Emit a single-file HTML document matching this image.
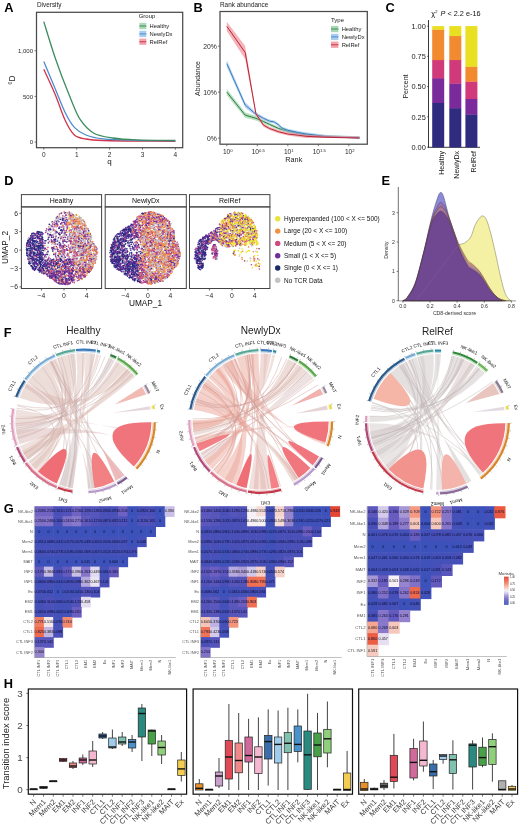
<!DOCTYPE html>
<html><head><meta charset="utf-8"><style>
html,body{margin:0;padding:0;background:#fff;}
svg{display:block;font-family:"Liberation Sans", sans-serif;filter:blur(0.35px);}
</style></head><body>
<svg width="520" height="832" viewBox="0 0 520 832">
<rect width="520" height="832" fill="#fff"/>
<text x="4.3" y="12.3" font-size="12.8" text-anchor="start" fill="#000" font-weight="bold">A</text>
<text x="37" y="6.8" font-size="6.4" text-anchor="start" fill="#222">Diversity</text>
<rect x="36.5" y="12.3" width="146.2" height="135.4" fill="none" stroke="#4a4a4a" stroke-width="1.25"/>
<line x1="34.5" y1="142.1" x2="36.5" y2="142.1" stroke="#555" stroke-width="0.8"/>
<text x="33" y="144.2" font-size="6" text-anchor="end" fill="#2a2a2a">0</text>
<line x1="34.5" y1="96.4" x2="36.5" y2="96.4" stroke="#555" stroke-width="0.8"/>
<text x="33" y="98.5" font-size="6" text-anchor="end" fill="#2a2a2a">500</text>
<line x1="34.5" y1="50.7" x2="36.5" y2="50.7" stroke="#555" stroke-width="0.8"/>
<text x="33" y="52.8" font-size="6" text-anchor="end" fill="#2a2a2a">1,000</text>
<line x1="43.8" y1="147.7" x2="43.8" y2="149.7" stroke="#555" stroke-width="0.8"/>
<text x="43.8" y="156.8" font-size="6.5" text-anchor="middle" fill="#2a2a2a">0</text>
<line x1="76.7" y1="147.7" x2="76.7" y2="149.7" stroke="#555" stroke-width="0.8"/>
<text x="76.7" y="156.8" font-size="6.5" text-anchor="middle" fill="#2a2a2a">1</text>
<line x1="109.6" y1="147.7" x2="109.6" y2="149.7" stroke="#555" stroke-width="0.8"/>
<text x="109.6" y="156.8" font-size="6.5" text-anchor="middle" fill="#2a2a2a">2</text>
<line x1="142.5" y1="147.7" x2="142.5" y2="149.7" stroke="#555" stroke-width="0.8"/>
<text x="142.5" y="156.8" font-size="6.5" text-anchor="middle" fill="#2a2a2a">3</text>
<line x1="175.4" y1="147.7" x2="175.4" y2="149.7" stroke="#555" stroke-width="0.8"/>
<text x="175.4" y="156.8" font-size="6.5" text-anchor="middle" fill="#2a2a2a">4</text>
<text x="109.6" y="164.3" font-size="8" text-anchor="middle" fill="#111">q</text>
<text x="14.6" y="80" font-size="8.3" text-anchor="middle" fill="#222" transform="rotate(-90 14.6 80)"><tspan font-size="5" dy="-2.8">0</tspan><tspan dy="2.8">D</tspan></text>
<path d="M43.8 69.3C45.7 73.5 51.8 86.3 55.3 94.7C58.8 103.1 61.7 113 64.9 119.7C68 126.4 70.9 131.8 74.4 135C77.9 138.2 81.1 138.1 85.9 139C90.7 139.9 95 140.2 103.3 140.5C111.7 140.8 123.9 141 135.9 141.1C147.9 141.2 168.8 141.3 175.4 141.3" fill="none" stroke="#d13349" stroke-width="1.3"/>
<path d="M43.8 61.6C45.7 66.2 51.8 80.5 55.3 88.9C58.8 97.3 61.7 105.6 64.9 112C68 118.4 70.9 123.6 74.4 127.4C77.9 131.2 81.1 133.1 85.9 135C90.7 136.9 95 138 103.3 138.9C111.7 139.8 123.9 140 135.9 140.3C147.9 140.6 168.8 140.7 175.4 140.8" fill="none" stroke="#4d8bd1" stroke-width="1.3"/>
<path d="M43.8 21.6C45.7 27.7 51 45.7 55.3 58.2C59.6 70.7 65.6 86.3 69.8 96.6C74 106.8 76.3 113.6 80.3 119.7C84.3 125.8 88.4 130.1 93.8 133.2C99.2 136.2 105.9 136.9 112.9 138C119.9 139.1 125.5 139.5 135.9 139.9C146.3 140.3 168.8 140.4 175.4 140.5" fill="none" stroke="#3d8c5f" stroke-width="1.3"/>
<text x="138.7" y="18.2" font-size="6" text-anchor="start" fill="#222">Group</text>
<rect x="139.4" y="22.9" width="6.9" height="6.3" fill="#a9d8b4"/>
<line x1="139.4" y1="26" x2="146.3" y2="26" stroke="#3d8c5f" stroke-width="1"/>
<text x="149.6" y="28.1" font-size="5.8" text-anchor="start" fill="#222">Healthy</text>
<rect x="139.4" y="30.8" width="6.9" height="6.3" fill="#a9cdef"/>
<line x1="139.4" y1="33.9" x2="146.3" y2="33.9" stroke="#4d8bd1" stroke-width="1"/>
<text x="149.6" y="36" font-size="5.8" text-anchor="start" fill="#222">NewlyDx</text>
<rect x="139.4" y="38.6" width="6.9" height="6.3" fill="#f2a3ab"/>
<line x1="139.4" y1="41.8" x2="146.3" y2="41.8" stroke="#d13349" stroke-width="1"/>
<text x="149.6" y="43.9" font-size="5.8" text-anchor="start" fill="#222">RelRef</text>
<text x="193.5" y="12" font-size="12.8" text-anchor="start" fill="#000" font-weight="bold">B</text>
<text x="220" y="6.5" font-size="6.4" text-anchor="start" fill="#222">Rank abundance</text>
<rect x="220" y="11.5" width="147.3" height="132.7" fill="none" stroke="#4a4a4a" stroke-width="1.25"/>
<line x1="218" y1="138.1" x2="220" y2="138.1" stroke="#555" stroke-width="0.8"/>
<text x="216.8" y="140.6" font-size="6.8" text-anchor="end" fill="#2a2a2a">0%</text>
<line x1="218" y1="92.1" x2="220" y2="92.1" stroke="#555" stroke-width="0.8"/>
<text x="216.8" y="94.6" font-size="6.8" text-anchor="end" fill="#2a2a2a">10%</text>
<line x1="218" y1="46.1" x2="220" y2="46.1" stroke="#555" stroke-width="0.8"/>
<text x="216.8" y="48.6" font-size="6.8" text-anchor="end" fill="#2a2a2a">20%</text>
<line x1="226.8" y1="144.2" x2="226.8" y2="146.2" stroke="#555" stroke-width="0.8"/>
<text x="227.8" y="154.3" font-size="6.6" text-anchor="middle" fill="#2a2a2a">10<tspan font-size="4.2" dy="-2.8">0</tspan></text>
<line x1="257.3" y1="144.2" x2="257.3" y2="146.2" stroke="#555" stroke-width="0.8"/>
<text x="258.3" y="154.3" font-size="6.6" text-anchor="middle" fill="#2a2a2a">10<tspan font-size="4.2" dy="-2.8">0.5</tspan></text>
<line x1="287.8" y1="144.2" x2="287.8" y2="146.2" stroke="#555" stroke-width="0.8"/>
<text x="288.8" y="154.3" font-size="6.6" text-anchor="middle" fill="#2a2a2a">10<tspan font-size="4.2" dy="-2.8">1</tspan></text>
<line x1="318.3" y1="144.2" x2="318.3" y2="146.2" stroke="#555" stroke-width="0.8"/>
<text x="319.3" y="154.3" font-size="6.6" text-anchor="middle" fill="#2a2a2a">10<tspan font-size="4.2" dy="-2.8">1.5</tspan></text>
<line x1="348.8" y1="144.2" x2="348.8" y2="146.2" stroke="#555" stroke-width="0.8"/>
<text x="349.8" y="154.3" font-size="6.6" text-anchor="middle" fill="#2a2a2a">10<tspan font-size="4.2" dy="-2.8">2</tspan></text>
<text x="293.8" y="162.3" font-size="7.3" text-anchor="middle" fill="#222">Rank</text>
<text x="199.5" y="78.5" font-size="6.9" text-anchor="middle" fill="#222" transform="rotate(-90 199.5 78.5)">Abundance</text>
<polygon points="226.8,88.9 245.2,112.5 255.9,116.1 263.5,119.7 269.4,122.7 278.4,126.8 287.8,129.6 298.5,131.9 306.2,133.3 324.5,134.9 342.9,135.8 359.5,136.3 359.5,138.1 342.9,138.1 324.5,138.1 306.2,136.5 298.5,135.1 287.8,132.8 278.4,130 269.4,125.9 263.5,123.4 255.9,120.5 245.2,117.7 226.8,95.3" fill="#8fcf9c" opacity="0.65"/>
<polyline points="226.8,92.1 245.2,115.1 255.9,118.3 263.5,121.5 269.4,124.3 278.4,128.4 287.8,131.2 298.5,133.5 306.2,134.9 324.5,136.5 342.9,137.4 359.5,137.9" fill="none" stroke="#2f7a48" stroke-width="1"/>
<polygon points="226.8,60.1 245.2,102.3 255.9,112.2 263.5,116.7 269.4,119.5 274.3,120.4 278.4,123.1 281.9,126.4 287.8,128.7 298.5,131 306.2,132.3 324.5,134.7 342.9,135.8 359.5,136.3 359.5,138.1 342.9,138.1 324.5,137.9 306.2,135.6 298.5,134.2 287.8,131.9 281.9,129.6 278.4,126.4 274.3,123.6 269.4,122.7 263.5,119.9 255.9,116.1 245.2,107.7 226.8,67" fill="#8fc3ee" opacity="0.65"/>
<polyline points="226.8,63.6 245.2,105 255.9,114.2 263.5,118.3 269.4,121.1 274.3,122 278.4,124.8 281.9,128 287.8,130.3 298.5,132.6 306.2,134 324.5,136.3 342.9,137.4 359.5,137.9" fill="none" stroke="#3f78bc" stroke-width="1"/>
<polygon points="226.8,21.7 245.2,45.9 255.9,111.8 263.5,123.6 269.4,126.8 278.4,130 287.8,132.3 298.5,133.7 306.2,134.7 324.5,135.6 342.9,136.1 359.5,136.4 359.5,138.1 342.9,138.1 324.5,138.1 306.2,137.9 298.5,136.9 287.8,135.6 278.4,133.3 269.4,130 263.5,126.8 255.9,115.6 245.2,59.2 226.8,30.9" fill="#f08a95" opacity="0.65"/>
<polyline points="226.8,26.3 245.2,52.5 255.9,113.7 263.5,125.2 269.4,128.4 278.4,131.7 287.8,134 298.5,135.3 306.2,136.3 324.5,137.2 342.9,137.7 359.5,138" fill="none" stroke="#b82436" stroke-width="1"/>
<text x="331" y="22" font-size="6" text-anchor="start" fill="#222">Type</text>
<rect x="331" y="25.9" width="7.4" height="6.3" fill="#a9d8b4"/>
<line x1="331" y1="29" x2="338.4" y2="29" stroke="#3d8c5f" stroke-width="1"/>
<text x="341.7" y="31.1" font-size="5.8" text-anchor="start" fill="#222">Healthy</text>
<rect x="331" y="33.8" width="7.4" height="6.3" fill="#a9cdef"/>
<line x1="331" y1="36.9" x2="338.4" y2="36.9" stroke="#4d8bd1" stroke-width="1"/>
<text x="341.7" y="39" font-size="5.8" text-anchor="start" fill="#222">NewlyDx</text>
<rect x="331" y="41.6" width="7.4" height="6.3" fill="#f2a3ab"/>
<line x1="331" y1="44.8" x2="338.4" y2="44.8" stroke="#d13349" stroke-width="1"/>
<text x="341.7" y="46.9" font-size="5.8" text-anchor="start" fill="#222">RelRef</text>
<text x="385.5" y="11.5" font-size="12.8" text-anchor="start" fill="#000" font-weight="bold">C</text>
<text x="431.3" y="16.3" font-size="7.3" text-anchor="start" fill="#111">&#967;<tspan font-size="4" dy="-2.8">2</tspan><tspan dy="2.8" dx="3.2" font-style="italic">P</tspan> &lt; 2.2 e-16</text>
<line x1="428.5" y1="20" x2="428.5" y2="147.6" stroke="#222" stroke-width="0.9"/>
<line x1="428.1" y1="147.3" x2="480" y2="147.3" stroke="#222" stroke-width="0.9"/>
<line x1="427.3" y1="147.1" x2="428.5" y2="147.1" stroke="#222" stroke-width="0.8"/>
<text x="425.8" y="149.8" font-size="7.4" text-anchor="end" fill="#222">0.00</text>
<line x1="427.3" y1="116.8" x2="428.5" y2="116.8" stroke="#222" stroke-width="0.8"/>
<text x="425.8" y="119.5" font-size="7.4" text-anchor="end" fill="#222">0.25</text>
<line x1="427.3" y1="86.6" x2="428.5" y2="86.6" stroke="#222" stroke-width="0.8"/>
<text x="425.8" y="89.3" font-size="7.4" text-anchor="end" fill="#222">0.50</text>
<line x1="427.3" y1="56.3" x2="428.5" y2="56.3" stroke="#222" stroke-width="0.8"/>
<text x="425.8" y="59" font-size="7.4" text-anchor="end" fill="#222">0.75</text>
<line x1="427.3" y1="26.1" x2="428.5" y2="26.1" stroke="#222" stroke-width="0.8"/>
<text x="425.8" y="28.8" font-size="7.4" text-anchor="end" fill="#222">1.00</text>
<text x="408.2" y="86.5" font-size="7" text-anchor="middle" fill="#222" transform="rotate(-90 408.2 86.5)">Percent</text>
<rect x="432.2" y="102.7" width="12" height="44.7" fill="#2f2c80"/>
<rect x="432.2" y="78.1" width="12" height="24.9" fill="#7a2a9a"/>
<rect x="432.2" y="59.7" width="12" height="18.7" fill="#d03a7a"/>
<rect x="432.2" y="29.4" width="12" height="30.7" fill="#f28a30"/>
<rect x="432.2" y="26.1" width="12" height="3.6" fill="#e8e020"/>
<rect x="449.3" y="108.1" width="12" height="39.3" fill="#2f2c80"/>
<rect x="449.3" y="83.3" width="12" height="25.1" fill="#7a2a9a"/>
<rect x="449.3" y="59.7" width="12" height="23.9" fill="#d03a7a"/>
<rect x="449.3" y="35.8" width="12" height="24.3" fill="#f28a30"/>
<rect x="449.3" y="26.1" width="12" height="10" fill="#e8e020"/>
<rect x="465.4" y="114.3" width="12" height="33.1" fill="#2f2c80"/>
<rect x="465.4" y="98.7" width="12" height="15.9" fill="#7a2a9a"/>
<rect x="465.4" y="81.4" width="12" height="17.6" fill="#d03a7a"/>
<rect x="465.4" y="66.4" width="12" height="15.3" fill="#f28a30"/>
<rect x="465.4" y="26.1" width="12" height="40.6" fill="#e8e020"/>
<text x="443.6" y="151" font-size="7" text-anchor="end" fill="#111" transform="rotate(-90 443.6 151)">Healthy</text>
<text x="459.4" y="151" font-size="7" text-anchor="end" fill="#111" transform="rotate(-90 459.4 151)">NewlyDx</text>
<text x="476.2" y="151" font-size="7" text-anchor="end" fill="#111" transform="rotate(-90 476.2 151)">RelRef</text>
<text x="4.2" y="184.6" font-size="12.8" text-anchor="start" fill="#000" font-weight="bold">D</text>
<rect x="21.4" y="194.6" width="80.2" height="12.3" fill="#fff" stroke="#444" stroke-width="1"/>
<text x="61.5" y="203.4" font-size="7" text-anchor="middle" fill="#111">Healthy</text>
<rect x="105.2" y="194.6" width="81.1" height="12.3" fill="#fff" stroke="#444" stroke-width="1"/>
<text x="145.8" y="203.4" font-size="7" text-anchor="middle" fill="#111">NewlyDx</text>
<rect x="189.5" y="194.6" width="80.4" height="12.3" fill="#fff" stroke="#444" stroke-width="1"/>
<text x="229.7" y="203.4" font-size="7" text-anchor="middle" fill="#111">RelRef</text>
<path d="M89.1 264.9h.1M27.8 245.3h.1M64.4 249.9h.1M66.4 280.6h.1M37.3 264h.1M56.6 278.3h.1M96.1 251.6h.1M32.7 240.8h.1M37 264.5h.1M61.2 213.4h.1M72 262.7h.1M55.7 271h.1M33.1 248h.1M40.8 269.8h.1M27.9 256.8h.1M32.8 243.9h.1M38.1 269.2h.1M65.8 280.4h.1M57.8 268.2h.1M28.6 240.7h.1M42.3 265.8h.1M44.4 242.7h.1M41.4 243.4h.1M43.6 265.2h.1M85.7 235.8h.1M44.5 266.5h.1M39.2 262.9h.1M33.8 235.2h.1M33.1 262.7h.1M35 241.2h.1M50.5 229.1h.1M31.2 243.2h.1M47.5 268.1h.1M37.3 236.2h.1M29.3 241.7h.1M49.4 263.9h.1M70.8 229.8h.1M58.1 272.8h.1M84.1 230.7h.1M36 263.3h.1M38.4 260.3h.1M40.4 262.9h.1M39.5 272h.1M32 261.9h.1M51.2 225.8h.1M70 233.3h.1M59.8 253.8h.1M61 277.4h.1M40.4 265.3h.1M41.5 235.5h.1M82 234.2h.1M34 265.2h.1M42.9 243h.1M28.6 239.4h.1M40.4 241.1h.1M42.7 266.4h.1M77.8 237.1h.1M40.4 245.1h.1M54.4 266.2h.1M31.2 251.7h.1M37.1 260.7h.1M60.4 271.7h.1M42 260.7h.1M34.4 262.2h.1M58 263.3h.1M52.2 221.9h.1M53.7 259.3h.1M57.9 220.2h.1M42.5 255.3h.1M90.1 260h.1M42.9 265.4h.1M64.7 264.7h.1M32.8 257.2h.1M42.1 232.8h.1M81.7 272.1h.1M50.7 229.8h.1M39.6 251.6h.1M40.1 234.7h.1M51.5 262.1h.1M78.9 264.3h.1M32.5 268.4h.1M41.6 259.4h.1M34.7 266.4h.1M94.4 261.7h.1M82.7 274.9h.1M95.4 250h.1M40 268.1h.1M43.7 254.5h.1M32.8 238.5h.1M87 236.3h.1M36 256.4h.1M57.6 260.8h.1M39.9 246.3h.1M47.8 263.7h.1M54.5 266.8h.1M66.5 242h.1M44.8 256.6h.1M33.4 263.5h.1M59.4 267.1h.1M83.2 257.8h.1M30.2 242.5h.1M64.6 263.1h.1M33.9 237.1h.1M51.1 268.8h.1M51.3 264.9h.1M47.9 251.4h.1M46 268.8h.1M64.1 226.7h.1M51.8 276.6h.1M36.5 255.6h.1M50.5 263.8h.1M69.5 236.9h.1M64.7 281.6h.1M34.1 268.6h.1M64.5 213h.1M42.6 252.9h.1M62.2 252.6h.1M85.1 272.5h.1M64.5 234.1h.1M85.8 236h.1M36.1 249h.1M31.7 240h.1M35.2 269.5h.1M42.3 267.5h.1M37.7 238.3h.1M58.7 272.7h.1M30.8 252.3h.1M39.4 262.4h.1M79.3 223.1h.1M62.6 270h.1M75.6 248.8h.1M41.2 258.9h.1M34.3 249.6h.1M83.6 275.1h.1M40 263.6h.1M30.7 246.6h.1M44.2 248.3h.1M61.6 266.8h.1M37.7 257.6h.1M65.6 215.3h.1M71 262.4h.1M31.2 259.5h.1M62.4 265h.1M52.1 265.9h.1M38.6 232.7h.1M38 265.3h.1M90.3 264.5h.1M60.5 272.7h.1M76.6 252.8h.1M29.6 253.2h.1M88.9 272.3h.1M58 263.8h.1M32.9 233.2h.1M50.1 276.5h.1M41.5 232.3h.1M51 225.5h.1M52.8 251.1h.1M36.2 262.5h.1M36.9 255.1h.1M29.1 242h.1M45.2 266.2h.1M43.7 265.8h.1M85.7 262.2h.1M51 260.3h.1M28.5 239.2h.1M30.9 238.8h.1M41.3 252.1h.1M26.9 250.4h.1M73.3 265.2h.1M63.5 283h.1M40 238.2h.1M62.3 230.9h.1M64.5 245.1h.1M29.7 246.6h.1M38.6 231.7h.1M31.4 252h.1M61.6 233.1h.1M67.4 254.3h.1M34.5 266.2h.1M37.3 235.4h.1M55.7 265.8h.1M39.6 239.6h.1M69.7 263.5h.1M58.2 271.5h.1M53.6 274.1h.1M40.2 259.1h.1M65.2 284.4h.1M54.9 263.6h.1M30.8 263.3h.1M49.5 263.7h.1M47.4 260.2h.1M33.7 257.8h.1M26.9 253.7h.1M56.1 271.7h.1M37.8 233.9h.1M89 261.5h.1M34.6 247.7h.1M57.9 259.9h.1M62.2 270.9h.1M39.9 250.1h.1M48.2 273.5h.1M38.7 247.8h.1M43.6 250.6h.1M28.6 238.2h.1M36.7 267.9h.1M39.6 268.6h.1M45.1 248.2h.1M60.8 251.1h.1M39.9 245.3h.1M87.2 264.2h.1M78.9 247.9h.1M57 221.8h.1M43.2 269.9h.1M42.6 248.7h.1M30.5 259.1h.1M38.9 246.3h.1M29.4 242.1h.1M49.2 271.2h.1M60.5 236.5h.1M63.6 277.3h.1M30.5 246.8h.1M47.8 264.1h.1M55.4 255h.1M36.2 267.6h.1M61 279.5h.1M58.3 255.9h.1M41.4 256.5h.1M65.1 220.7h.1M44.3 272.8h.1M38.7 245.2h.1M31.3 258.5h.1M65.5 267.6h.1M38.9 248h.1M42.7 245.2h.1M27.7 245.7h.1M32.4 245h.1M88.4 230.7h.1M66 235.1h.1M35.3 234.2h.1M50.8 265.6h.1M28.3 251.3h.1M68.3 264.6h.1M46.8 271.1h.1M40.2 257.7h.1" stroke="#262a80" stroke-width="1.6" stroke-linecap="round" fill="none"/>
<path d="M71.3 280.9h.1M61.1 254.7h.1M28.2 250.2h.1M71.1 277.4h.1M39 269.3h.1M45.5 260.7h.1M53.3 236.3h.1M45.1 248.6h.1M52.1 275.4h.1M70.5 243.2h.1M85.1 276.8h.1M28.4 241.8h.1M26.5 247.5h.1M89.5 268.2h.1M41.3 261.6h.1M91.3 268.9h.1M91.2 269.5h.1M70 261.5h.1M73 271.4h.1M87.4 270.6h.1M77.5 252h.1M70.2 263.3h.1M34.9 263.8h.1M64.6 222.4h.1M59.1 264.5h.1M67.6 254.1h.1M77.9 227.7h.1M53.9 241.1h.1M49.3 260.1h.1M93.1 262.2h.1M57.8 274.7h.1M75.6 239.4h.1M28.7 252.6h.1M36.5 267.7h.1M45.1 243.3h.1M88.7 231.1h.1M53.3 229.2h.1M60.2 264.4h.1M29.3 239.4h.1M58.2 275.8h.1M50.1 273.2h.1M69.3 283.5h.1M55.8 241.3h.1M83.1 246.7h.1M70.1 277h.1M58.9 270.8h.1M75.4 252.3h.1M69.6 271.9h.1M30.5 244.2h.1M84.4 250.9h.1M78.9 239.7h.1M65.4 232.8h.1M83.4 232.4h.1M43.7 259.7h.1M68.1 280.5h.1M63.1 245.8h.1M83.1 253.7h.1M70.3 282.6h.1M68.5 270.2h.1M62.9 254.6h.1M42.6 257.3h.1M36.5 262.7h.1M40.4 264.4h.1M44.5 272.3h.1M55.4 276.8h.1M37.3 264h.1M67.4 268.6h.1M53.2 247.6h.1M74 231.8h.1M83.8 248.7h.1M76.3 260.8h.1M43.6 269.3h.1M72.1 246.7h.1M27.1 244.1h.1M67.4 271.2h.1M44.8 260.3h.1M86.3 234.2h.1M66.6 246.3h.1M92.6 243.6h.1M72.8 259.6h.1M64.2 271.7h.1M92.4 267.6h.1M33.5 263.2h.1M75.4 244.5h.1M70.2 267h.1M60.8 278.1h.1M64.7 223.9h.1M42.8 268.7h.1M33.7 244.9h.1M66.1 278.8h.1M73.8 263.5h.1M46.6 270.4h.1M63.2 219.2h.1M70 250.1h.1M38.7 262h.1M27.2 245.6h.1M34.2 262.2h.1M80.1 270.6h.1M29.4 244.5h.1M86.9 259.2h.1M42.8 246.4h.1M62.8 261.9h.1M78.6 277h.1M75.5 235.6h.1M48.6 266.2h.1M53.6 263.6h.1M48.6 272.2h.1M70.7 266.3h.1M64.2 250.1h.1M30.4 251h.1M50.5 259.1h.1M51.5 273.8h.1M79.1 265.4h.1M67.8 268.1h.1M53.5 230.2h.1M66.3 280.6h.1M31.1 251.4h.1M75.6 258.9h.1M36.3 246.3h.1M62.6 273.6h.1M69.3 266.7h.1M80 245.2h.1M56.2 274.2h.1M56.8 271.8h.1M80 275.4h.1M88.7 248.7h.1M64.6 251.8h.1M27.6 242.7h.1M93.6 243.8h.1M69.3 273h.1M66 224h.1M77.1 268h.1M93.3 264.1h.1M74.2 233.4h.1M61.4 259.9h.1M89.1 268.8h.1M72.9 280.6h.1M72.9 222.7h.1M63.9 262.9h.1M89 239.3h.1M72 269.2h.1M66.8 275.4h.1M90.8 262h.1M40.1 241.9h.1M81.4 260.9h.1M58 261.6h.1M70.1 224.3h.1M54.9 244.2h.1M86.8 235.8h.1M69.2 280.1h.1M83.3 270.7h.1M43.5 245.7h.1M58.3 273.8h.1M84.7 266.9h.1M70.6 275.9h.1M41.3 269.1h.1M71.4 246.6h.1M62 232.1h.1M65.9 283.6h.1M49.9 275.2h.1M65.2 276.1h.1M56.6 270.8h.1M55 240.6h.1M39.8 243.1h.1M53.9 271.6h.1M66.7 280.7h.1M35.5 241.1h.1M83.9 250.1h.1M29.7 258h.1M58.8 263.3h.1M47.4 274.2h.1M40.8 271.7h.1M58 272.4h.1M60.3 253.7h.1M49.1 259.3h.1M53.9 275.5h.1M69.6 280.3h.1M63.8 281.9h.1M65.5 262.9h.1M72.3 244.2h.1M59.1 264.2h.1M89.9 267.2h.1M72.9 280.5h.1M57.4 232.2h.1M69.8 279.6h.1M45.4 254.8h.1M37.1 245h.1M82.4 261h.1M55.3 264.2h.1M32.7 245.5h.1M49.3 229.6h.1M69.3 264h.1M71.9 271.5h.1M83.5 257.6h.1M67.6 271.9h.1M78.8 280.1h.1M74.2 243.5h.1M36.8 250.7h.1M45 255.5h.1M80.7 227.5h.1M74.8 261.7h.1M54.9 277.2h.1M37.6 235.8h.1M82.3 262.2h.1M56.1 274.5h.1M91.7 242.6h.1M40.8 240.5h.1M71.1 252.4h.1M66.5 234.9h.1M30.1 241.2h.1M63.4 277.8h.1M69.9 273.5h.1M42.9 258.9h.1M79.9 272.1h.1M72.7 221.3h.1M32.1 237.1h.1M76.9 271.6h.1M51.9 247.6h.1M42.8 263h.1M41.7 272.1h.1M61.4 269.5h.1M62.5 265.3h.1M70.5 252.3h.1M73 229.1h.1M48.8 267.1h.1M52.7 276.1h.1M45.5 261.8h.1M59.4 281.5h.1M42.8 270.1h.1" stroke="#70309c" stroke-width="1.6" stroke-linecap="round" fill="none"/>
<path d="M89.1 269.9h.1M42.2 270.9h.1M91.8 244h.1M71.8 270.2h.1M96.4 247.7h.1M73.4 233.6h.1M63.8 261.5h.1M95.2 258.7h.1M74 239.3h.1M69.9 235.5h.1M89.8 253.9h.1M68.1 279.6h.1M66.6 267h.1M55.1 230.9h.1M41.4 257.1h.1M80.7 226.5h.1M76.3 269.1h.1M71.8 268.9h.1M81.9 278.4h.1M51.5 277.6h.1M36.3 244.3h.1M48.5 229.3h.1M29.6 252.9h.1M74.8 250h.1M56.5 223h.1M34.2 269.5h.1M81.9 273h.1M73.8 249.2h.1M77.8 231.6h.1M88 252.2h.1M66.2 215.3h.1M57.5 271.9h.1M70.7 232.9h.1M79.1 249.3h.1M33.8 269.1h.1M49.8 267.9h.1M79.8 266.7h.1M50.8 272.5h.1M86.3 228.7h.1M74.5 270.1h.1M53.9 264h.1M54 246.9h.1M93.4 256.8h.1M77.7 265.3h.1M87.2 271.5h.1M85.2 269.3h.1M68.3 264.3h.1M55.1 243.2h.1M93 256.6h.1M70.1 223.1h.1M78.6 236.7h.1M79.9 231.3h.1M77.6 270.2h.1M76.8 268.7h.1M83 245h.1M45.4 273.5h.1M82.4 234h.1M65.8 265.2h.1M76.3 268.7h.1M65.5 270.7h.1M72.4 217.8h.1M54.3 242.6h.1M82.8 246.3h.1M64.2 255.9h.1M61.7 280.1h.1M80.3 245.8h.1M84.9 244.7h.1M41.8 267.5h.1M59.3 258.9h.1M80.7 233.6h.1M83.5 245.9h.1M83.8 233.9h.1M84.9 247.3h.1M84.3 274.6h.1M55.1 262.8h.1M71.5 265.6h.1M49.2 265.9h.1M56 268.9h.1M88.7 251.3h.1M89.2 261.7h.1M29 261.1h.1M39.4 260h.1M50.5 271.7h.1M71.6 251.5h.1M71.6 219.8h.1M53.6 270.5h.1M73.9 266.8h.1M72 279.3h.1M79.1 253.6h.1M64.4 239.9h.1M67.3 284.6h.1M78.5 272.4h.1M69.1 212.2h.1M89 269.5h.1M63.2 270.2h.1M58.6 271.4h.1M86.7 266.3h.1M86.8 244.8h.1M89.5 266.4h.1M67.2 228.5h.1M72.2 235.6h.1M59.7 232.7h.1M82.1 246.7h.1M91.3 260.7h.1M90.6 258.8h.1M77.4 227.6h.1M92.7 263h.1M82.8 223.8h.1M84.8 252.1h.1M69.7 214.8h.1M72.3 233.4h.1M80.8 259.9h.1M53.9 227h.1M79.2 255.4h.1M81.1 241.9h.1M57.1 224.2h.1M79.3 270.6h.1M77.7 273.5h.1M87.9 264.7h.1M69 250.4h.1M90.3 237.4h.1M72 264.4h.1M59.3 214.1h.1M86 235.1h.1M79.5 268.6h.1M84 277.2h.1M67.8 241.6h.1M49.5 237h.1M71.6 216.1h.1M68.5 247.1h.1M63.6 266.4h.1M67.6 237.9h.1M87.9 233.9h.1M65.8 235.1h.1M66.4 260.3h.1M84.9 271.8h.1M83.4 269h.1M39.8 239.7h.1M68 266.7h.1M57.1 249h.1M83.5 264h.1M66.8 229.3h.1M60.2 234.5h.1M78.9 235.8h.1M55.4 254.1h.1M67.5 227.2h.1M67.5 261.8h.1M88.9 233.8h.1M76.3 226.3h.1M67.4 270.9h.1M70.8 242.8h.1M55.1 268.6h.1M84.6 225.9h.1M48.6 271.3h.1M81 237.5h.1M71.2 224.5h.1M80.8 224h.1M83 262.3h.1M92.5 241.8h.1M81.2 250.4h.1M74.7 262.9h.1M71.1 244.3h.1M82 229.5h.1M54.2 279.3h.1M79.7 221.3h.1M63.5 266.2h.1M76.2 236.3h.1M79 270.3h.1M57.3 225.8h.1M83.2 260.1h.1M60.9 268.1h.1M72 273.7h.1M37.3 246.1h.1M84.6 238.7h.1M82.7 252.6h.1M81 253.7h.1M32.7 268.8h.1M72.1 225.8h.1M96.7 254.1h.1M70.8 265.2h.1M89.6 251.5h.1M77.7 237.9h.1M81.2 268h.1M85.5 230.1h.1M34.9 246.7h.1M70.3 215.3h.1M53.9 261.3h.1M57.7 267.3h.1" stroke="#c8508a" stroke-width="1.6" stroke-linecap="round" fill="none"/>
<path d="M73 216.8h.1M72.1 238.8h.1M70.4 222.4h.1M88.9 272h.1M79.5 230.2h.1M75.3 262.3h.1M92.8 263.7h.1M93.8 251.7h.1M74.2 279.3h.1M89.7 245.3h.1M87.1 272.2h.1M90.1 268.9h.1M78.6 219h.1M59.9 252.7h.1M64.4 265.8h.1M74.9 222.1h.1M90.6 270.6h.1M69.1 236.8h.1M66.3 275.3h.1M78.4 233h.1M91.6 246.4h.1M82.6 263.4h.1M81.9 276.2h.1M79 263.7h.1M92.7 261h.1M48.4 264.7h.1M44.7 245.5h.1M62.3 252.2h.1M89.7 265.1h.1M89.1 264.1h.1M80.8 222.5h.1M81.6 220.2h.1M76.2 214.6h.1M80.2 247.9h.1M69.3 282.3h.1M82.9 255.1h.1M77.2 262.1h.1M79.3 224h.1M88.3 264.4h.1M90.1 250.6h.1M96.4 251.5h.1M64.4 259.1h.1M77.4 221.6h.1M89.3 245.3h.1M80.2 268h.1M81.2 242.7h.1M79.7 261.1h.1M71.7 277h.1M74.1 226.8h.1M62.3 277.3h.1M93 258.3h.1M80.4 255.2h.1M54.3 230.1h.1M83.9 269.1h.1M75.4 252.1h.1M91.1 254.7h.1M72.8 223h.1M57.4 259.9h.1M75.7 243.1h.1M61.8 270.7h.1M78.4 274.8h.1M78.8 227.1h.1M88.6 243.7h.1M85.9 253h.1M71.1 220.4h.1M60.6 282.1h.1M71.7 238.3h.1M93 265h.1M72.1 236.6h.1M91.1 242.7h.1M85.4 251.8h.1M73.6 234.9h.1M86 245.3h.1M54.8 246.6h.1M76.3 237h.1M64.8 253.6h.1M86.8 272.2h.1M80.2 228.1h.1M89.1 253.5h.1M74.3 224.6h.1M57.9 218.2h.1M87.1 248.7h.1M76.8 222.9h.1M61.2 267.8h.1M62.9 269.8h.1M82.3 259h.1M83.1 236.1h.1M91 262.6h.1M85.7 248.7h.1M97.2 253.1h.1M86.6 249.9h.1M78.5 238.5h.1M69.9 268h.1M76.6 262.3h.1M56.9 272.5h.1M54.4 267.9h.1M89.3 238.5h.1M75.6 224.4h.1M79 222.4h.1M73.2 257.9h.1M87.1 259.7h.1M49.9 260.5h.1M92.5 250.4h.1M84.2 274.9h.1M95.3 253.6h.1M65.3 283.3h.1M74.4 274.7h.1M74.6 226.9h.1M76.1 226.7h.1M95.5 256.6h.1M76.9 220.6h.1M72.8 234.2h.1M91 258h.1M70.1 224.2h.1M90.4 258.9h.1M65 247.4h.1M72.2 280.7h.1M88.9 266.1h.1M77.3 242.3h.1M59.3 250.5h.1M89.8 247.2h.1M63.5 250.1h.1M79.9 217.6h.1M82.1 266.1h.1M79.9 236.6h.1M67.4 213.1h.1M84.5 225.5h.1M88.7 254.3h.1M88.5 251.6h.1M73.8 252.3h.1M75.8 220.7h.1M80.3 264.2h.1M58.9 251.5h.1M82 257.2h.1M60.4 279.8h.1M92.9 266.1h.1M80.9 223.1h.1M83.9 230.4h.1M84.2 270.7h.1M94 250.6h.1M70.8 215.9h.1M58.5 253.8h.1M89.5 258.8h.1M76.2 217.8h.1M85 225.1h.1" stroke="#f0904a" stroke-width="1.6" stroke-linecap="round" fill="none"/>
<path d="M87.6 248.9h.1M75.9 242.1h.1M69.3 216.1h.1M74.3 261.6h.1M81.8 257.9h.1M89.6 262h.1M82.5 247.7h.1M75.6 223.6h.1M79.3 216.4h.1M69.3 229.4h.1" stroke="#eee42a" stroke-width="1.6" stroke-linecap="round" fill="none"/>
<path d="M76.2 255h.1M78.9 251.9h.1M80 248.4h.1M80.9 233.1h.1M49 231.7h.1M66.9 237.7h.1M34 247.4h.1M80.1 262.4h.1M71.6 262.3h.1M77.5 257.6h.1M93.8 249.5h.1M86.7 245.8h.1M91.6 256.3h.1M84.5 253.7h.1M67.3 221.6h.1M70.9 229.9h.1M72.7 250.4h.1M68.5 238.5h.1M77.7 230.2h.1M73.7 238.8h.1M68.9 227.1h.1M79.8 236.5h.1M85 261.3h.1M75.2 233.8h.1M79.1 218.7h.1M84.5 237.3h.1M91 267h.1M83.8 248h.1M85.6 241.3h.1M31.7 257.2h.1M80.6 246h.1M81.9 240.4h.1M63 254.6h.1M77 243.7h.1M63.9 229.1h.1M79.4 250.9h.1M94.4 247.6h.1M86.3 258.5h.1M50.8 225.3h.1M80.5 271.1h.1M74.9 221.9h.1M74.9 236.4h.1M60.5 239.9h.1M72.9 242.5h.1M80.9 235.9h.1M89.3 237.7h.1M62.9 248.2h.1M56.2 230h.1M67 278.4h.1M90.3 239.1h.1M85.2 233.6h.1M40 257.4h.1M82.5 264.5h.1M86.7 265.1h.1M52.6 229h.1M78.8 216.6h.1M70.2 237.2h.1M74.6 258.4h.1M66.5 255.3h.1M64 257.8h.1M79.2 253.5h.1M52.1 235.3h.1M66.9 255.5h.1M69.8 256.5h.1M87.7 238.5h.1M81.7 233.9h.1M77.1 247.9h.1M73.2 256.4h.1M77 238h.1M88.9 252.5h.1M37.8 234.5h.1M51.1 265.6h.1M86.4 229.7h.1M86.9 273.5h.1M90.7 238h.1M74.9 241.2h.1M77 255.8h.1M74.6 243.8h.1M81.9 250.3h.1M93.3 260h.1M82 235.7h.1M57 243.9h.1M59.1 283.3h.1M81.2 275.5h.1M74.3 216.3h.1M72 254.3h.1M81.8 220.1h.1M82.5 262.4h.1M82.4 238.7h.1M70.7 221.8h.1M55.7 220h.1M81.3 221.1h.1M57.9 265.7h.1M86 252.3h.1M78.9 256.5h.1M78.3 278.6h.1M75 243.3h.1M54.9 236.6h.1M49.4 255.3h.1M79 261.3h.1M77.8 229.4h.1M73.9 237.1h.1M72.3 213.9h.1M72.2 279.6h.1M82.6 225.1h.1M32.3 265.7h.1M86.5 236.7h.1M94.3 245.9h.1M81.3 236.8h.1M33.9 252.4h.1M46.5 261.4h.1M72.2 257h.1M68.8 278.7h.1M30.8 259.6h.1M86.3 225.6h.1M67.2 270.8h.1M78.1 223.8h.1M86.2 266h.1M73.5 219.7h.1M72.5 242.8h.1M70.4 233.5h.1M77.5 224.8h.1M79 236.8h.1M74.2 230.3h.1M89.2 269.3h.1M93.6 246.1h.1M27.9 251.4h.1M71.1 241.3h.1M75.7 279.2h.1M85.2 269.6h.1M91 235.8h.1M38.3 244.1h.1M74.6 258.9h.1M72.1 248.9h.1M71.8 233.8h.1M79.4 232.1h.1M82.7 254h.1M73.9 228.9h.1M78.5 231.2h.1M50.8 232.2h.1M61.5 276.1h.1M82.7 219.5h.1M83.1 220.5h.1M45 250.8h.1M80.1 261.2h.1M81.1 254.9h.1M72.2 241.5h.1M85.8 225.6h.1M84.6 246.5h.1M74.7 281.2h.1M88.9 245.2h.1" stroke="#c8c4c8" stroke-width="1.6" stroke-linecap="round" fill="none"/>
<path d="M30.4 248.7h.1M34.7 242.1h.1M33.7 258h.1M55.1 280.8h.1M35 243.9h.1M67.2 262.8h.1M35.5 250.1h.1M48.5 237.6h.1M71.3 265.3h.1M31 265.5h.1M58.6 233.6h.1M32.7 236.6h.1M40.5 269.9h.1M56.2 260.2h.1M40.4 266.6h.1M33.5 240.5h.1M40.4 264.8h.1M32.6 257.1h.1M34.7 255.4h.1M33.9 237.7h.1M58.1 280.1h.1M46.5 263.9h.1M51.1 263.1h.1M59.4 276.3h.1M45.9 240.8h.1M41.9 270.2h.1M86.6 239h.1M69.2 240.6h.1M45.7 273h.1M63.4 281.7h.1M53.8 254.4h.1M81.3 254.4h.1M61 269.6h.1M35 249.1h.1M48 239.4h.1M80.2 217.7h.1M58.3 272.9h.1M54.5 275.4h.1M59.2 283.7h.1M45.5 263.1h.1M55.3 261.2h.1M29.3 248.8h.1M63.6 228.9h.1M53 260.3h.1M32.6 266.7h.1M33.1 268.9h.1M42.9 254.1h.1M35.7 253.8h.1M61.9 250.8h.1M28.4 240.3h.1M33.5 252h.1M52.2 259.9h.1M40.4 235h.1M55.9 270.7h.1M28.2 248.5h.1M41.6 254.4h.1M30.1 246h.1M51.3 235.3h.1M45.9 267.9h.1M42 239.7h.1M34.5 245.2h.1M59.9 280.1h.1M36.9 236.1h.1M46.9 267.8h.1M31.1 265.8h.1M62.9 279.8h.1M50.7 264h.1M61.2 280.7h.1M52.3 278.4h.1M37.2 237.2h.1M69.4 236.2h.1M64.5 274.1h.1M36.1 246h.1M89.5 249.3h.1M42.2 260.6h.1M65.2 284.1h.1M30.1 254.2h.1M61 256.7h.1M46.4 266.1h.1M33.5 241.7h.1M61.4 229.9h.1M55.8 279.7h.1M72.4 259.6h.1M29.2 244.4h.1M49.9 273.7h.1M30.8 235.7h.1M49.8 272.6h.1M31.5 266.6h.1M83.7 265h.1M65.8 266.9h.1M58.1 265.2h.1M34.6 238.4h.1M39.7 263.6h.1M74.9 242.7h.1M49.8 234.5h.1M57.7 278h.1M38 257.6h.1M47.4 273.8h.1M31.7 253.3h.1M50.5 278h.1M29.7 264h.1M68.3 269h.1M31.7 237.2h.1M41 238.5h.1M39.6 232h.1M39.2 254.1h.1M56.4 263.9h.1M46.2 256.8h.1M66.8 250.1h.1M31.5 248.9h.1M26.7 244h.1M65.4 261.4h.1M35.5 266.4h.1M60.2 261.4h.1M71.5 262.1h.1M38.8 238.6h.1M65.3 270h.1M32.6 268.3h.1M32.7 242.3h.1M38.8 237.3h.1M32.2 249.8h.1M80.4 246.1h.1M49.3 267.2h.1M53.6 261.4h.1M63.4 266.5h.1M51.6 260.6h.1M37.7 241.5h.1M57.4 241h.1M39.7 258.9h.1M40.7 245.2h.1M32.3 259.1h.1M83.8 246.2h.1M33.9 257.7h.1M43.8 262h.1M40.1 271.1h.1M33 252.1h.1M40.6 264.6h.1M45 240.9h.1M42.7 271h.1M66.1 265.8h.1M80.9 261.3h.1M42.1 245.6h.1M29.5 250.9h.1M28.1 245.9h.1M65.3 284.1h.1M33.5 259.8h.1M58.7 268.5h.1M41.4 257h.1M33.6 252.8h.1M47.2 270.2h.1M63.1 249.3h.1M36.6 260.9h.1M57.9 273.1h.1M27.9 242h.1M39.3 267.6h.1M71.8 278.5h.1M43 247.9h.1M33.8 259.3h.1M35 264.8h.1M30.1 246.8h.1M41.2 235.8h.1M29.3 262.3h.1M68.7 268.3h.1M51.6 271.8h.1M29.8 263h.1M40.4 248.2h.1M42 250.5h.1M38.2 247.8h.1M33.4 258.1h.1M63.8 261.8h.1M54.9 273h.1M60.6 244.2h.1M31 256.4h.1M40.2 252h.1M40.7 262.3h.1M37.2 263.9h.1M32.1 250.7h.1M36.3 259.1h.1M51.9 267.7h.1M37.8 232.6h.1M65.3 278.7h.1M46.7 260.9h.1M47.8 233.8h.1M39.2 257.4h.1M90.2 247.1h.1M40 252.5h.1M50.2 234.6h.1M40.2 259.4h.1M43.4 273.8h.1M68.6 278.8h.1M27.2 249.5h.1M34.2 253.5h.1M29.4 238.8h.1M66 260.4h.1M65.2 257.3h.1M47.4 269.4h.1M42.2 243.3h.1M52.9 274.6h.1M32.6 240.8h.1M40.3 239.6h.1M44.2 270.8h.1M42.1 236.7h.1M57.7 265.6h.1M56.3 218h.1M55.1 224.1h.1M47.4 254.5h.1M56.2 231.9h.1M39.5 238.2h.1M34.4 270.3h.1M55.1 269.9h.1M41.3 244h.1M30.7 242.3h.1M42.2 267.9h.1M27 255.5h.1M57.3 224.3h.1M36.9 246.7h.1M27.3 243.4h.1M41.1 234.4h.1M28.1 259.1h.1M66.2 282.8h.1M30.7 261.2h.1M30.2 242.2h.1M40.4 254h.1M26.7 253.1h.1M42.7 233.7h.1M30.7 245.4h.1M43.2 265.4h.1M82.7 272.3h.1M58.3 271.8h.1M26.6 245.5h.1M64.5 266.4h.1M60.8 223.6h.1M47.1 262.4h.1M49.3 224.4h.1M53.6 265.6h.1M40.8 245.7h.1M55.6 275.5h.1M34.4 264.4h.1M47.8 269.7h.1M31.2 252h.1" stroke="#262a80" stroke-width="1.6" stroke-linecap="round" fill="none"/>
<path d="M60.3 260.2h.1M54.3 275.3h.1M59.7 247h.1M63 262.2h.1M57.2 249.3h.1M85.1 243.2h.1M35.8 237.9h.1M59.2 271.6h.1M72.8 267.5h.1M63.9 254.2h.1M41.1 237.6h.1M54.9 249.4h.1M69.9 248.6h.1M87.2 271h.1M39.5 247.7h.1M36.4 255.7h.1M65.1 264h.1M66.1 230.9h.1M96.8 248.9h.1M68.8 280.2h.1M84.9 276.5h.1M81.7 228.6h.1M55.1 249.4h.1M60.8 223.9h.1M49.3 263.6h.1M48.2 258.9h.1M65.5 273h.1M70.5 273.8h.1M64.3 271.3h.1M48.1 273.2h.1M87.7 234.6h.1M52.2 248.2h.1M47.7 276.3h.1M72.1 273.4h.1M29.1 243.7h.1M60.8 258.9h.1M64.3 252.9h.1M53 265.5h.1M66.8 283.8h.1M66.1 259.7h.1M26.9 246.4h.1M55.1 274.8h.1M32.7 236.4h.1M39.1 261.7h.1M54 239.7h.1M53.4 263.7h.1M51.9 270.3h.1M71.9 274.4h.1M55.6 252.9h.1M61.1 274.8h.1M75.9 271.2h.1M74.6 266.1h.1M86.3 236.4h.1M76.6 243.9h.1M67.6 272h.1M80.3 231.7h.1M79.6 271.6h.1M51.8 277.3h.1M66.7 248.7h.1M42.7 240.3h.1M66.2 271.7h.1M83.3 250.5h.1M59.3 265.1h.1M36.1 249.8h.1M88.8 242.3h.1M81.3 233.6h.1M70.4 277.6h.1M42.2 234.8h.1M53.1 237.4h.1M53.6 273h.1M95.1 262.5h.1M79.8 270.2h.1M77.3 231.5h.1M88.4 253.4h.1M73.9 265.3h.1M67.3 270.7h.1M65.1 265.7h.1M72.5 280.9h.1M37.6 232.1h.1M83.5 270.9h.1M58.5 282.5h.1M57.8 272.3h.1M83.4 232.1h.1M67.4 259h.1M83.6 273.2h.1M50.2 263.2h.1M55.9 273.7h.1M67.7 239.3h.1M28.3 245.2h.1M64.4 262.7h.1M93.7 244.5h.1M89.9 256.1h.1M38.3 236.7h.1M60.3 276.8h.1M57.8 271.1h.1M40.5 270.5h.1M67.4 220.1h.1M89.6 234.8h.1M56.1 280.6h.1M73.1 275h.1M55.9 281.8h.1M34.2 264.7h.1M71.7 279.8h.1M70.7 260.8h.1M43 239.5h.1M64.3 240h.1M60.7 245.8h.1M35.5 256.2h.1M72.6 270.6h.1M51.9 261.8h.1M62.3 281.6h.1M55.8 263.4h.1M75.3 253.9h.1M32 247.2h.1M75.3 240.6h.1M83.9 244.8h.1M65.2 237.4h.1M39.6 236.1h.1M70.5 278.1h.1M68.5 276.7h.1M63.3 266h.1M31.6 251.9h.1M71.6 264.1h.1M71.3 215.5h.1M87.7 240.9h.1M52.1 268.9h.1M80.3 242.4h.1M90.6 250h.1M66.2 265.7h.1M50.2 275.9h.1M33.1 255.3h.1M56.2 263.4h.1M64.6 283.5h.1M59.9 243.9h.1M84.2 231.7h.1M53.4 262.8h.1M89.1 271.9h.1M36.2 268.3h.1M71.7 224.2h.1M30.3 255.6h.1M57.4 244.3h.1M59.3 279.6h.1M40.2 247.3h.1M67.3 250.2h.1M59.5 270.2h.1M75 223h.1M58.9 251.8h.1M59.5 271h.1M58.6 278.5h.1M77.3 254h.1M82.3 234h.1M85.8 231.2h.1M64.4 235.6h.1M75.9 243.7h.1M69.5 235.1h.1M74.7 232.6h.1M59.3 245.2h.1M40.9 258.2h.1M26.8 253.7h.1M33.6 233.4h.1M78 246h.1M47.5 274.6h.1M58.6 259.9h.1M74.3 233.4h.1M74.3 219.5h.1M62.9 271.3h.1M86.3 260.6h.1M44.7 263h.1M69.8 283.6h.1M78.5 251.3h.1M63.3 240.6h.1M55.9 233h.1M37.4 269.8h.1M61.9 276.7h.1M42.2 238.5h.1M31.6 261h.1M80.7 276.8h.1M84.5 271.9h.1M51.7 236.1h.1M65.8 261.5h.1M86.2 251.5h.1M65.9 282h.1M61.8 267.7h.1M71.9 274.5h.1M79.3 246.1h.1M96.2 258.5h.1M33.1 238.1h.1M56.7 221h.1M67.3 255.7h.1M65.5 270.2h.1M30.7 237.7h.1M57 221.4h.1M68.3 268.5h.1M74.5 221.5h.1M32.2 240.3h.1M68.1 284.1h.1M88.4 271.2h.1M89.5 271.2h.1M54.9 274h.1M46.4 270h.1M73.2 259.2h.1M68.4 275.5h.1M44.7 272.5h.1M71.6 271.6h.1M48.3 242.9h.1M69.7 277h.1M61.1 273.2h.1M39.8 239.7h.1M66.2 219.4h.1M75.2 226.9h.1M74.7 264.9h.1M73.9 277.1h.1M64.5 283.6h.1M56.2 221.7h.1M69.7 269.7h.1M49.6 277.7h.1M65.3 241.2h.1M31.2 265.7h.1M40.1 247.7h.1M47.6 260h.1M51.4 239.9h.1M74.9 228.4h.1M81.5 255.2h.1M73.4 279.3h.1M75 236.6h.1M72.1 271.9h.1M78.4 269.7h.1M69.8 215.5h.1M86.8 228.8h.1M28.8 244.6h.1M54.5 272.3h.1M51.6 240.9h.1M57.1 274.9h.1M38 264.3h.1M32.1 247.6h.1M41.5 248h.1" stroke="#70309c" stroke-width="1.6" stroke-linecap="round" fill="none"/>
<path d="M84.2 271.4h.1M73.2 270.1h.1M64.3 266.5h.1M79.9 277.3h.1M69.1 256.9h.1M54.1 277.7h.1M81.1 268.6h.1M51.4 266.9h.1M60 273h.1M80.5 266.7h.1M83.4 265.2h.1M75.1 258.5h.1M58.9 257h.1M78.1 232.1h.1M85.6 233h.1M76.3 255.2h.1M85.4 269.1h.1M78.7 223.7h.1M72.6 257.6h.1M86 255.5h.1M66 269.9h.1M52.6 223.5h.1M67.4 266.2h.1M88.8 243.7h.1M62.5 225.3h.1M91.2 254.2h.1M85.6 237.2h.1M81.3 272.4h.1M59.3 282.6h.1M56.8 276.6h.1M81.9 257.9h.1M62.8 258h.1M89.2 236.5h.1M92.9 250.2h.1M85.5 260.6h.1M84.9 275.4h.1M73.4 215.2h.1M79 261.2h.1M91.5 261.7h.1M75.3 263.4h.1M76.8 225.9h.1M71.1 276.3h.1M72.8 278.6h.1M69.7 259.2h.1M74.9 263.4h.1M79.5 276.8h.1M84.7 236.3h.1M83.4 225h.1M58 264.7h.1M37.3 233.9h.1M54.9 226.1h.1M88.9 264h.1M62.4 248.4h.1M74.7 256.3h.1M52.2 241h.1M79.8 275.7h.1M52.7 224.7h.1M76.1 254.6h.1M70.8 270.8h.1M68.3 254h.1M49.2 275.7h.1M81.3 234h.1M79.4 279.1h.1M73.3 228h.1M84.2 255.2h.1M65.4 280.4h.1M61.7 247.5h.1M66.5 224.1h.1M96.5 250h.1M55.1 220.8h.1M89.7 237.4h.1M57.8 225.1h.1M75.5 256.1h.1M61.9 262.9h.1M79.3 247.6h.1M51.9 271.1h.1M63.3 251h.1M72.9 222.2h.1M81.9 274.8h.1M89 256.6h.1M67.9 236.9h.1M61.4 274.3h.1M82.8 254.1h.1M63.3 227.2h.1M82.6 261.3h.1M80.4 275.8h.1M79.9 271h.1M42 242.2h.1M50.7 273.4h.1M53.2 260.9h.1M67.5 272.3h.1M75.9 243.3h.1M84.1 242h.1M88.5 238.4h.1M61.9 246h.1M76.3 240.1h.1M66.9 279.6h.1M70.2 241.4h.1M78.7 261.3h.1M64.1 251.7h.1M36.6 257.6h.1M78.1 245.1h.1M74.4 242.4h.1M50.9 278h.1M81.6 250.2h.1M46.8 249.3h.1M41.9 255.2h.1M51.7 248.5h.1M77.7 255.6h.1M73.9 276.6h.1M80 231.1h.1M69.1 258.1h.1M71.3 230.3h.1M96.4 252.2h.1M82.6 254.8h.1M69.3 231.4h.1M47.6 276.2h.1M65 245.8h.1M63.1 279.9h.1M39.8 239.8h.1M69.7 276.2h.1M78.2 270h.1M74.2 282.8h.1M60.9 236.9h.1M69.7 252.3h.1M91.5 268.4h.1M65.1 250h.1M90.7 252.4h.1M68.3 255.7h.1M73.9 240.8h.1M32 250.7h.1M81.2 267.7h.1M84.6 268.5h.1M62.9 275h.1M66 225.3h.1M82.1 268.5h.1M74.6 241.1h.1M83.3 239.1h.1M83.4 255.2h.1M95.8 246.7h.1M76.4 263.4h.1M86.8 256.8h.1M59.5 263.9h.1M84.5 269.6h.1M34.5 250.8h.1M48.1 234.8h.1M78.6 232.8h.1M75.5 274.2h.1M71.4 241.6h.1M80.2 243.3h.1M71 240.4h.1M87.7 235.7h.1M50.1 271.8h.1M85.2 252.9h.1M67.8 222.6h.1M81 264.8h.1M55.9 278.7h.1M74.8 276.1h.1M62 226.8h.1M64.2 245h.1M83.2 262.4h.1M81.8 235.6h.1M73.5 220.8h.1M62.6 274.6h.1M89.9 248.8h.1M94.4 246.9h.1M75.2 244.6h.1M67.6 225.2h.1" stroke="#c8508a" stroke-width="1.6" stroke-linecap="round" fill="none"/>
<path d="M87.9 232.7h.1M76.3 230.7h.1M86.7 275.3h.1M62.9 225.4h.1M90.6 246.2h.1M95.3 263.1h.1M92.1 257.9h.1M93.5 261.3h.1M73.4 229.8h.1M69.9 268.7h.1M89.9 251.5h.1M88.5 247.1h.1M77.2 258.9h.1M86.8 257.5h.1M84.2 236.5h.1M77.4 225.9h.1M78.9 241.4h.1M71.7 270.8h.1M49.5 273.3h.1M51.6 264.4h.1M86.2 268.4h.1M80.1 217.8h.1M72 251.4h.1M57.7 260.3h.1M64.9 262h.1M86.8 268.9h.1M88.5 270.2h.1M72.2 215.1h.1M78.6 243h.1M62.3 276.7h.1M91.5 266.5h.1M94.9 248.6h.1M90.3 264.9h.1M83.9 237.9h.1M85.9 270.9h.1M78.7 273.7h.1M83.9 260.6h.1M78.2 221.7h.1M81.3 220.9h.1M84 269.5h.1M88.8 251.6h.1M81.3 229.5h.1M65.8 279h.1M71.5 219.8h.1M62.2 236.2h.1M75 263.7h.1M92.8 248.9h.1M84 228.3h.1M80.3 243.8h.1M66.7 232.3h.1M71.2 220.7h.1M62.4 272.8h.1M68.3 263.5h.1M77.5 218.6h.1M78.8 270.1h.1M51.4 242.1h.1M78.8 220.1h.1M55.7 266.5h.1M90.8 260.2h.1M83.6 274.7h.1M64.3 281.8h.1M78.5 272h.1M59.2 269.7h.1M71.3 244.7h.1M79.1 262.8h.1M45.2 260.5h.1M73.2 217.4h.1M44.4 272.8h.1M68.3 219.1h.1M67.6 224.8h.1M82.2 258.9h.1M87.4 249.4h.1M81 223.4h.1M78.2 248.6h.1M92 266.7h.1M89.3 270.4h.1M77.9 261.6h.1M68 255.3h.1M94.9 250h.1M59.2 216.1h.1M57.2 272.9h.1M79.8 255.2h.1M53.9 253.4h.1M75.9 264.8h.1M71.2 271.7h.1M89.7 266.4h.1M69.9 217.3h.1M85.8 267.1h.1M74.6 221.1h.1M83.6 251.5h.1M75.8 253.1h.1M71.2 217.4h.1M85.1 261.2h.1M90.1 254.5h.1M92.7 263.2h.1M76.9 217.9h.1M82.3 242.9h.1M82.6 228.1h.1M54.8 260.6h.1M72.4 221.7h.1M81.5 226.5h.1M75.9 239.9h.1M92.9 263.3h.1M58.9 281.2h.1M90.4 234.7h.1M87.5 253.8h.1M94 262.9h.1M70.6 218.9h.1M82.9 235.4h.1M89.4 234.4h.1M62.1 267.5h.1M75.7 233h.1M80.1 222h.1M81.3 258.2h.1M94.4 261.6h.1M75.3 221.8h.1M76.7 222.8h.1M74.4 269.7h.1M75.6 226.7h.1M72.4 219.9h.1M94.9 245.8h.1M76.5 274.8h.1M87.5 257.5h.1M70.5 240.1h.1M76.7 270.6h.1M59.6 254.4h.1M71.3 218.5h.1M69.2 224h.1M75.5 245.4h.1M86.1 228h.1M60.3 279h.1M52.4 243.3h.1M82.2 225.9h.1M74 260.6h.1M68.7 270.2h.1M80.3 252.3h.1M83.5 237.5h.1M62.9 280.7h.1M90.1 271.3h.1M93.8 255.7h.1" stroke="#f0904a" stroke-width="1.6" stroke-linecap="round" fill="none"/>
<path d="M80.8 258.6h.1M72 231.9h.1M83.2 269.2h.1M84.8 256.3h.1M80.4 236.5h.1M81.7 270.2h.1M88 268.7h.1M81.5 245.3h.1M74.7 223.3h.1M94.6 250.7h.1M69 228.1h.1M81.7 253.6h.1" stroke="#eee42a" stroke-width="1.6" stroke-linecap="round" fill="none"/>
<path d="M75.1 242.8h.1M94.7 262.1h.1M44.9 242.2h.1M83.7 224.2h.1M75.4 267.7h.1M78.9 244.5h.1M74.7 266.3h.1M42.8 270.7h.1M72 217.6h.1M54.6 269.9h.1M86.9 266.1h.1M82.9 249.8h.1M76 257.9h.1M84.9 245.8h.1M81.9 263.8h.1M69.3 253.7h.1M66.1 239.7h.1M81.8 251h.1M55.8 220.4h.1M75.1 260.1h.1M71.4 244.7h.1M76.9 277.8h.1M80.6 219.9h.1M68.1 217.4h.1M52.5 222.5h.1M75.3 255.3h.1M64.4 280.8h.1M81 232.9h.1M74.2 253.8h.1M71.5 236.4h.1M80.6 219.1h.1M55.5 278.4h.1M95.5 258.6h.1M57.8 221.8h.1M41.8 272.6h.1M90.7 253.3h.1M76.9 243.5h.1M83.1 264.9h.1M83.3 234.2h.1M62.6 249.7h.1M88.3 253.6h.1M79 234.3h.1M55.1 224.9h.1M83.6 241.8h.1M80.6 222.4h.1M71.8 251.3h.1M73.8 281.3h.1M67.5 252.6h.1M62.7 236.1h.1M84.8 246.2h.1M78.9 226.7h.1M91.1 243.7h.1M47 262.9h.1M75.3 261h.1M71.9 246.8h.1M32 238.5h.1M79.4 259.1h.1M77.3 270.8h.1M63.3 239.8h.1M85.2 227.4h.1M72.2 275.4h.1M82.3 243.9h.1M77.9 233.6h.1M80.6 253.5h.1M59.7 235.2h.1M75.2 251.3h.1M47.1 232h.1M84.4 250.3h.1M82.2 222.7h.1M82.5 261.3h.1M75.8 263.8h.1M69.3 238.2h.1M81.5 251h.1M64.6 254.1h.1M54.1 244.5h.1M81 217.9h.1M32.1 263.1h.1M88.7 268.4h.1M87.4 253.1h.1M79.5 231.1h.1M85.6 269.4h.1M80.4 261.1h.1M76.3 241.3h.1M74.4 232.7h.1M59.7 277.6h.1M92.8 259.1h.1M90.9 238h.1M33.6 260.9h.1M58.7 243.2h.1M86.6 258.5h.1M70.7 213.2h.1M81.7 239.4h.1M52.6 236.6h.1M87.5 258.5h.1M65.7 277.9h.1M69.2 215.1h.1M60 269.5h.1M79 242.9h.1M81 231.9h.1M78.2 263.7h.1M84.9 243.3h.1M72.8 233.8h.1M85.9 255.1h.1M64.6 235.7h.1M76.8 260.3h.1M78.3 231.6h.1M70 258.9h.1M52.7 231h.1M57.6 218.4h.1M93.1 254.8h.1M78.2 225.5h.1M69 236.2h.1M80.5 244.6h.1M74 215.7h.1M85.2 248.4h.1M83.9 255.8h.1M74.7 254.3h.1M88.3 232h.1M90.5 263.1h.1M84.5 221.7h.1M84.3 243.8h.1M64.6 226.8h.1M95.9 259.1h.1M64.1 227.9h.1M48.8 236.4h.1M85 226.2h.1M81.8 264.7h.1M54.9 249.2h.1M70.4 235.6h.1M83.7 254.5h.1M51.6 244.5h.1M78 253.1h.1M68.3 213.3h.1M68.7 212.9h.1M58.6 268.3h.1M76.3 230.7h.1M53.3 268.3h.1M93 244.3h.1M95.8 255.3h.1M80.9 248.9h.1M48.1 235h.1M84.1 265.9h.1M82.7 240.6h.1M78.6 232h.1M81.8 267.5h.1M74.4 259h.1M75.6 267.1h.1M49.5 259.8h.1M89.7 270.7h.1M83.3 242.5h.1M52.3 274.6h.1M63.4 246.8h.1M75.5 237.1h.1M90.9 243.7h.1M85.6 265.6h.1M66.8 269.1h.1M63.9 234.6h.1M54.1 263.1h.1M79.8 243.3h.1M46.2 267.2h.1M48.1 274h.1M82 239.4h.1M35.8 252.6h.1M76.6 256.9h.1M85.3 233.8h.1M28.3 238.8h.1M78.1 274.2h.1M83.7 251.2h.1M90.3 252.6h.1M76.4 245.1h.1M85.4 240h.1" stroke="#c8c4c8" stroke-width="1.6" stroke-linecap="round" fill="none"/>
<path d="M56.7 272.1h.1M75.7 242.7h.1M44.5 265.9h.1M62 260.9h.1M48.6 271.6h.1M40.1 238.2h.1M49.7 261.2h.1M37.7 269.1h.1M44 264.6h.1M60.2 219.4h.1M68.3 260.1h.1M38.8 234.2h.1M57.6 264.6h.1M47.9 263h.1M85.8 249.7h.1M56.4 262.6h.1M35.5 268.4h.1M51.7 273.8h.1M43 268.4h.1M36.6 247.5h.1M31.6 258.2h.1M30.1 253.1h.1M32.3 257.6h.1M30.5 238.4h.1M33.8 257.9h.1M36.6 266.8h.1M26.5 249.6h.1M35.1 247.7h.1M28.7 258.5h.1M57.8 265.4h.1M40.9 242.8h.1M40.3 248h.1M38.5 249.8h.1M51.9 241.7h.1M38 233.2h.1M39.8 261.2h.1M34.3 249.1h.1M66.7 278.7h.1M29.3 255.7h.1M40.6 255.7h.1M42.6 266.9h.1M62.2 219.8h.1M32.5 240.5h.1M40.6 253.3h.1M38 250.7h.1M71.2 273.4h.1M82.6 269.6h.1M36.6 254.5h.1M36.3 249.3h.1M35.6 263.1h.1M39.9 241h.1M71.8 265.8h.1M39.6 270.6h.1M69 270.1h.1M38.9 243.6h.1M69.2 262.4h.1M37.6 259.8h.1M34.7 246.6h.1M38.3 254.4h.1M31.5 265.8h.1M36 241.3h.1M30.2 256.1h.1M64.3 268.3h.1M81.6 238.7h.1M64.4 272.5h.1M55.1 270.3h.1M33.8 254.5h.1M53.6 263.5h.1M66.5 222h.1M78.6 241.5h.1M26.9 252h.1M43.6 271.9h.1M62.4 279.1h.1M45.3 260.6h.1M35.3 261.7h.1M63.5 246.9h.1M54.3 239.3h.1M62.9 220.5h.1M38.4 248.9h.1M51.2 265.1h.1M30.9 258.6h.1M52.9 269.3h.1M71.7 273.3h.1M57.9 267.4h.1M34.1 233.6h.1M72.8 270.8h.1M60.4 259.1h.1M40.8 236.1h.1M70.5 235.8h.1M28.4 259h.1M48 262.8h.1M33.6 248.3h.1M42.1 239h.1M58.3 283.2h.1M40.4 234.3h.1M33.1 257.1h.1M33.4 254.6h.1M30.3 250.2h.1M32.9 263.7h.1M71.5 279.6h.1M49.3 276.1h.1M41 264.4h.1M42.2 259.7h.1M63.9 274h.1M58.4 237.7h.1M61.2 283.3h.1M60.6 230.4h.1M83.5 251.5h.1M69.1 259.3h.1M72.7 277.8h.1M61 259.7h.1M40.2 258h.1M65 276h.1M54.4 242.3h.1M39.5 263.1h.1M35.1 237.7h.1M36.3 233.5h.1M52.3 276h.1M35.4 235.3h.1M35.7 259.3h.1M70 259.3h.1M39.1 253.1h.1M30.5 256h.1M40 257.5h.1M73.4 247h.1M76.9 272.1h.1M67.9 264.5h.1M27.1 250.2h.1M42.1 259.2h.1M36 255.2h.1M27.1 242.9h.1M71.2 276.2h.1M44.6 264.1h.1M37 254h.1M33.5 253.6h.1M29.1 259h.1M27.7 240.8h.1M58.9 278.8h.1M65.6 279h.1M35.6 259.2h.1M37.5 252.5h.1M36.3 242.5h.1M36 249.7h.1M45.9 268h.1M40 253.3h.1M35.7 258.8h.1M53.7 248.7h.1M42.6 246.9h.1M51.7 277.9h.1M43.3 270.3h.1M37.2 246.1h.1M34.6 246h.1M26.8 253.2h.1M59.6 234.4h.1M32.5 248.1h.1M81.3 258.2h.1M34.2 247.8h.1M84.4 267.5h.1M56.6 264.5h.1M40 254.7h.1M38.6 233.7h.1M67.5 263.5h.1M29.9 239.4h.1M40.6 248.9h.1M65.2 276.2h.1M40.3 248.7h.1M33.2 243.9h.1M39.7 259.7h.1M40.7 261.7h.1M34.9 238h.1M38.5 245.6h.1M31.9 233.6h.1M26.7 248.3h.1M32.7 239.8h.1M59.4 242.5h.1M80.1 270.7h.1M33.2 267.9h.1M39.6 256.2h.1M34.6 260.5h.1M34.4 260.2h.1M37.5 251h.1M38.6 247.3h.1M37.8 243.1h.1M40 232.4h.1M63 283.9h.1M46.7 274.6h.1M57.1 263.6h.1M42.5 237.2h.1M86.8 245.7h.1M32.8 260.4h.1M45.1 264.1h.1M62.5 218.3h.1M34.1 240.9h.1M56.4 277h.1M34.2 257.9h.1M50.2 269.9h.1M36.9 232.6h.1M64.2 264.1h.1M27.3 255.4h.1M39.6 254.6h.1M29.4 254.8h.1M81.6 246h.1M28.7 263.4h.1M35.8 268.3h.1M78.2 245.9h.1M27.8 241h.1M47.5 252.7h.1M72.9 262.3h.1M52.5 277.1h.1M78.9 264.7h.1M46.3 265.8h.1M55.4 277.2h.1M82.9 267.2h.1M37.5 231.6h.1M87 255h.1M34.7 252.2h.1M52.7 273h.1M59.3 234.6h.1M37.7 236.9h.1M59 228.5h.1M38.7 270.5h.1M93.2 258.8h.1M80.9 278.3h.1M61.9 280.4h.1M73 215h.1M51.7 237.3h.1M27 248.9h.1M89.8 233.7h.1M37.3 265.2h.1M30.9 247.8h.1M63.2 218.5h.1M55.6 239.2h.1M61.9 256.2h.1M74.7 244h.1M62.1 279.3h.1M42.3 250h.1M32.5 238.5h.1M47.1 264.4h.1M44.3 259.4h.1M82.8 252.6h.1" stroke="#262a80" stroke-width="1.6" stroke-linecap="round" fill="none"/>
<path d="M48.4 271.3h.1M33.5 238.2h.1M63.4 237.6h.1M66.1 268.9h.1M31.5 260.5h.1M49.1 264.4h.1M40.7 234.4h.1M84.1 272h.1M75.1 247.4h.1M45.3 264.9h.1M48.9 273h.1M89.8 271h.1M30.5 240.3h.1M83.9 265.6h.1M33.6 246.3h.1M56.8 259.8h.1M46 271.2h.1M33.1 258.3h.1M64.4 241.3h.1M58.7 228.1h.1M30.9 254.8h.1M73.3 268.5h.1M73.6 238.1h.1M82.9 272.9h.1M69.8 261.1h.1M82.2 242.7h.1M77.8 225.8h.1M84.5 236.1h.1M56.4 273h.1M63.4 261.7h.1M75.8 271.6h.1M61.8 281.1h.1M35.6 263.3h.1M35.4 267.3h.1M50.2 271.2h.1M52.1 226.6h.1M37.1 248.3h.1M60.8 238.4h.1M79.5 230.4h.1M55.7 278.8h.1M41.8 253.2h.1M89.7 237.9h.1M69.9 279.3h.1M70.3 261.1h.1M84.7 229h.1M29.1 261.3h.1M46 230.7h.1M83.4 232.9h.1M44 265.9h.1M73.9 223.5h.1M61.3 269.4h.1M34.9 261.5h.1M53.3 279.5h.1M63.8 261.1h.1M71.5 264.6h.1M36.8 255.9h.1M75.2 273.8h.1M52.5 249.8h.1M60.1 275.2h.1M42.2 266h.1M37.8 238.6h.1M69.4 273.7h.1M56.2 246.6h.1M59.7 256.9h.1M69.8 277.4h.1M28.7 254.8h.1M80.8 275.1h.1M71.6 270.3h.1M55.7 256.8h.1M78.6 237.5h.1M52.5 273.9h.1M52.3 277.1h.1M50.1 271.7h.1M87.9 239.8h.1M70 260.8h.1M64.3 261.4h.1M91.4 254.5h.1M28.6 246.5h.1M68.1 282.3h.1M56.9 282.5h.1M39.5 250.5h.1M55.1 263.4h.1M50 273.9h.1M60.7 283.8h.1M59.4 227.1h.1M75 251.5h.1M78.8 228.2h.1M41.9 243.6h.1M88.2 269.1h.1M46.5 254.4h.1M67 227.1h.1M73.8 280.2h.1M88.6 272h.1M73.9 275.5h.1M41.6 235.4h.1M74.2 262h.1M47.7 264.5h.1M78.3 236.7h.1M76.6 229h.1M55.9 280.8h.1M78.2 266.1h.1M68.9 283.7h.1M57.3 216.6h.1M44.6 273.6h.1M66 264.8h.1M32.5 235.7h.1M37.4 250.1h.1M68.6 272h.1M76.7 276.5h.1M91 245h.1M38.6 236.9h.1M66.4 282.6h.1M67.6 282.1h.1M62.6 282.4h.1M34.2 269.6h.1M84.5 236.5h.1M65 277.6h.1M91.5 259.4h.1M74.4 236.5h.1M65.6 271.9h.1M54.1 274.1h.1M66.3 264.1h.1M63.1 230h.1M48.2 270.3h.1M60.4 227.4h.1M81.1 255.5h.1M66 281h.1M89.8 233.8h.1M65.2 284.2h.1M35.3 237.9h.1M83.7 275.9h.1M79 238.7h.1M65.9 217.5h.1M33.3 264.5h.1M56 236.1h.1M66.4 281.3h.1M70.4 273.1h.1M83 247.1h.1M60.9 227.5h.1M83.9 236.3h.1M85.3 234.9h.1M70.8 238.3h.1M80.9 246.5h.1M69.7 214h.1M70.5 241.4h.1M48.5 229.9h.1M51.5 275.8h.1M42.8 233.7h.1M78 277.9h.1M82.9 255.1h.1M69.9 274.6h.1M34.6 259.8h.1M63.1 243h.1M31.7 234.8h.1M34.7 236.1h.1M77.6 242h.1M94.9 254.2h.1M63.7 222.2h.1M50.9 262.1h.1M68.4 273.8h.1M38.2 255.6h.1M65.5 279.8h.1M44.5 263.8h.1M42.8 258h.1M54.6 276.1h.1M41.8 272.9h.1M54.1 275.7h.1M70.5 215.8h.1M60.1 261h.1M57.9 249.6h.1M79.6 268.1h.1M32.6 248.6h.1M75.7 241.9h.1M62.1 284.3h.1M88 242.3h.1M90.8 266.8h.1M79.7 239.4h.1M88.2 260.3h.1M34.4 268.7h.1M72.1 249.1h.1M56.3 223.9h.1M90.3 246.1h.1M30.8 236h.1M62.1 246.2h.1M62.6 274.1h.1M35.2 238.2h.1M83.2 239.7h.1M76.4 272.3h.1M67 279.9h.1M64.2 233h.1M59.4 280.2h.1M73.6 250.6h.1M42.6 243.8h.1M29 242.7h.1M65.7 212.8h.1M58.9 221.8h.1M42.6 241.6h.1M59.8 266h.1M59 277.3h.1M76.1 244.1h.1M49.7 228.7h.1M78.8 239h.1M61.7 222.5h.1M57.9 262h.1M49.1 270.3h.1M57.9 255.4h.1M41.9 272h.1M57.6 251.1h.1M84.7 262.4h.1M76.3 221.7h.1M53.1 262.2h.1M61.2 275.1h.1M78.7 275.2h.1M61.1 269.6h.1M81 240.9h.1M71 274.7h.1M76.3 276.5h.1M28.5 258.4h.1M60.1 272.3h.1M52.9 276.2h.1M54.4 280.6h.1M76.7 258.8h.1M85.1 243.5h.1M85.5 265.9h.1M36.4 240.3h.1M41.6 247.2h.1M55.9 270h.1M71.5 269.5h.1M42.3 263.1h.1M72.5 248h.1M50.1 235.4h.1M41.6 243h.1M72.1 219.2h.1M54.3 224.8h.1M59 273.2h.1M65.9 263.5h.1M47.2 266.1h.1M53.8 273.9h.1M82.2 248.7h.1M83.5 269.3h.1M89.8 258.4h.1M62.8 241.5h.1M38.9 269.2h.1M38.3 254h.1M85.6 264.9h.1M77 227.2h.1" stroke="#70309c" stroke-width="1.6" stroke-linecap="round" fill="none"/>
<path d="M76.5 229.4h.1M81.2 253.5h.1M65.7 276.2h.1M94.6 250.2h.1M81.7 250.5h.1M91.6 268.8h.1M60.6 280.5h.1M86 263.3h.1M60.3 248.3h.1M54.4 279.4h.1M72.6 233.8h.1M69.4 212.3h.1M76.2 241.5h.1M36.7 232.3h.1M84.8 225.7h.1M79.9 235.5h.1M71.2 236.3h.1M84.6 275h.1M95 260.6h.1M86 250.1h.1M70 247.8h.1M94.8 247.8h.1M56.6 257.9h.1M94.9 249.1h.1M73 226.3h.1M88.2 229h.1M89 256h.1M90.2 254.2h.1M47.1 252.6h.1M46.6 228.9h.1M73.6 262.7h.1M82.6 272.3h.1M62.1 223.1h.1M70.8 270.9h.1M66.7 268.3h.1M69.1 224.7h.1M49.5 273.1h.1M82.6 263.6h.1M82.8 230h.1M58.6 272.8h.1M44.9 268h.1M72.6 282.3h.1M45.9 273.4h.1M41.9 269.6h.1M77.3 280.7h.1M48.8 257.4h.1M87.8 238.5h.1M68.1 280.3h.1M49.3 241.3h.1M41.1 241.5h.1M66.5 215.3h.1M73.9 252.9h.1M73.8 230.6h.1M95 255.8h.1M59.9 284h.1M50.4 271.6h.1M82.5 268.8h.1M44.6 249.4h.1M75.7 234.8h.1M55.3 262.6h.1M71 259.4h.1M62.3 247.3h.1M76.2 238.4h.1M73.3 261h.1M83.4 265.5h.1M73.4 250.5h.1M74 244.2h.1M72.6 262.3h.1M33.9 256.3h.1M90.8 236.3h.1M76.2 240.5h.1M54.1 222.4h.1M81.4 253.3h.1M81.5 272.4h.1M74.4 232.5h.1M45 257h.1M69.3 275.3h.1M38.8 252.4h.1M85.1 238.9h.1M71.2 232h.1M80.1 262.5h.1M53.8 270.3h.1M83.9 221.2h.1M61 275.9h.1M88.1 267.2h.1M61.2 270h.1M76.1 219.4h.1M62.8 215.9h.1M80.8 227.4h.1M70.1 218.5h.1M85.2 245.7h.1M28.5 258.4h.1M80.6 273h.1M94.6 258.8h.1M80.5 243.4h.1M64.3 260.4h.1M69.2 269.1h.1M89.9 268.6h.1M88.8 264.2h.1M72.2 262.4h.1M76.9 264.7h.1M64.6 217h.1M62.6 266.7h.1M89.8 233.4h.1M91.8 243.3h.1M66.1 249.8h.1M45.6 232.5h.1M68.4 245.1h.1M56.4 258.6h.1M89.3 264.3h.1M79.4 233.6h.1M90.2 239.8h.1M83 252.5h.1M47.9 247.2h.1M61.7 238h.1M71.3 251.7h.1M90.3 260.6h.1M80 248.5h.1M60.2 253.5h.1M86.2 259.4h.1M80.9 243.5h.1M77.2 252.5h.1M85.1 275.1h.1M84.7 249.8h.1M64.4 230.9h.1M61.8 277.3h.1M34.1 257.2h.1M62.7 282.8h.1M92.2 264.3h.1M72.7 276.6h.1M69.4 230.6h.1M77.4 277.8h.1M86.6 256.9h.1M54.9 262.8h.1M77.6 228.1h.1M87.7 243.5h.1M61.7 213.1h.1M52.6 261h.1M57 226.3h.1M75.8 272.9h.1M77.8 240.6h.1M61.7 250.2h.1M73.3 244.2h.1M73.5 259.3h.1M88.8 235.5h.1M67.3 283.8h.1M66.5 284h.1M80.2 248.3h.1M52.3 278.5h.1M80.7 258.1h.1M70.8 274.6h.1M77 254.9h.1M55.6 238.1h.1M27.5 245.4h.1M58.9 217.8h.1M76 239.6h.1M57.7 217.5h.1M73.3 255.6h.1M74.3 229.4h.1M53.9 279.3h.1M75.8 221.4h.1M69.3 263.9h.1M90.4 241.2h.1M62.5 272.8h.1M80.4 269.8h.1M86.6 269.4h.1M63 253.1h.1M75 258.4h.1M38 266h.1M84.4 225.5h.1M80.7 233.6h.1M80.3 263.2h.1M86.7 251.8h.1M83 264.5h.1M74.3 255.4h.1M71.6 237.9h.1M57.9 264.9h.1M52.9 234.8h.1M76.2 253.7h.1M54.9 281.3h.1M36 234.1h.1M75.6 244.9h.1M64.1 218.9h.1M50.6 274.6h.1M62.7 240h.1M85.3 234.4h.1M68.2 261.9h.1M46.3 260.3h.1M88.7 262.1h.1M48.9 262.1h.1" stroke="#c8508a" stroke-width="1.6" stroke-linecap="round" fill="none"/>
<path d="M71.6 232.6h.1M85.1 224h.1M86.8 260h.1M72.1 219.4h.1M96.3 259.5h.1M74.2 245.1h.1M75.4 220.4h.1M82.6 253h.1M85.4 246.5h.1M74.3 227h.1M87.3 248.1h.1M87.6 256h.1M80 272.2h.1M87.7 269.1h.1M83.8 225.1h.1M68.6 214.7h.1M46.5 269.8h.1M81.9 242.9h.1M64.8 275.6h.1M78.3 235.6h.1M83.2 256.8h.1M75.2 263.6h.1M93.7 250.1h.1M87 228.2h.1M59.4 278.9h.1M64.1 211.6h.1M92.3 264.4h.1M85.9 269.1h.1M72.9 226.7h.1M58.2 264.9h.1M84.2 259.4h.1M68.8 222.1h.1M60.3 269.1h.1M77 242.9h.1M53.8 243.4h.1M84.6 222.8h.1M81.7 245.7h.1M59.9 278.3h.1M74.5 250.5h.1M81.7 227.5h.1M81.9 266.4h.1M76.8 264.8h.1M75.2 232.2h.1M75.6 269.7h.1M76 238.7h.1M77.6 247.4h.1M86.5 252.4h.1M73.1 218.5h.1M79.9 260.6h.1M97.7 252.3h.1M85.9 260.8h.1M83.1 220.4h.1M81.9 279.4h.1M68.7 250.3h.1M75.9 220.3h.1M88.8 253.6h.1M79.1 223.4h.1M73.3 251h.1M83 225.3h.1M75.7 267.3h.1M59.8 263.9h.1M43.9 271.8h.1M69.7 251.2h.1M90.6 270.3h.1M77.7 237.3h.1M84.4 239.7h.1M87.1 259h.1M75.5 217.2h.1M86.6 257.9h.1M83.2 260h.1M68.7 222.2h.1M95 258h.1M55.8 225.4h.1M93.4 253.5h.1M76.8 242.2h.1M90.2 255.7h.1M50.2 270.6h.1M94.6 248h.1M75.9 219.1h.1M71.6 227.2h.1M85.1 260.8h.1M73.1 242.3h.1M87.3 273.4h.1M95.3 253.8h.1M72.9 215.6h.1M72.5 246.2h.1M76.6 215.2h.1M92.6 241.7h.1M92.4 266.5h.1M87.3 233.2h.1M55.5 273.2h.1M48.7 226.9h.1M68.8 222.9h.1M67.3 222.9h.1M65.3 262h.1M77.9 225h.1M60.7 236.9h.1M82.2 260.8h.1M90.4 269.6h.1M96.6 256.5h.1M77.5 219.3h.1M78.6 279.3h.1M91.9 246.8h.1M83.4 274h.1M88.1 243.5h.1M57.4 247.6h.1M92 256h.1M78.4 223.4h.1" stroke="#f0904a" stroke-width="1.6" stroke-linecap="round" fill="none"/>
<path d="M89.4 240h.1M89.3 233.3h.1M91.6 243.3h.1M67.5 232.1h.1" stroke="#eee42a" stroke-width="1.6" stroke-linecap="round" fill="none"/>
<path d="M85.3 232.4h.1M74.8 215.5h.1M72.9 250.1h.1M91.2 242.3h.1M37.5 244.2h.1M85.2 248.8h.1M60.2 236.7h.1M80.1 241.8h.1M95.1 256.7h.1M28.6 252h.1M47.3 253h.1M91 242.6h.1M82.6 220h.1M95.5 248.4h.1M76.5 248h.1M91.5 243h.1M71.4 218.7h.1M92.5 256.1h.1M90.1 239.1h.1M89.8 249.7h.1M79.3 265.9h.1M69.6 237.4h.1M81.7 239.7h.1M48.6 228.1h.1M72.1 224.7h.1M72.5 257.5h.1M74.4 231.5h.1M71.2 236h.1M62.1 258.1h.1M83.2 262h.1M75.7 259.3h.1M76.1 235.3h.1M80.6 239.3h.1M61.4 254.3h.1M73.6 230.4h.1M42 235.8h.1M79.8 272.5h.1M50.3 227.2h.1M96.5 259h.1M86.5 235.3h.1M37.3 268.4h.1M91.3 239.5h.1M77.5 229.1h.1M80.3 231.6h.1M73.2 249.2h.1M80.5 229.4h.1M58 217.9h.1M72.9 218.7h.1M88.3 240.9h.1M75.2 266.1h.1M77.7 248.9h.1M29.3 237.4h.1M86.5 229.2h.1M57.5 239.3h.1M36 247.6h.1M95.9 257.2h.1M75.3 261.6h.1M78.1 240.5h.1M86.3 229.2h.1M69.8 219.6h.1M91 249.3h.1M55.2 246.3h.1M89.9 237.9h.1M82.9 262.6h.1M89.1 235.1h.1M55.7 252.3h.1M59.7 256.6h.1M74.4 273.2h.1M92.5 264.5h.1M71.6 213.3h.1M70.8 246.8h.1M74.8 242.9h.1M63 224.3h.1M70.4 235.3h.1M95.1 253.5h.1M59.8 217.2h.1M85.4 229.8h.1M72.7 222.2h.1M84.2 242h.1M76.3 222.3h.1M34.3 251h.1M77.3 244.4h.1M27.1 247.5h.1M79.6 244.6h.1M65.2 235.3h.1M88.9 235.1h.1M74.1 218.5h.1M76.3 217.7h.1M93.1 262.3h.1M81.7 261.2h.1M80.2 234.7h.1M81.5 249.9h.1M80 249.1h.1M60.6 227.1h.1M77.5 269.7h.1M83.3 261.3h.1M74.1 246.8h.1M56.1 227.4h.1M50.6 239.1h.1M75.5 248.5h.1M35.7 265.2h.1M86.6 235.7h.1M94.7 256.9h.1M80.8 252.3h.1M46 256.8h.1M86.6 254.7h.1M79.8 229.9h.1M31 261.1h.1M83.7 265.4h.1M58.7 268.8h.1M84.6 239.5h.1M89 261.8h.1M94 245h.1M72.1 233.5h.1M74.3 224.2h.1M60.3 256.6h.1M92.9 257.7h.1M65.4 240h.1M73.3 237.2h.1M57.8 220h.1M86.9 232.5h.1M91.2 264.7h.1M82.2 233.4h.1M35.2 257.4h.1M55.5 235.1h.1M82.6 251.5h.1M54 233.9h.1M69.1 239.6h.1M75.9 239.2h.1M69.1 231.9h.1M44.3 259.1h.1M34.3 237h.1M84.5 267.5h.1M68.9 257h.1M81 262.5h.1M61.1 217.9h.1M76 244h.1M63.4 260.1h.1M80.6 261.6h.1M73.3 229h.1M82.2 258.2h.1M57.1 257.1h.1M80.8 256.2h.1M65 218.3h.1M90 235.6h.1M78.3 252.6h.1M83 240h.1M87.2 239.1h.1M58.9 241.1h.1M76.9 225.2h.1M76.6 246.3h.1M67.1 265.5h.1M71.9 249.4h.1M74.7 242.1h.1M77.3 231.4h.1M55.5 270.8h.1M71.2 266.2h.1M78.1 262.2h.1M50.2 242.2h.1M53.5 243.5h.1M89 263.6h.1M54.6 233.2h.1M90.1 251.8h.1M71.1 213.4h.1M77.5 234.8h.1M40.5 237.5h.1M72.3 237.1h.1M82.2 263.1h.1M81.1 235.6h.1M95.9 248.5h.1M78.5 263.1h.1M68.5 237.7h.1M89 237.4h.1M43.1 249.4h.1M84.1 256.7h.1M91.6 237.2h.1M84.8 241.2h.1M63.8 217.3h.1" stroke="#c8c4c8" stroke-width="1.6" stroke-linecap="round" fill="none"/>
<path d="M134.5 257h.1M120.3 260.5h.1M116 261.7h.1M128.1 270h.1M140.6 272.7h.1M155.3 277.1h.1M134.3 261.6h.1M126.9 259.4h.1M117 264.1h.1M119.1 255.9h.1M123.2 269.1h.1M160.5 268.8h.1M115.8 242.4h.1M131.1 237.1h.1M112.9 244.2h.1M131.2 242.3h.1M117 246.2h.1M131.3 238.1h.1M127.3 271.3h.1M129.6 271.1h.1M156.7 217.8h.1M138 273.5h.1M115.7 245.6h.1M133.8 268.9h.1M117.2 254.1h.1M132.8 238.8h.1M138 256h.1M127.3 236.1h.1M114.8 245.6h.1M111.6 261.3h.1M140.2 282.2h.1M178.2 254.8h.1M143.4 221.1h.1M155.9 222.3h.1M139.5 275.8h.1M127.5 267.9h.1M112.5 253h.1M119.4 252.4h.1M124.4 258.9h.1M134.2 250h.1M123.2 259.1h.1M110.8 259.9h.1M129.3 266.5h.1M129.6 275.6h.1M172.6 243.5h.1M113.3 254.4h.1M115.3 243h.1M121.9 233.1h.1M114.9 238h.1M111.4 256.4h.1M128.7 266.1h.1M169.1 241.2h.1M138.8 237.5h.1M133.6 229h.1M118.4 262.6h.1M120.6 264.3h.1M117.1 269.2h.1M134.9 257.5h.1M122.9 253.2h.1M122.8 257.5h.1M127.4 251.3h.1M117.2 243.1h.1M119.8 269.1h.1M121.6 271.6h.1M131.4 269.8h.1M111.2 247.3h.1M125 264.1h.1M117.5 242.7h.1M125.1 258.3h.1M120.9 263.8h.1M139 279.4h.1M120.8 242.4h.1M123.1 271.1h.1M140.6 253.6h.1M127.4 254.9h.1M128.4 263.2h.1M118.5 254h.1M114.9 257.1h.1M118.8 249.2h.1M133.2 263.2h.1M142.4 276.7h.1M131.8 257h.1M134.4 280.4h.1M113.6 246.6h.1M126.6 240.5h.1M130.8 264.4h.1M116.3 249.1h.1M122.1 256.2h.1M112.8 243.6h.1M123.5 254.5h.1M117.3 256h.1M114.4 257.4h.1M121.2 247h.1M152.2 244.8h.1M121.7 242.3h.1M117.2 260.1h.1M118.5 244.4h.1M117.8 241.4h.1M145.6 256.3h.1M121.8 244.2h.1M125.5 259.1h.1M160 257.1h.1M125.8 229.9h.1M170.5 238h.1M115.4 253.4h.1M117.3 266h.1M120.5 243.1h.1M132.1 260.4h.1M143.6 246.8h.1M124.2 246.2h.1M124.9 229.2h.1M133 247.5h.1M112.2 258.4h.1M122.8 260.4h.1M114.2 261.5h.1M152.3 218.2h.1M127.1 255h.1M123.4 250.9h.1M112.3 259.5h.1M111.5 260.4h.1M124.4 255.6h.1M113.9 239.3h.1M118.7 253.1h.1M112 261.1h.1M123.1 235.7h.1M126.9 238.3h.1M120.6 268.1h.1M161.2 216.1h.1M127.7 270.9h.1M117.1 256.9h.1M120.8 256.1h.1M135.1 255.5h.1M120.6 240.1h.1M125.9 252.9h.1M144.1 214h.1M126.8 259.9h.1M124 245.2h.1M172.9 265.2h.1M129.4 227.2h.1M113.2 257.7h.1M126.2 238h.1M120.3 233.4h.1M135.1 276h.1M124.3 265.6h.1M118.1 247.6h.1M122.9 233.4h.1M139.1 247.7h.1M132.3 227.9h.1M172.4 256.4h.1M157.5 241.1h.1M114 258.9h.1M129.3 277.6h.1M115.8 263.1h.1M112.2 245.8h.1M129.7 273.4h.1M123.2 265.6h.1M168.6 240.4h.1M137.2 268.3h.1M113.3 248h.1M123.9 253.8h.1M125.3 270.8h.1M119 234.3h.1M113.7 259.1h.1M118.3 246.1h.1M117.2 264.6h.1M116.8 258.9h.1M118.1 246h.1M118.8 244.8h.1M131.4 260.6h.1M132.7 279.5h.1M124.1 241.7h.1M113.6 252.9h.1M155.2 279.4h.1M128.4 228.8h.1M123.1 233.7h.1M138.6 228.1h.1M137.6 275.6h.1M125.4 268.3h.1M138.4 269.9h.1M120.3 249.7h.1M135.7 257.7h.1M119.8 243.3h.1M122 254.9h.1M127 255.6h.1M132.8 279.5h.1M118.3 265.2h.1M123.4 238.3h.1M126.5 229.9h.1M119.3 266.8h.1M114.2 238.4h.1M122 255.9h.1M137.3 271.5h.1M139.4 259h.1M121.6 246.6h.1M116 257.6h.1M121.7 269.1h.1M123.3 250.1h.1M136.5 270.5h.1M114.4 253.7h.1M135 259.1h.1M125.4 269h.1M132.9 265.5h.1M119.2 236.4h.1M113 249h.1M135.4 236.7h.1M134.5 278.5h.1M124.1 262h.1M118.5 252.1h.1M170.3 264.5h.1M118.7 245.3h.1M119.7 253.6h.1M140.8 262h.1M115.2 260.3h.1M133.9 267.4h.1M112.3 254h.1M134.7 222.1h.1M122.1 238.6h.1M137.6 272h.1M126.5 268.2h.1M157.3 234.7h.1M127.7 264.2h.1M119.1 264h.1M137.7 218.8h.1M132.3 272.1h.1M124.5 249.7h.1M125.4 256.5h.1M133 274.6h.1M111.2 251.5h.1M127.7 257.6h.1M132.9 262.7h.1M128.4 256.4h.1M136.6 229.7h.1M136.3 274.3h.1M140.5 258.4h.1M116.9 265.7h.1" stroke="#262a80" stroke-width="1.6" stroke-linecap="round" fill="none"/>
<path d="M139.8 217.7h.1M169.1 232.3h.1M141 267.9h.1M129.9 229.5h.1M169.6 253.3h.1M159 236.6h.1M165.5 234h.1M175.2 245.1h.1M140.8 259h.1M128.9 262.2h.1M116.1 250.8h.1M178.8 256.8h.1M173.2 265.4h.1M135.1 258.8h.1M151.9 277.4h.1M119 242.8h.1M138.2 273.4h.1M118.8 261.5h.1M175.7 264.2h.1M114.3 247.7h.1M151.6 251.1h.1M113.4 239.8h.1M136 243.7h.1M163 255.8h.1M152.8 235h.1M125 251.1h.1M147.7 269.8h.1M113.4 248.1h.1M168.2 254.3h.1M176 252.5h.1M143.4 274.9h.1M170.7 270.2h.1M145.3 260.1h.1M177.1 261.2h.1M137 247.1h.1M162.5 220h.1M173.2 238.5h.1M143.3 252h.1M167.5 221h.1M153.9 281.4h.1M135.6 227.3h.1M117.8 257.4h.1M128 227.7h.1M136.1 270.5h.1M157.6 214.4h.1M131.5 273.5h.1M147.1 272.4h.1M139.3 278.2h.1M132.2 263.5h.1M155.6 235.9h.1M139.3 277.8h.1M142.1 258.6h.1M128.9 236.8h.1M149.9 218.2h.1M166 220.9h.1M138.3 236h.1M129.5 264.7h.1M151.1 227.8h.1M142.1 278.4h.1M168.5 253.3h.1M140.7 251.6h.1M123.7 267.2h.1M121.3 259.6h.1M133.8 279.3h.1M114.3 263.5h.1M145 280.2h.1M140.8 263.7h.1M127.8 234.4h.1M171 262.3h.1M111.1 254.8h.1M156.9 216.7h.1M175 241.4h.1M147.7 241.8h.1M175.2 255.2h.1M177.6 244.8h.1M166.8 273.8h.1M141.2 276.2h.1M131.6 274.3h.1M173.1 258.8h.1M136.8 225.3h.1M148.3 279.2h.1M153.2 220.2h.1M134.1 248.1h.1M149.6 212.8h.1M142.5 213.9h.1M125.3 269.7h.1M137 237.5h.1M127.1 252.2h.1M147.6 246.2h.1M145.9 241.6h.1M133.2 224.6h.1M122.5 269.3h.1M175 244.6h.1M174.1 238.9h.1M119.6 259.2h.1M145.8 273.6h.1M128.1 241.2h.1M173.1 258.7h.1M162.3 225.8h.1M114.8 237.2h.1M116.2 238.3h.1M169.8 238.1h.1M132.2 278.2h.1M148.3 224.7h.1M145 215.7h.1M176.5 262.6h.1M115.9 245.1h.1M155.8 232.5h.1M146.2 278.9h.1M164.8 278.6h.1M171 239.3h.1M163.2 216.4h.1M132.1 248.7h.1M171.2 233.4h.1M158.8 261.8h.1M163.5 277.2h.1M172 262.8h.1M131.6 273.3h.1M147.1 268.2h.1M161 241h.1M142.5 222.1h.1M115.1 267.4h.1M156.8 221.8h.1M135.9 262.1h.1M150.1 224.1h.1M179.4 256h.1M129.1 265.9h.1M164.6 259.1h.1M167.6 262.2h.1M134.9 224.2h.1M126.4 240.9h.1M168.3 232.5h.1M141.7 238.2h.1M158.5 249h.1M138.2 267.3h.1M159.9 253.4h.1M158.9 267h.1M153.5 219.8h.1M136.7 253.6h.1M152.3 261h.1M125 240.6h.1M136.4 244.7h.1M166.7 241.2h.1M163.8 220h.1M136.2 267.5h.1M114.4 248.1h.1M136.7 258.2h.1M137.4 263.7h.1M165.2 238.1h.1M167.2 270.1h.1M115.1 259.5h.1M166.5 276.8h.1M138.4 264.6h.1M172.6 256.2h.1M128.5 236.4h.1M117.4 248.5h.1M160.6 234.3h.1M124.5 273h.1M168.7 238.9h.1M115.6 265.8h.1M148.5 264.9h.1M170.6 232.6h.1M166.1 225.1h.1M116.6 241.4h.1M159 226.9h.1M157.3 281.6h.1M152.9 275.9h.1M140.3 281.8h.1M114.6 242h.1M127.1 230h.1M146.9 237.7h.1M153.6 253.7h.1M130.8 260.3h.1M153.6 224.7h.1M166.2 238.5h.1M130.2 248.7h.1M157.7 220.4h.1M117.9 251.8h.1M128.9 272.2h.1M172.2 262.3h.1M133.9 232.8h.1M173.7 230.7h.1M150.3 266h.1M115.2 254.2h.1M164.9 265.6h.1M134.8 272.5h.1M145.9 256h.1M112.8 253.2h.1M161.4 279.4h.1M147.6 227.8h.1M166.6 220h.1M143.9 232.2h.1M135 236.6h.1M117.9 260.8h.1M155.1 276.9h.1M158 240.2h.1M113.6 261.6h.1M122.6 257.2h.1M169.4 241.7h.1M128 268h.1M128.3 272.4h.1M140.3 230.5h.1M136.8 259.5h.1M166.4 250.3h.1M150.7 217.8h.1M150.9 255.8h.1M125.8 232.6h.1M139.9 276.7h.1M156.3 276.9h.1M172.4 229.5h.1M168.8 275.1h.1M171.3 250.9h.1M139.6 281.3h.1M129.6 271.7h.1M124.3 234.4h.1M113 263.4h.1M122.5 248.7h.1M160.7 234.8h.1M112.1 262.7h.1M135.5 221.2h.1M177.5 257.9h.1M174.3 237h.1M149.1 253.8h.1M155.3 218.3h.1M144.5 241.6h.1M135.6 233.2h.1M137.3 280.1h.1M147.2 255.3h.1M170.5 227.9h.1M155.3 233.9h.1M124.4 268.9h.1M138.1 222.4h.1M135 255.2h.1M176 245.5h.1M154.4 229.8h.1M147.8 278h.1M114.9 241.8h.1M157.3 277.9h.1M141.7 234.4h.1M154.1 277.2h.1M129.5 229.1h.1M163.3 230.7h.1M152.9 259.1h.1M125.9 258.3h.1M137.6 221.3h.1M164.2 238.4h.1M139.8 255.3h.1M135.2 257.6h.1M153.2 224.5h.1M174.1 244.3h.1M151.3 251.6h.1M119.2 270.3h.1M171.5 261.1h.1M153.4 262h.1M128.1 245.3h.1M158.6 229.9h.1M118.1 237.1h.1M146.2 274.1h.1M175.4 260.5h.1M124.7 240.8h.1M137.6 225.1h.1M152.4 257.9h.1" stroke="#70309c" stroke-width="1.6" stroke-linecap="round" fill="none"/>
<path d="M166.8 230.9h.1M171.4 240.6h.1M174.5 257.1h.1M169 243.2h.1M151.8 272.4h.1M121.9 239.1h.1M147.7 235.2h.1M147.6 227.2h.1M147.7 232.4h.1M149.2 243.1h.1M167.9 228.3h.1M138.6 245.8h.1M158.4 242.9h.1M170.5 260.8h.1M173.6 247.1h.1M162.2 257.3h.1M150.4 278.4h.1M177.5 258.7h.1M154.5 251.5h.1M144.4 244.6h.1M172 249.6h.1M121.9 252h.1M171 265.8h.1M144.6 235.1h.1M164.6 226.2h.1M143.5 241.4h.1M166.9 253.4h.1M163.8 270h.1M169.5 225.9h.1M160.8 268.6h.1M172.9 243.8h.1M133.7 237.4h.1M154.4 278h.1M141.3 281.8h.1M148.9 263.5h.1M143.6 228.1h.1M151.7 214.4h.1M159.1 222.6h.1M163.7 275.4h.1M141.6 267.5h.1M154.4 246.2h.1M136.5 229.2h.1M135.1 224.4h.1M136.8 235.2h.1M147.3 226.5h.1M174.8 250.7h.1M166.6 265.2h.1M146.9 216.5h.1M116.7 237.6h.1M153.2 223.8h.1M170.5 266h.1M121.8 255.6h.1M160.1 278.6h.1M162 248.9h.1M134.4 227.6h.1M141.6 231h.1M166 274h.1M147.7 215.9h.1M153.4 213.1h.1M150 218.3h.1M152.2 249.7h.1M163.1 225.4h.1M158.4 273.2h.1M139 272.7h.1M171 260.8h.1M173.8 240.7h.1M154.7 214.1h.1M173.2 235.8h.1M146.4 275.7h.1M141.6 272.6h.1M168.6 246h.1M137.1 217.3h.1M161.7 230.7h.1M165 218.3h.1M144.6 217.4h.1M151.6 281.4h.1M137.6 218.3h.1M149.5 249.7h.1M158.6 262.2h.1M122 259.1h.1M167.4 256.4h.1M146.3 228.5h.1M141.5 255.9h.1M169.7 227.9h.1M154.6 260.5h.1M139.7 272.5h.1M177.8 263.8h.1M169.3 272.1h.1M136.1 241.6h.1M161.1 247.4h.1M148.6 259.4h.1M147.9 283.7h.1M140 275.8h.1M170.2 246h.1M152.6 240.6h.1M153.2 256.2h.1M146 281.5h.1M146.9 236.9h.1M145.3 218h.1M156 242.4h.1M162.9 221h.1M158.5 232.6h.1M158.9 244.7h.1M154.7 221.2h.1M168.7 272.6h.1M156.7 270.2h.1M131.6 226h.1M160.2 220.7h.1M142.5 235.3h.1M149.5 283.5h.1M133.7 230h.1M165.4 240.3h.1M143.4 269.5h.1M150.6 219h.1M150.1 281.1h.1M113.5 257.5h.1M161.7 278.2h.1M147 240.1h.1M150.3 234.4h.1M138.5 259.2h.1M154.7 236.4h.1M140.3 264.3h.1M174.3 247.4h.1M141.9 274.3h.1M150.4 214.3h.1M125.4 252.7h.1M176 249.6h.1M152 254.6h.1M141.1 236.2h.1M139.3 228.7h.1M144 270.6h.1M169.2 222.7h.1M176 248.6h.1M152.4 275.5h.1M148.9 254h.1M137.5 236.2h.1M137.2 258.6h.1M111.3 249.3h.1M155.8 258.4h.1M140.4 217.9h.1M154.9 242.9h.1M172 237.2h.1M136.1 226.5h.1M159.6 243.5h.1M136.7 254.8h.1M153.5 228.4h.1M174.8 247.3h.1M179.5 251.9h.1M134.9 233.1h.1M140.7 242.4h.1M112.4 247.2h.1M143.1 254.6h.1M170.7 223.7h.1M134 269.6h.1M113.1 243.2h.1M148.1 240.8h.1M165.9 220.4h.1M139.8 238.1h.1M153.6 262.7h.1M168.9 246h.1M144.6 247.8h.1M145.6 222h.1M158.1 259h.1M148.5 283.8h.1M135.6 222.2h.1M173.1 235.5h.1M158.5 243.4h.1M146.6 228.1h.1M167.7 261.8h.1M116.4 259.5h.1M168.3 244.4h.1M155.9 260.7h.1M152.5 213.7h.1M137.5 263.9h.1M151.4 240.2h.1M160.2 219.8h.1M167.4 275.4h.1M146 279.1h.1M156.9 274.2h.1M170.5 264.3h.1M155.1 254.9h.1M172.5 246.2h.1M176.5 253.5h.1M159.5 234.3h.1M142.3 260h.1M118.1 241.6h.1M135.4 233.3h.1M138.5 265.9h.1M139.2 259.5h.1M158.5 277.9h.1M165.7 254.9h.1M148.2 249.3h.1M150.6 211.8h.1M151.2 224.3h.1M152.1 280.9h.1M168.1 264.9h.1M157.3 231.4h.1M168.9 251.4h.1M166.7 224.2h.1M145.3 225.7h.1M151.3 221.4h.1M168.2 256.9h.1M164.4 220.7h.1M141.3 276.9h.1M172.9 232.7h.1M161.6 240.9h.1M141.4 268.7h.1M163.8 259.8h.1M163.5 219.8h.1M161.7 218h.1M134.1 265.1h.1M138.6 269.9h.1M134.9 242.5h.1M149.7 232.2h.1M154.1 216.2h.1M165 224.8h.1M143 262.3h.1M140.1 262.9h.1M163.1 255.5h.1M150.6 221.8h.1M170.4 228.7h.1M144.8 246.1h.1M139.2 225.5h.1M159.3 245.3h.1M167.3 248.6h.1M135.4 236.4h.1M147.3 216.2h.1M162.4 253.3h.1M146.6 230.4h.1M150.2 236.6h.1M138.2 227.3h.1M140.1 225h.1M167.8 229.5h.1M172.1 233.2h.1M150 244.7h.1M146.7 277.4h.1M150.1 228.8h.1M162.4 245.2h.1M148 268.9h.1M172.1 272h.1M146.1 224h.1M170.4 265.6h.1M157.6 223.1h.1M142.6 245.6h.1M148 215.2h.1M170.1 256.7h.1M176.2 244.9h.1M168.2 252.2h.1M138.8 258.9h.1M141.1 282.5h.1M174.4 243.8h.1M134.5 221.6h.1M147.9 269.4h.1M164.1 276.5h.1M163.8 247h.1M156.8 277.5h.1M164.8 220.3h.1M157.7 231h.1M177.8 253.4h.1M136.4 235.8h.1M141.3 282.7h.1M168.5 238.3h.1M147.6 275.2h.1M111.4 244.6h.1M160.5 251.4h.1M160.5 252.1h.1M154.8 257.6h.1M148.4 280h.1M149.5 261.4h.1M162.3 262.6h.1M153.2 241.5h.1M157.7 244.2h.1M178.2 244.3h.1M160.3 268.8h.1M148.6 234.7h.1M169.9 231h.1M142.1 263.6h.1M153.7 273.8h.1M160.8 241.8h.1M142 238.1h.1M141.1 276.3h.1M147.2 252.3h.1M137.1 257.6h.1M150.2 267h.1" stroke="#c8508a" stroke-width="1.6" stroke-linecap="round" fill="none"/>
<path d="M150.4 256.2h.1M167.8 252h.1M154.6 214.6h.1M169.5 257.5h.1M153.4 282.1h.1M151.4 284.2h.1M148.1 279.2h.1M159.8 234.6h.1M174.7 263.5h.1M139.8 216.6h.1M160.4 278.7h.1M142 217.3h.1M170.5 235.2h.1M143.9 259.8h.1M167.4 249.2h.1M152.2 215.1h.1M162.8 272.3h.1M162.6 224.1h.1M156.2 266.2h.1M168.8 235.6h.1M167.9 259.1h.1M141 234.6h.1M158.2 224.3h.1M166 231.4h.1M162.4 216.1h.1M157 256.6h.1M151.6 238.2h.1M148.3 269h.1M160.2 254.3h.1M159.8 268.9h.1M149.7 252h.1M153 227.9h.1M155.2 230.2h.1M165.5 225.2h.1M139.7 233.3h.1M171.1 250.7h.1M155.3 260.5h.1M145.8 250.7h.1M176.6 258.6h.1M176.4 244.1h.1M153.3 215h.1M146.9 242.5h.1M157.9 232.7h.1M168.3 263.5h.1M163.2 259.8h.1M143.1 256.3h.1M146.7 236.3h.1M162.1 215.4h.1M143.9 219.3h.1M154.2 276.8h.1M173.8 257.1h.1M174.3 251.3h.1M157 233.8h.1M169 224.1h.1M146.6 218.4h.1M153 277.8h.1M151.3 254.9h.1M149 274.3h.1M172 231h.1M164.2 263.8h.1M147.3 239.3h.1M168.4 264.4h.1M169.5 265.3h.1M165.4 248.5h.1M147.5 247.7h.1M167.6 227.2h.1M164.2 276.9h.1M163.9 265.1h.1M174.1 253.6h.1M159.9 268.1h.1M160.4 223.2h.1M162.6 240.4h.1M162.2 260.2h.1M155.8 249.9h.1M134.6 224.7h.1M164.2 271.6h.1M140.9 269.7h.1M178.5 250.5h.1M151.3 259.5h.1M162.8 237.5h.1M178 250h.1M152 213.1h.1M165.5 235h.1M157.2 246.3h.1M158.7 280.9h.1M158 255.5h.1M172.3 228.9h.1M162.1 278.8h.1M155 234.8h.1M165.2 261h.1M168.6 227h.1M172.4 265.9h.1M169.3 222.2h.1M152 230.7h.1M157.4 241.3h.1M166.3 275.2h.1M164.8 255.2h.1M155.7 230.1h.1M147.9 230.9h.1M155.6 263.9h.1M157.6 255.2h.1M172.3 251.9h.1M166.4 244.4h.1M168.3 226h.1M155 272.1h.1M162.6 246.1h.1M170.3 235.8h.1M146.5 234h.1M179.4 255.1h.1M149.2 246.7h.1M162.9 240.5h.1M146.8 274.2h.1M165.9 249.9h.1M150 224.6h.1M166.3 249.9h.1M149.3 228.4h.1M163.8 238.1h.1M166.5 243.2h.1M143.7 243.2h.1M138.6 255.6h.1M147.9 237h.1M142.1 256.6h.1M154.7 244.4h.1M153.4 282.2h.1M149.9 219h.1M176.1 247.1h.1M155.8 249.6h.1M143.2 213.9h.1M162.3 272.6h.1M141.7 268.7h.1M150.2 244h.1M157.1 256h.1M143.2 219.5h.1M165.6 234.3h.1M153.8 246.2h.1M141.8 265.3h.1M176.8 264.3h.1M161.7 256h.1M143 243.1h.1M144.9 247h.1M159 253h.1M155.6 264.4h.1M140.5 220.5h.1M173.3 234.7h.1M160 249.4h.1M161.4 255h.1M145.2 263.3h.1M151.5 243h.1M145.3 222.1h.1M161.2 235.9h.1M161.1 252.4h.1M151.2 231h.1M160.7 241.1h.1M173.5 260.8h.1M141.6 226.2h.1M164.1 237.2h.1M162 254.3h.1M169 263.6h.1M143 228h.1M171.9 268.8h.1M145.3 223.2h.1M149 224.4h.1M159.4 215.8h.1M149.5 227.5h.1M142.7 219.6h.1M156.6 268.5h.1M140.5 215.2h.1M162 247.5h.1M152.3 232h.1M169 245.6h.1M159.1 252.5h.1M156.5 262.9h.1M165.1 269h.1M156.9 269.2h.1M161.3 255.2h.1M145.5 220h.1M169.4 253.7h.1M177.2 245.6h.1M157.8 231.8h.1M164.6 219.9h.1M148.5 282h.1M158.7 238.6h.1M152.2 233.2h.1M148 214.2h.1M143 235.3h.1M158.3 227.6h.1M142.1 231.9h.1M176.2 251.7h.1M151.7 275.3h.1M142.3 276.5h.1M167.2 259.3h.1M143.1 214.9h.1M165.3 223.4h.1M173.9 251.3h.1M165.5 249.6h.1M155.2 262.2h.1M165 253.1h.1M152.8 234.7h.1M150.6 241.9h.1M162.5 258.3h.1M173.3 258.3h.1M143.1 257.6h.1M154.4 223.2h.1M164.8 243.1h.1M165.8 234.7h.1M148.3 238.6h.1M160.4 224h.1M162.4 268.3h.1M163.4 223.4h.1M172.6 247.5h.1M154.4 214.4h.1M164 272.7h.1M156.6 258h.1M145.2 254.9h.1M148.8 274.3h.1M152.7 222.7h.1M149.1 278.4h.1M143.5 221.4h.1M165.1 232.4h.1M159.2 215.5h.1M179.8 253.4h.1M158.1 234.6h.1M156.2 220.3h.1M147.3 282.9h.1M173.6 240.4h.1M139.7 216.9h.1M156.6 272.8h.1M160.2 247.2h.1M144.1 250h.1M172.3 256.5h.1M176 259.9h.1M149.8 263.3h.1M157.7 244.3h.1M173.8 254.7h.1M166.1 259.5h.1M165.8 266.3h.1M139.7 276.9h.1M131.9 224.6h.1M155.5 256.3h.1M150.2 233.5h.1M165.9 246.2h.1M158.3 218.2h.1M149.6 253.1h.1M157.7 241.5h.1M171.1 258.6h.1M159 219.2h.1M144.5 241.5h.1M147.9 235.6h.1M140.4 240.6h.1M145.4 247.3h.1M174.8 264.4h.1M171.8 246.2h.1M146.3 219.5h.1M164.2 255h.1M169.6 266.6h.1M169.8 234.5h.1M150.2 246.4h.1M166.2 253.9h.1M155.5 237.2h.1M162.3 244.6h.1M151.3 262.4h.1M151.1 233.8h.1M160.1 264.3h.1M158.4 270.6h.1M137.9 240.4h.1M161.1 275.5h.1M158.4 232.5h.1M161.5 261h.1M144.9 249.4h.1M144.3 214.8h.1M149.3 249h.1M168.3 226.4h.1M160.4 269.7h.1M167.7 234.2h.1M153.9 275.3h.1M138.5 222.1h.1M148.7 221.9h.1M149.8 272.3h.1M156.8 223.1h.1M172 264.8h.1M145.8 249.4h.1M151.9 246.8h.1M138.4 233.3h.1M146.4 215.2h.1M155.6 222.5h.1M156.1 275.8h.1" stroke="#f0904a" stroke-width="1.6" stroke-linecap="round" fill="none"/>
<path d="M164.7 250.4h.1M157.6 257.4h.1M165 246.1h.1M152.8 268.8h.1M149.2 241.9h.1M151.4 252.5h.1M165.6 244h.1" stroke="#eee42a" stroke-width="1.6" stroke-linecap="round" fill="none"/>
<path d="M135.6 261.3h.1M122.6 262.5h.1M139.5 225.8h.1M159.1 271.4h.1M135.5 235.8h.1M149.3 249.3h.1M157.8 274.7h.1M164.3 276.5h.1M152 278.7h.1M159.6 261.1h.1M163.9 239.1h.1M137.9 270.3h.1M167.6 255.6h.1M148.1 214.1h.1M168.9 274.6h.1M166.5 272.8h.1M161.3 264h.1M166.5 229h.1M149.4 233.1h.1M160.7 235h.1M145.2 270.7h.1M165.5 260.6h.1M145.9 221.1h.1M148 276.7h.1M157.9 233.2h.1M156.4 237.2h.1M157.3 268h.1M158.8 224.8h.1M174 245.2h.1M157.6 244.8h.1M150.8 255.5h.1M151.8 233.2h.1M156.8 248.1h.1M133 268.3h.1M153.1 247h.1M159.9 245.3h.1M142.1 229.9h.1M150.3 275.1h.1M168.1 236.9h.1M159.5 224.4h.1M166 263.3h.1M135.6 271.4h.1M160.5 248.7h.1M172.7 264.6h.1M143.5 239.5h.1M169.5 250.9h.1M129.3 255.6h.1M177.7 249.5h.1M167 242.6h.1M141.8 276.8h.1M177.1 245.3h.1M161.9 262.8h.1M159.6 223.9h.1M159.8 275.1h.1M166.3 230.9h.1M157.6 234.9h.1M155.5 230.5h.1M139 232.5h.1M115.5 236.2h.1M165.2 229.7h.1M143.2 259.7h.1M116.9 240.5h.1M142.7 259.8h.1M159.7 236.2h.1M152.7 246.5h.1M150.4 212.3h.1M164.4 226.4h.1M163.6 224.9h.1M149.1 269.4h.1M158.9 262.1h.1M136.1 262.4h.1M174.3 252.5h.1M162.1 237.4h.1M129.5 273.6h.1M152.3 255.5h.1M124.5 272.2h.1M170.9 255.6h.1M164.1 243.5h.1M151.4 253.8h.1M125.7 231.9h.1M121 237.4h.1M163.2 224.4h.1M115.6 247.2h.1M171.5 267.4h.1M152.4 283.3h.1M164.9 236.5h.1M165.6 254.5h.1M157.4 271.9h.1M168 233.9h.1M156.1 256.8h.1M157.4 237h.1M161.2 270.7h.1M167.1 232.8h.1M155.7 217.8h.1M160.9 274.6h.1M153.1 274.8h.1M143.7 241.4h.1M125.5 265.9h.1M152.9 262h.1M155.5 256.5h.1M168 236.2h.1M167.1 256.2h.1M151.8 227.1h.1M132.2 267.7h.1M162.6 270.3h.1M160.1 236.3h.1M154.3 236.2h.1M159.9 234h.1M159 278.8h.1M148.7 238.8h.1M151.6 243.8h.1M172.9 239h.1M156.6 213.3h.1M147.6 260.1h.1M160.5 226.3h.1M117.3 238.3h.1M114.3 250.5h.1M153.2 240h.1M158.4 254.3h.1M170.8 241.8h.1M156.1 214.5h.1M138.2 225h.1M166.6 241.1h.1M153.8 235.9h.1M170.6 227.7h.1M155.1 231h.1M172.6 260.8h.1M151.6 231.3h.1M165.5 250.9h.1M139.8 263.8h.1M123.2 244.3h.1M149.5 265.8h.1M171.4 243.6h.1M140.1 239.3h.1M159.3 253.8h.1M128.5 268.3h.1M165 237.7h.1M158.6 261.4h.1M138 219.3h.1M147.8 241.9h.1M146.4 225.9h.1M141.5 236.7h.1M158.6 217.9h.1M149.8 255.4h.1M166.5 263.9h.1M156.9 263.8h.1M146.5 235.5h.1M145.9 250.5h.1M117.6 238.5h.1M148.9 247.2h.1M169.5 225.6h.1M154.9 214.2h.1M148.6 263.3h.1M145 269h.1M154.9 244.4h.1M156.9 249.3h.1M144.3 231.4h.1M153.1 250.6h.1M158.5 264.3h.1M151.1 242.8h.1M139.1 261.8h.1M155.7 278.6h.1M118.8 254.2h.1M158.5 272.4h.1M161.1 276.5h.1M165.7 249.1h.1M145.1 258h.1M145.2 248.4h.1M155 253.3h.1M150.9 265h.1M147.2 215.9h.1M131.5 225.6h.1M149.6 244.8h.1M176.1 251.5h.1M141.7 252.5h.1M167.4 239.6h.1M156.4 261.5h.1M164.9 231.3h.1M160.1 226.3h.1M154.4 226.9h.1M163.9 273.7h.1M162.4 223.9h.1M153.1 239.7h.1M139.7 226.5h.1M170.1 246.4h.1M167.3 239.7h.1M152.9 266.8h.1M161.1 253.4h.1M152.7 278.8h.1M154.4 238.4h.1M148.7 271.2h.1M149.6 260h.1M167.6 244.2h.1" stroke="#c8c4c8" stroke-width="1.6" stroke-linecap="round" fill="none"/>
<path d="M125.2 263.4h.1M127.7 271.7h.1M135.2 278.9h.1M136.1 225.8h.1M144.2 229.1h.1M137 222.2h.1M135.2 235.9h.1M131 262h.1M118.1 233.9h.1M121.3 247.9h.1M131.4 277.6h.1M120.2 233h.1M115.9 267.6h.1M118.6 249.6h.1M124.6 239.2h.1M118.5 263.1h.1M119.1 264.5h.1M124.8 234.5h.1M127.5 256h.1M120 258.7h.1M128.5 237.1h.1M128.4 270.1h.1M112.4 261h.1M112.2 262.8h.1M134.8 279.4h.1M137.5 280.9h.1M137.6 265.3h.1M127.9 234.8h.1M122.1 253.7h.1M131.4 257.3h.1M132.6 264.6h.1M173.5 262.9h.1M165.3 267.1h.1M127 264.5h.1M122.5 232.8h.1M176.3 259.5h.1M132.2 267h.1M118.7 245.4h.1M115 243.7h.1M132.1 267.3h.1M126.8 232.6h.1M116.1 266.9h.1M140 260.9h.1M130.1 259h.1M121.4 233.8h.1M164.7 246.2h.1M123.3 230.8h.1M132.7 266.2h.1M127.1 273.5h.1M118.9 243.9h.1M132.5 265.8h.1M133.3 249h.1M137.9 280h.1M133.3 264.1h.1M134.9 222.8h.1M123.7 245.3h.1M112.1 246.6h.1M120.2 244.1h.1M127 236.6h.1M132.7 274.8h.1M114.5 241.6h.1M129.5 271.2h.1M130.6 230.4h.1M119 251.3h.1M155.5 239.6h.1M136.4 236.3h.1M129.3 269.6h.1M141.9 252.7h.1M120.3 244.6h.1M128 265.7h.1M118.2 238.8h.1M131.6 259.9h.1M141.9 270.8h.1M117.3 248.9h.1M132.8 277.3h.1M136.9 265.8h.1M119.8 269.1h.1M129.2 277.7h.1M136.7 260.7h.1M122.7 251.4h.1M123.8 253.9h.1M126.8 256.2h.1M110.1 256.8h.1M116.6 259.7h.1M112.4 246.4h.1M119 239.3h.1M116 249h.1M127.5 251.5h.1M113.9 263.2h.1M128.4 229.9h.1M111.3 254.5h.1M127.8 263.3h.1M123.3 258.5h.1M121.9 250.5h.1M124.3 274.1h.1M124.3 269.3h.1M159.1 217h.1M135.1 245.7h.1M135.7 273.2h.1M112.2 249.9h.1M144 272.3h.1M121.1 243.5h.1M125 231.9h.1M125.3 229h.1M120.4 269.5h.1M127.2 227.3h.1M133.9 265.9h.1M111.3 258h.1M126.4 229.7h.1M114.5 240.4h.1M138.8 275h.1M114.9 256.9h.1M119.5 269h.1M125.6 266.5h.1M128.1 232.5h.1M126.9 235.2h.1M128.7 236.2h.1M134.9 230.1h.1M120 257.1h.1M114.5 260.9h.1M130 275.4h.1M133.5 261.5h.1M130.4 262.1h.1M131.6 240h.1M127.3 258.2h.1M131.1 273.6h.1M132.1 260h.1M140.9 275.9h.1M134.6 266.2h.1M124.2 255.2h.1M124.1 256.8h.1M131.2 244.2h.1M133.7 274.7h.1M114.6 259.9h.1M142.4 272.9h.1M126.8 248.9h.1M129.5 262.9h.1M133.2 258.3h.1M114.1 244.7h.1M116.7 261.4h.1M127.2 268.9h.1M129.6 245.2h.1M135.4 272.4h.1M131.4 238.4h.1M133.4 273.9h.1M116.4 240.7h.1M135 267.1h.1M123.6 234.7h.1M123.6 239.7h.1M117.5 241.5h.1M138.1 278.1h.1M134.5 280.8h.1M130.4 267.4h.1M124.9 252.6h.1M167.7 247.3h.1M124.6 230.5h.1M138.6 244.5h.1M142.2 225.5h.1M142.3 270.1h.1M127.9 263.4h.1M129.8 277.8h.1M130.5 276.3h.1M119.2 247.6h.1M112.9 247.9h.1M123.8 268.8h.1M122.7 245.2h.1M128.9 263.1h.1M129.1 260.6h.1M150.1 215.1h.1M110.7 247.9h.1M129.5 227.4h.1M119.2 247.8h.1M168.1 220.5h.1M135 261.8h.1M138.4 270h.1M114.3 243.1h.1M114.4 256.9h.1M148.6 260.1h.1M122.5 253.4h.1M130.5 242.3h.1M113 242.2h.1M119.4 266.6h.1M117.2 239.4h.1M171 267.5h.1M114.9 237.7h.1M129 243.1h.1M131.3 256h.1M121.3 268.2h.1M121.4 245.4h.1M139 251.8h.1M113.1 252.9h.1M130.3 231.4h.1M122.4 251h.1M130.5 229.4h.1M151.6 213.3h.1M119.3 249.6h.1M168.4 266.5h.1M122.4 252.4h.1M124.7 249.1h.1M139.3 225.3h.1M132.5 242.3h.1M137 276.2h.1M126.5 229.3h.1M132.2 231.7h.1M118.7 248.5h.1M116.4 265.1h.1M126.6 263.2h.1M116.7 237.8h.1M129.3 275.2h.1M121.4 234.1h.1M137.8 264.9h.1M134.4 274.7h.1M110.4 250.4h.1M111.3 251h.1M170.3 240.6h.1M154 248.3h.1M159.2 218.6h.1M128.6 231.3h.1M138.6 275.1h.1M137.8 271.6h.1M127.2 267.5h.1M125.6 273.4h.1M113.5 253.5h.1M137.3 236.9h.1M136.3 275.2h.1M117.1 251.7h.1M124.1 246.5h.1M123.3 241.5h.1M172.7 250.3h.1M151.5 268.5h.1M139.2 265.5h.1M127.1 271.1h.1M118.5 242.2h.1M117.6 240.5h.1M113.7 252.1h.1M120.2 259.8h.1M120.4 259.8h.1M130.9 276.7h.1M129.3 234.6h.1M111.6 252.2h.1M114.4 261h.1" stroke="#262a80" stroke-width="1.6" stroke-linecap="round" fill="none"/>
<path d="M116.6 264.5h.1M173.2 257.7h.1M135.3 220.8h.1M141.7 278.5h.1M148.2 214.3h.1M168.6 267.4h.1M151.2 245.1h.1M169.4 257.8h.1M126.3 235.3h.1M149.1 259.4h.1M153.4 250.7h.1M134.6 262.6h.1M133.1 224.4h.1M131.1 262.3h.1M142.6 224.8h.1M121.6 269.3h.1M164.3 217.8h.1M163.9 254.1h.1M141.8 256.3h.1M170.4 254h.1M157.5 277.2h.1M135.7 230.7h.1M144.5 212.8h.1M113.6 260.2h.1M116.6 234.8h.1M125.3 232.6h.1M121.1 271.3h.1M165 277h.1M112.5 252.7h.1M149.5 241.8h.1M126 236.7h.1M135.6 222.7h.1M112.9 248.4h.1M116.7 246.1h.1M143.6 255.7h.1M145.8 233h.1M126 236.9h.1M140.5 268.6h.1M142.5 222.8h.1M144 235.3h.1M140.2 278.5h.1M152.9 213.2h.1M162.5 271.8h.1M152.5 275.7h.1M138 262h.1M119.4 243.9h.1M168.6 259.1h.1M151.3 255.3h.1M165.6 248.7h.1M140.7 236.7h.1M150.6 211.9h.1M151.2 280.3h.1M171.7 268.2h.1M115.3 239h.1M132.5 259.3h.1M119.4 241.2h.1M150.4 275.7h.1M155.5 222.4h.1M161.1 244.1h.1M163 233.7h.1M135.9 263.6h.1M126.7 228.2h.1M172.4 232.3h.1M144.2 246.2h.1M124.9 250.3h.1M169.1 254.8h.1M169.4 250.3h.1M173.2 249.7h.1M168.8 261.3h.1M147.4 273.7h.1M132.4 272.8h.1M113.1 249.3h.1M121.2 235.9h.1M139.2 257.4h.1M122.8 253h.1M117.5 267.1h.1M129.4 226.9h.1M169.2 223.8h.1M171.5 259.1h.1M143.6 230.9h.1M127.6 233.4h.1M130.9 235.7h.1M152.3 273.2h.1M177 259h.1M156 222.2h.1M134.1 276h.1M125.9 232.2h.1M170.1 233.9h.1M179.7 256.6h.1M111.8 245.2h.1M116.9 257.1h.1M141.3 264.8h.1M139.6 218.2h.1M134.2 236.7h.1M150.9 238.3h.1M135.8 245.7h.1M120.5 231.5h.1M136.5 234.4h.1M168.4 250.9h.1M132.3 262.5h.1M142.8 254.1h.1M119.6 262.4h.1M113.7 255.2h.1M150 222.9h.1M163.5 234.3h.1M112.3 252.5h.1M165.8 220.4h.1M148.3 212.4h.1M129.4 230.6h.1M115.4 247.3h.1M145.8 218.3h.1M161.5 226.5h.1M136.2 267.9h.1M135.1 261.4h.1M151 278.3h.1M151.3 220.5h.1M155.7 244.5h.1M170 228.6h.1M154.3 223.2h.1M120.1 265.9h.1M126.9 258.7h.1M140.4 229.9h.1M147.8 250.6h.1M122.8 238.2h.1M118.3 262.2h.1M171.8 243.7h.1M157.9 281.3h.1M153 260.4h.1M126.7 260.7h.1M168.9 271.9h.1M155.3 260h.1M136.7 273.7h.1M153.6 228.2h.1M148.9 222.9h.1M157.2 272.9h.1M162.7 269.4h.1M150.5 278.5h.1M146.4 271.1h.1M123.6 271.8h.1M159.3 269.3h.1M136.5 259.4h.1M168.3 238.7h.1M156.9 264.4h.1M141.9 213.6h.1M112.6 255.9h.1M114.9 238.4h.1M119.2 243h.1M139.7 266.5h.1M154.5 275.2h.1M158.1 216.9h.1M134.7 258.7h.1M168.4 232.6h.1M137.8 245.9h.1M167.1 277.6h.1M126.6 233.5h.1M117.7 247.9h.1M122.3 239.9h.1M148.5 268.9h.1M164.3 221.3h.1M127.2 267.9h.1M121.4 233.8h.1M162 273.3h.1M152.5 263.3h.1M172.3 247.9h.1M123 249.6h.1M143.8 270h.1M129.5 236.2h.1M120.4 258.6h.1M127.1 261.3h.1M154.8 280h.1M173.3 249h.1M166 232.3h.1M146.4 280.4h.1M157.9 262.5h.1M155.3 242.5h.1M113.9 246.3h.1M118 251.4h.1M149 260.7h.1M136 278.6h.1M128.5 264h.1M169.3 243.6h.1M135.1 246.9h.1M142.8 265.1h.1M158.2 217.5h.1M154.5 223.6h.1M168.2 260.4h.1M144.7 256.9h.1M132.7 268.8h.1M134.4 238.2h.1M143 271.8h.1M124.4 231.2h.1M139.7 274.6h.1M120.3 265.1h.1M142.8 224.3h.1M119.9 258.4h.1M123.5 231h.1M133.8 230.3h.1M149.4 218.7h.1M173.8 232.1h.1M126.4 236.1h.1M134.1 279.1h.1M170.4 248.6h.1M156.8 236.3h.1M137.7 272.7h.1M167.7 248.8h.1M174.3 244.1h.1M141.4 261.2h.1M161.1 261.9h.1M131.6 225.6h.1M117.1 236.1h.1M151.2 282.6h.1M170.5 265.8h.1M125.8 235h.1M122.9 262.3h.1M161.4 262.9h.1M174.3 254h.1M168.1 274h.1M137.7 270.7h.1M160.2 266.4h.1M141 217.9h.1M167.8 271.3h.1M154.3 216.8h.1M126.3 274.7h.1M174.2 260.5h.1M174.4 267.4h.1M119.4 269.1h.1M141.7 248.2h.1M143.3 280.7h.1M120.9 266.8h.1M150.7 279h.1M151.6 259.8h.1M144.9 266.8h.1M141.4 260.8h.1M172.7 248.1h.1M139.9 281.3h.1M137.7 232.9h.1M140.4 262.2h.1M142.2 231.2h.1M145.8 245.1h.1M135.9 221.2h.1M133.4 244h.1M141 264.2h.1M112 244.9h.1M172 245.5h.1M133.2 228h.1M172.7 243.4h.1M171.5 259.9h.1M134.2 272.4h.1M150.8 245.9h.1M117.8 255.9h.1M135.8 269.7h.1M167 227.8h.1M144.9 236.4h.1M122.4 266.1h.1M141.8 278.7h.1M162.2 234.7h.1M172.1 250.6h.1M153.9 248h.1M148.2 253.6h.1M134.9 235.9h.1M118.3 247.8h.1M170 233.3h.1M171.7 245.5h.1M122.7 253.8h.1M132.5 235.4h.1M147 253.8h.1M147.1 282.7h.1M151.7 283h.1M136.7 242.3h.1M159.3 281.1h.1M160.3 239.8h.1M136.2 234.8h.1M140.1 226h.1M117.7 264.2h.1M121.1 239.8h.1M131.2 271.9h.1M115.7 251.3h.1M159.8 260.3h.1M139.9 232.5h.1M148.2 223.6h.1M149.4 213h.1M127.3 257h.1M134.3 235.8h.1M160.7 252.6h.1M162.9 281.1h.1" stroke="#70309c" stroke-width="1.6" stroke-linecap="round" fill="none"/>
<path d="M170.4 249.5h.1M171.4 265.8h.1M143.8 277.3h.1M170.8 259.6h.1M167.3 236.4h.1M143.9 235.1h.1M140.1 282.6h.1M122.2 246.7h.1M155.2 273.5h.1M164.3 219.8h.1M159.8 253h.1M153.2 236.1h.1M146.1 216.5h.1M129.6 240.4h.1M140.3 282.8h.1M133.3 221.5h.1M154.4 253.3h.1M153.5 221.3h.1M145.4 249.9h.1M134.6 222.9h.1M160 216.8h.1M153.1 265.8h.1M136.9 248.2h.1M171.5 253.6h.1M149.1 213.6h.1M125.2 239.7h.1M170.6 250.4h.1M151.9 283.1h.1M163.1 233h.1M143.5 236.1h.1M139 269.8h.1M140.2 238.7h.1M162.2 241.9h.1M157.1 217.9h.1M168.7 275.8h.1M146.4 242.2h.1M174.7 263.9h.1M165.6 249.8h.1M132 231.3h.1M150 280.7h.1M145.7 277.3h.1M136.5 262.6h.1M177.1 258.5h.1M172.7 247.4h.1M175.7 252.4h.1M155 215.8h.1M149.8 249.3h.1M158.8 250.6h.1M142.2 276.9h.1M133.5 221.4h.1M165 266.4h.1M155.5 219.1h.1M156.6 244h.1M179 254.7h.1M145.2 230.4h.1M179.5 252.7h.1M148.3 256h.1M162.2 245.7h.1M127.3 268.5h.1M133.5 254.5h.1M141 217.3h.1M178 261h.1M151.3 242.6h.1M155.6 281h.1M155.8 255.6h.1M148.4 266.8h.1M148.5 254.2h.1M162.4 241.3h.1M177.1 242.2h.1M164.7 240.7h.1M165.3 221.6h.1M158.2 259.1h.1M177.8 251.2h.1M158.1 228.7h.1M167.9 249.9h.1M171.2 263.9h.1M140 274.1h.1M171 258.8h.1M134 226.5h.1M150.9 282.9h.1M155.4 264.9h.1M173.6 249.5h.1M169.8 231h.1M164.6 262.1h.1M149.4 217.6h.1M149.3 214.6h.1M156.9 213.9h.1M173.4 265.3h.1M151.4 219.4h.1M141.6 239.1h.1M147.2 257.3h.1M143 228.2h.1M179 255.9h.1M138.7 220h.1M134.4 230.7h.1M166.3 223.4h.1M176.9 254.9h.1M160.4 245.3h.1M158.8 248.3h.1M143.3 261.9h.1M136.7 256.1h.1M165.5 261.5h.1M153.7 219.6h.1M155.3 215.7h.1M174.3 237.6h.1M142.7 224.7h.1M136.3 252.5h.1M140.7 263.2h.1M174.6 241.5h.1M147.1 235.4h.1M138.8 246.9h.1M165.8 219.8h.1M147.7 274.9h.1M155.4 231.6h.1M143 237.1h.1M148 279.6h.1M145.9 242h.1M149.2 237.6h.1M167.8 247h.1M137.4 225h.1M135.4 236.8h.1M154.7 274.6h.1M137.3 234.3h.1M161.1 244.8h.1M164.9 240.9h.1M147.4 274h.1M169.5 271.7h.1M137.5 222.8h.1M169.6 238.9h.1M146.7 222.8h.1M135.5 273.8h.1M140.5 229.4h.1M142.1 220h.1M176.2 254.1h.1M153 216.2h.1M141.7 278.3h.1M153.5 260.5h.1M145 271.2h.1M164.8 243.7h.1M171 248.1h.1M178.9 248.2h.1M170 250.4h.1M159.1 272.5h.1M138 230.8h.1M151.2 240.1h.1M154.6 278h.1M142.6 218.3h.1M153.4 253h.1M160.3 275.3h.1M151 218.3h.1M166.1 220h.1M153.4 259.6h.1M160.2 226.1h.1M149.6 250.1h.1M160.7 227.4h.1M156.6 257.3h.1M160.6 238.3h.1M170.6 266.9h.1M149.5 267.7h.1M173.8 236h.1M134.6 221.3h.1M143.8 234.8h.1M166.5 219.1h.1M139.4 261.6h.1M169.8 253.2h.1M152.3 248.9h.1M160.6 228.5h.1M144.9 216.3h.1M160.3 235.6h.1M154.1 263h.1M173.9 259.7h.1M146.1 253.5h.1M124.4 259.8h.1M170.1 238.3h.1M147.5 238.8h.1M144.9 260.4h.1M141.8 270.3h.1M150.1 274.1h.1M160.5 220.2h.1M160.6 229.1h.1M155.2 216.1h.1M147.5 214.7h.1M160.9 237h.1M127 259.6h.1M134.3 223.6h.1M149.5 246h.1M139.1 273.3h.1M153 242.3h.1M164.6 221.6h.1M162.6 224.1h.1M148 249.9h.1M159.4 218h.1M160 228.1h.1M171.2 238.6h.1M141.9 263.7h.1M163.7 262.7h.1M155.1 277.7h.1M143.9 232h.1M143.9 276.1h.1M148.5 248.4h.1M171.3 237.7h.1M142.3 241.4h.1M176.4 260.9h.1M157.5 267.1h.1M139.8 233.1h.1M148.7 274.5h.1M145.7 273.7h.1M167.2 253.5h.1M156.3 279.9h.1M162.9 252.1h.1M133.8 238h.1M156.5 266h.1M154.2 227.7h.1M152.3 215.9h.1M147 279.8h.1M163.2 217.5h.1M158.3 246.1h.1M138.1 233h.1M177.4 263.2h.1M153.5 252.5h.1M152.3 254h.1M143.9 267h.1M147.7 217.6h.1M162.7 230.7h.1M148.8 261.2h.1M142.8 232.6h.1M147.8 244h.1M163.5 245h.1M146 218.2h.1M142.7 276.2h.1M162.5 278.2h.1M159.7 280.6h.1M148.2 216.9h.1M160.6 222.1h.1M141 218h.1M152.4 264.6h.1M159.3 275.3h.1M144.6 232.4h.1M163.2 218.3h.1M147.7 279.4h.1M158.3 282.3h.1M137.9 228.7h.1M169.7 225.7h.1M156.2 272.9h.1M173.5 265.5h.1M167.3 225.6h.1M156.3 223.8h.1M141 234h.1M138.4 236h.1M132.5 276.6h.1M164.6 274.3h.1M122.2 248.1h.1M159.4 264.5h.1M157.1 247.4h.1M170.3 235.6h.1M125.4 265.8h.1M176.8 258.2h.1M171.6 266.6h.1M171.4 256.4h.1M170 224h.1M149.4 257.5h.1M166.2 276.7h.1M140.6 277.7h.1M154.3 251.8h.1M152.2 262.5h.1M152.6 238.7h.1M166.9 247.1h.1M161.2 236.4h.1M142.2 265.2h.1M166.2 257h.1M163.2 276.7h.1M161 269.7h.1M148.8 251.1h.1M146.6 226.3h.1M160.3 215h.1M170.7 246.6h.1M145 218.1h.1M166.7 220.8h.1M144.1 254h.1M145.1 254.1h.1M141.7 271.7h.1" stroke="#c8508a" stroke-width="1.6" stroke-linecap="round" fill="none"/>
<path d="M143.9 251.1h.1M161.2 259.1h.1M138.4 269.3h.1M173.6 236.9h.1M168.3 265h.1M151.5 249.9h.1M153.4 228.6h.1M159.7 241.4h.1M171.2 266.6h.1M148 267.7h.1M159.1 234.8h.1M145.6 253.7h.1M133.1 231.9h.1M162.9 240.6h.1M147.4 254.2h.1M146.4 226.7h.1M159.3 262.4h.1M145.6 267.4h.1M173.9 263.5h.1M158.7 268.3h.1M155.5 215.1h.1M168.6 269.3h.1M151.8 239.2h.1M163.8 261.2h.1M153.1 232.6h.1M157.4 271.8h.1M154 252.7h.1M177.8 260.6h.1M148.8 283.4h.1M164.1 261.3h.1M176.9 253.1h.1M160.8 244.2h.1M139.6 239h.1M145 229.4h.1M155.8 239.7h.1M143.9 233.2h.1M171.8 270.4h.1M144.4 276.4h.1M165.1 256.8h.1M150.5 226.3h.1M149.8 262.6h.1M165.3 249.4h.1M169.7 260.3h.1M166.7 248.5h.1M152.6 215.6h.1M146.5 217.8h.1M167.4 267.3h.1M150.9 223.3h.1M168.5 262.6h.1M153.6 215.5h.1M167.8 240.7h.1M139.2 261.4h.1M164.3 269.9h.1M168.8 254.3h.1M173.9 238.7h.1M169.6 244.7h.1M166.5 237.4h.1M172 244.1h.1M150.5 281.3h.1M165.7 257.6h.1M179.2 253.9h.1M169.4 232.3h.1M180.2 255.3h.1M156.7 237.1h.1M150.3 271.9h.1M143.4 255.8h.1M162.4 259.6h.1M146 276.2h.1M163.8 220.2h.1M142.8 219.4h.1M179.9 253.3h.1M147.8 235.7h.1M180.1 254.1h.1M149.2 214.7h.1M138.7 228.2h.1M154.9 282.2h.1M145.7 253.4h.1M169.9 267.1h.1M163.7 245.3h.1M172.8 259.1h.1M149.6 212.1h.1M153.4 231.7h.1M142 269.9h.1M140.8 221.3h.1M144.5 215.6h.1M167.2 263.7h.1M158.8 220.6h.1M158.1 279.4h.1M147.6 273.5h.1M158.4 264.6h.1M156 252.2h.1M143.1 245.6h.1M174.6 253.2h.1M175.9 263h.1M161.3 230.8h.1M165.8 232.6h.1M155.4 214.1h.1M150.8 263.8h.1M151.3 223.1h.1M164.5 265.8h.1M141.5 215.8h.1M150.9 257.5h.1M157.3 262.1h.1M148.6 262.7h.1M157.4 253h.1M147.6 254.2h.1M144.9 229.1h.1M155.1 222.7h.1M172.2 257.8h.1M142.7 243h.1M169.5 261h.1M168 267.3h.1M163.1 227.2h.1M165.3 237.1h.1M172.2 229.7h.1M145.1 244.4h.1M157.7 227.7h.1M148.6 249.6h.1M162.4 257.5h.1M151.2 259.7h.1M155.1 267h.1M172.9 252.4h.1M146 215.2h.1M161.6 248.6h.1M171 273.5h.1M159.1 237.7h.1M159.4 264.3h.1M140.9 273.9h.1M155.9 254.7h.1M149 234.5h.1M159.4 262.2h.1M160 278h.1M143.2 220.5h.1M159.4 215.8h.1M164.3 227.5h.1M162.6 222.6h.1M160.8 237h.1M148 240.6h.1M163.2 264.9h.1M158.1 276.4h.1M176 247h.1M152.5 234.7h.1M163 252.3h.1M161.1 242h.1M144.7 214.2h.1M165.6 236.4h.1M152.9 245.6h.1M166.1 277.4h.1M160.5 253.7h.1M163.3 270.2h.1M144.9 212.8h.1M154.3 253.6h.1M161.6 258.9h.1M155 216.7h.1M162.6 225.4h.1M176.7 263.8h.1M168.9 265.5h.1M147.7 217.7h.1M161.9 222.5h.1M154.3 282.1h.1M163.2 267h.1M149 259.6h.1M144.4 244.6h.1M153.9 229.6h.1M160.7 227.3h.1M160.9 271.2h.1M173.7 237.3h.1M152.8 256h.1M158.2 240.6h.1M172.2 228.7h.1M141 235.4h.1M148.7 272.9h.1M140.6 261.4h.1M169.7 238.6h.1M154.4 282h.1M159.4 269.4h.1M132.3 230.8h.1M163.3 260.4h.1M163.7 277.7h.1M163.1 227.6h.1M175 246.4h.1M149.1 229.2h.1M148.7 234.1h.1M168 264.6h.1M171 235.2h.1M152.2 232.9h.1M159.9 242.3h.1M138.9 220.4h.1M147.3 267.5h.1M140.9 233.4h.1M173 240.5h.1M138.4 226.3h.1M144.8 222.6h.1M140.8 257.5h.1M132.1 225h.1M156 230.1h.1M146.3 247.1h.1M155.9 245.2h.1M167.6 248.7h.1M150.7 275.2h.1M149.4 281.8h.1M164.8 236.4h.1M168.6 267.5h.1M158.9 231.1h.1M142.3 242.1h.1M147.5 281.7h.1M156.5 220.6h.1M155.8 282.5h.1M165 255.1h.1M171.1 235h.1M171.2 259.6h.1M143 260.4h.1M149 234.3h.1M163.1 240.6h.1M170.7 248.6h.1M165.9 236.5h.1M156.8 235.8h.1M165.2 266h.1M165.1 271.9h.1M156.3 247.7h.1M152.7 213.4h.1M150.7 275.3h.1M169.8 267.6h.1M157.7 269.8h.1M157.9 245.6h.1M156 230.9h.1M157.8 267.3h.1M160.7 214.9h.1M150.2 231.1h.1M145.2 276.5h.1M151.6 220.3h.1M163.7 271.3h.1M160.5 230.6h.1M144.9 257.8h.1M146.1 226.8h.1M172.9 267.7h.1M145 281.8h.1M141.8 271.8h.1M177.6 249.4h.1M148.3 269h.1M160.3 253.2h.1M152.2 276.9h.1M150.4 222.3h.1M167.7 264.6h.1M156.2 244.6h.1M164.7 245.1h.1M154.8 264.1h.1M162.5 275.9h.1M142.5 258.8h.1M153.3 222h.1M156.2 246h.1M174 244.4h.1M162 220.6h.1M143.1 234.6h.1M156.9 218.1h.1M138 216.7h.1M165.8 264.3h.1M166.9 257.3h.1M174.4 253.2h.1M150.5 231h.1M141.1 239h.1M178.6 250.5h.1M169.5 268.1h.1M142.4 230.9h.1M179.8 254.2h.1M157.5 277.1h.1M165 240.1h.1M172 252.9h.1M160.1 269.4h.1M152.4 214.8h.1M174.8 262.3h.1M173.9 236.9h.1M145.3 217.8h.1M170.1 255.6h.1" stroke="#f0904a" stroke-width="1.6" stroke-linecap="round" fill="none"/>
<path d="M161.5 267.3h.1M166.7 239.7h.1M161.9 245.6h.1M152.9 274.9h.1M157.8 267.5h.1M167.4 248.4h.1" stroke="#eee42a" stroke-width="1.6" stroke-linecap="round" fill="none"/>
<path d="M164 250.8h.1M162.1 229.1h.1M127.5 269.7h.1M164 238h.1M164.4 231.2h.1M144.6 273.6h.1M167.6 235.2h.1M155 263.4h.1M176.5 253.2h.1M152.6 263.6h.1M165.1 261h.1M145.1 239.8h.1M158.5 258.6h.1M153.5 271.2h.1M171.4 255.8h.1M148 260.5h.1M137 274.9h.1M135.4 239.2h.1M157.8 264.5h.1M176.7 259.9h.1M147.2 225.2h.1M164.7 243.3h.1M168.2 270.8h.1M171.1 245.5h.1M150.2 275.1h.1M146.1 247.4h.1M172 272.4h.1M156.6 236.8h.1M161.4 232.2h.1M146.8 270.2h.1M153.3 245.7h.1M163.6 241.5h.1M162 268.6h.1M119.4 255.2h.1M167.4 247.1h.1M164.8 237.5h.1M157.4 255.1h.1M142.4 240h.1M163.8 230.4h.1M161.8 255.8h.1M141.9 255.3h.1M161.1 223.7h.1M157.3 265.3h.1M152.4 260.4h.1M158.8 265.9h.1M143.2 241.2h.1M177.7 244.1h.1M154.6 274.6h.1M157.7 268h.1M155.3 251.9h.1M126.2 227.5h.1M163.5 230.7h.1M165.6 265.4h.1M168.3 275.9h.1M156.6 237.5h.1M142.3 244h.1M164.7 239.1h.1M173 265.1h.1M176.1 243.4h.1M150.1 267.5h.1M151.8 263.4h.1M156.7 275.7h.1M162.4 232.7h.1M160.9 279.4h.1M119.8 255.6h.1M162.9 270.5h.1M166.1 258h.1M147.7 239.4h.1M159.7 267.5h.1M174.6 249.9h.1M150.5 230.9h.1M142 244.6h.1M147.5 231.3h.1M143.8 258.1h.1M175.5 246.9h.1M160.8 264.8h.1M120.4 247.6h.1M157.9 224.4h.1M139.9 215.3h.1M153.4 264.7h.1M168 248.8h.1M148.8 263.8h.1M126.2 263.5h.1M154.2 216.9h.1M167.1 261.6h.1M147.5 244.9h.1M139.2 236.8h.1M165 230.1h.1M136.7 225h.1M149.7 261.1h.1M168.2 238.2h.1M153.1 226.8h.1M156.7 240.4h.1M142 215.3h.1M144.1 238.4h.1M122.6 256.7h.1M150.5 257.4h.1M148.3 274.3h.1M165.5 244.4h.1M117.7 254.9h.1M161.7 239.7h.1M156.2 267.3h.1M168.3 268.5h.1M163.3 262.5h.1M156.8 241.7h.1M157.3 274.9h.1M172.9 264.1h.1M153.9 216.9h.1M175.5 264.7h.1M143.2 255.7h.1M143.5 253.8h.1M122.7 272.4h.1M174.2 234.6h.1M163 217.9h.1M152.1 227.6h.1M174 255.3h.1M160.4 238.6h.1M166.2 258.9h.1M155.7 233.1h.1M143 243h.1M122.7 256.6h.1M167.2 226.2h.1M148.2 272.8h.1M154.4 276.8h.1M150.7 264.4h.1M150.7 259.8h.1M166.4 278.3h.1M162 272.7h.1M166.7 243.3h.1M162.2 238.4h.1M167.8 249.1h.1M153.6 266.9h.1M153.7 272.6h.1M154.4 230h.1M141.6 246h.1M114.9 243.7h.1M142.3 238.3h.1M163 235h.1M166.4 227.1h.1M165.7 261.1h.1M160.2 229h.1M143.6 232.6h.1M139.6 265.5h.1M167.9 231.2h.1M147.4 266h.1M174.4 242.5h.1M156.9 251.6h.1M159.1 270.3h.1M168.6 221.3h.1M150.4 244.1h.1M160.9 276h.1M164.8 256.9h.1M159.1 241.1h.1M150.4 271.3h.1M136.3 266.1h.1M144 257.8h.1M155.1 229.1h.1M153.2 254h.1M152.3 256.4h.1M153.2 223.9h.1M141.8 255.3h.1M153.1 260.4h.1M149.3 272.9h.1M145.3 240.8h.1M175.1 257.2h.1M167.9 239.4h.1M143.9 238.3h.1M160.5 258.1h.1M167 246.1h.1M142 271.1h.1M153.1 213.6h.1M170.1 267.4h.1M135 273.6h.1M170.4 243.2h.1M161.7 271.3h.1M165.6 267.5h.1M168.3 229.2h.1M171.4 245.3h.1M155.1 251.3h.1M124.3 253.6h.1" stroke="#c8c4c8" stroke-width="1.6" stroke-linecap="round" fill="none"/>
<path d="M127.5 231.7h.1M136.3 261.3h.1M117.5 253.4h.1M113.4 250.1h.1M125.1 255.9h.1M129.8 253.1h.1M119.1 247.2h.1M112.2 258.5h.1M139.9 282.3h.1M132.4 225h.1M114.6 265h.1M116.5 254.2h.1M133.3 271h.1M139.4 281.7h.1M115.5 236.1h.1M151.3 279.5h.1M118.2 257h.1M138 234.9h.1M133.4 262.8h.1M137.8 222.4h.1M148.3 219.1h.1M116 249h.1M135.5 268.5h.1M123.3 247.2h.1M132 235.1h.1M126.6 264.4h.1M165.1 250.2h.1M117.4 253.9h.1M169.7 238.1h.1M167.6 225.9h.1M119.8 267.2h.1M154.4 228.9h.1M116.4 266.9h.1M114.8 260h.1M130.8 232.4h.1M130.2 269.1h.1M125.7 241.4h.1M112.2 253.9h.1M119.8 257.6h.1M164.9 265.5h.1M138.4 281.2h.1M116.1 256h.1M112.4 261.4h.1M121 257.8h.1M161.4 221.5h.1M137 256.1h.1M126 270.2h.1M111 261.5h.1M173.8 238.6h.1M134.9 259.2h.1M118.6 260.5h.1M154.8 259.9h.1M127.5 276.1h.1M127.8 265.9h.1M131 230.8h.1M123.5 240.9h.1M111.3 248.1h.1M119 256.5h.1M131.8 270.4h.1M117.5 239.5h.1M129.2 262h.1M120.4 270.1h.1M132 233.2h.1M136 255.6h.1M122.5 261h.1M125.8 229.5h.1M128.2 261.5h.1M121 248.9h.1M113.7 250.6h.1M154.9 256.8h.1M113.6 244.4h.1M118.5 266.3h.1M127.6 272.4h.1M125.7 240.1h.1M127.5 265.3h.1M120.7 238.8h.1M134.3 273.9h.1M114 243h.1M111.2 248.1h.1M111.7 255.4h.1M148.1 232.7h.1M115 255.4h.1M128.9 235.1h.1M132.9 269.7h.1M127.4 269.2h.1M132.2 238.9h.1M118.4 259h.1M153.8 212.5h.1M136 264.5h.1M147.6 223.2h.1M117.1 236.8h.1M148.8 218.3h.1M118.1 268.6h.1M160.6 279.9h.1M130.2 229.2h.1M132.2 266.2h.1M137.4 270.1h.1M122.9 263.2h.1M112.3 248.4h.1M111.9 256.4h.1M115.2 256.5h.1M113.4 246.8h.1M128.3 268.4h.1M128.7 228.8h.1M131.2 224.2h.1M117.7 259.4h.1M136.5 274.4h.1M122 241.2h.1M127.2 275.8h.1M152.5 215.4h.1M121.2 269.6h.1M115.1 261.5h.1M119 246.4h.1M117.3 259.2h.1M136.7 265.7h.1M124.5 233.2h.1M134.6 280.3h.1M131 263.8h.1M122.7 230.6h.1M138.8 260.8h.1M117.5 241.2h.1M126.9 255h.1M122.2 256.3h.1M123.5 256.7h.1M143.2 213.7h.1M170.4 271.6h.1M136 271.3h.1M134.1 264.7h.1M126.1 259.8h.1M168.1 247.2h.1M134.2 263.9h.1M114.8 237.9h.1M128.8 229.6h.1M118.7 261.2h.1M134.8 237h.1M125.1 244.2h.1M129.2 246.4h.1M142.4 213.4h.1M128.6 270.4h.1M123.9 236.3h.1M139.6 221.1h.1M136.7 232.9h.1M122.8 269.1h.1M117.8 252.6h.1M117.4 247.8h.1M140.4 258.8h.1M125.7 258.1h.1M125.2 274.7h.1M124.3 246.3h.1M127.7 258.1h.1M127.8 242.9h.1M122.1 262h.1M133.5 271.6h.1M114.6 258.6h.1M173.1 236.3h.1M114.2 266.7h.1M134 267.3h.1M127.7 240.8h.1M135.5 265.9h.1M134.3 257.2h.1M137.1 278h.1M131.1 234.9h.1M122.4 255.2h.1M130.4 266.3h.1M117.2 252.5h.1M119.2 243.1h.1M115.3 251.5h.1M117 238.8h.1M112.9 259h.1M117.6 249h.1M121.7 231.4h.1M137.3 274.9h.1M130.8 228.6h.1M170.1 261.2h.1M162.5 277.9h.1M136.9 252.6h.1M150.7 242.2h.1M124.9 238h.1M135 273.3h.1M129.7 268.2h.1M173.4 236.5h.1M155.7 278h.1M146.3 225.4h.1M117.7 249.3h.1M129.1 263.6h.1M112.5 259.4h.1M131.7 254.1h.1M119.5 252.5h.1M123 258.6h.1M119.5 260.9h.1M123.4 267.1h.1M119.3 261.1h.1M133.2 271.9h.1M114.6 238.9h.1M125.7 256.3h.1M131.6 274.5h.1M124.4 229.6h.1M122.8 269h.1M112.7 248.6h.1M130.7 239.9h.1M126 233.7h.1M119.6 239.5h.1M130.6 231.6h.1M118.5 240.6h.1M125.4 268.2h.1M111.9 254.8h.1M113.1 259.5h.1M116.5 246.4h.1M131.5 252.6h.1M117 260.2h.1M132.3 246.6h.1M117.7 264.9h.1M178.3 246.6h.1M136.8 258.8h.1M115.2 265.1h.1M127.6 242.1h.1M112.9 254.6h.1M112.2 263.1h.1M123.2 229.4h.1M130.6 259.8h.1M132.9 268.5h.1M149.5 278.4h.1M118.8 246.1h.1M120.6 243h.1M114.6 238.9h.1M137.8 281.6h.1M127.7 266.7h.1M123 235.8h.1M117.5 262.6h.1M127.4 258.8h.1M135 263h.1M115.1 252.6h.1M128.4 226.4h.1M116.5 261.8h.1M142.3 232.2h.1M123.1 247h.1M114.1 265.2h.1M122.9 268.1h.1M130.9 237h.1M124.4 234.9h.1M119.5 258.4h.1M125.6 243.7h.1M131.4 232.3h.1M126.1 259.2h.1M109.9 252.7h.1M118.3 269.8h.1M125.1 234.4h.1M120.6 258.8h.1M117.9 233.7h.1M133 265.6h.1M113.1 247.7h.1" stroke="#262a80" stroke-width="1.6" stroke-linecap="round" fill="none"/>
<path d="M160.3 238.9h.1M114.6 251.4h.1M135.5 244.7h.1M176.4 254.1h.1M119.4 268.3h.1M133.8 270h.1M136.2 225.1h.1M120.2 250.7h.1M117.5 255.6h.1M154.8 283.1h.1M140.7 261h.1M147.3 276.4h.1M145 217.7h.1M158.3 279.9h.1M157.8 218.8h.1M125.1 248.3h.1M134.6 275.8h.1M148.8 216.7h.1M137.2 249.9h.1M114.2 240.7h.1M130.7 250.2h.1M148.9 228.4h.1M133.1 261h.1M170.1 236.8h.1M137.4 243h.1M125.5 228.4h.1M123.5 269.2h.1M132.9 279.7h.1M144.4 233.2h.1M159 276.1h.1M172.8 247h.1M141.5 216.6h.1M130.6 261.2h.1M123.8 245.9h.1M162.3 232.4h.1M148.3 233.7h.1M145.3 225.1h.1M175.6 254.6h.1M149.2 214.3h.1M167.5 234.9h.1M154.1 251.5h.1M138.7 223.7h.1M132.8 235.1h.1M119.7 233.8h.1M145.1 237.2h.1M132.9 255.7h.1M125.3 271.9h.1M173.2 258.9h.1M156.2 276.3h.1M130.3 262.7h.1M139.3 268.4h.1M140.4 227.4h.1M164 267.8h.1M144.8 258.3h.1M135 222.1h.1M114.1 259.2h.1M155.9 279.3h.1M175.6 246.4h.1M138.4 254.9h.1M167.8 276.3h.1M164.6 256.7h.1M147 281.1h.1M168.1 228.5h.1M127 250.8h.1M156.8 272.8h.1M167.3 233.6h.1M156.6 217.4h.1M139.3 276.1h.1M146.6 275.2h.1M173.7 232.2h.1M134.3 231.8h.1M171.6 252.3h.1M119.6 240.6h.1M145.5 277.4h.1M142.6 236.6h.1M112.2 261.2h.1M148.4 266.5h.1M154.1 218.1h.1M178.1 256.7h.1M154.2 221.6h.1M172 240.7h.1M130.6 226h.1M138.6 217h.1M130.8 267.2h.1M143.4 249.7h.1M174.4 263.4h.1M156.4 252.4h.1M130.1 274.4h.1M156.8 253.4h.1M160.8 269.2h.1M129.2 254.6h.1M141.6 270.6h.1M115.9 262.6h.1M126.1 261.4h.1M130.8 232.8h.1M159 263h.1M125.8 227.6h.1M150.1 262.3h.1M162.5 224.5h.1M159 277.6h.1M147.3 261.3h.1M114.4 248.6h.1M152.3 260.9h.1M179.2 252.2h.1M163.4 232h.1M155.5 244.8h.1M130.3 225.6h.1M124 241.6h.1M160.1 245.4h.1M163.1 236.8h.1M173.8 233.8h.1M145.3 262.5h.1M118.4 257.6h.1M150.2 241.1h.1M172.1 268.6h.1M118.8 266h.1M148.5 219.7h.1M152.8 259.3h.1M142.1 264.5h.1M154 238.5h.1M115.2 250.5h.1M156.1 221.3h.1M135.4 235.4h.1M158.8 272.1h.1M141.8 219.6h.1M121.9 267h.1M166.4 252.8h.1M142.2 235.8h.1M169.2 244.3h.1M170.3 261.5h.1M145.5 282.2h.1M143.1 230.9h.1M167.7 234h.1M145 280.9h.1M131.8 269.3h.1M126 266.5h.1M128.3 273.3h.1M118.2 245.9h.1M126.6 256.4h.1M141.3 248.8h.1M164.2 219.1h.1M121.5 257.3h.1M142.9 237.8h.1M117.3 261h.1M151.5 265.5h.1M164.4 222.2h.1M153.3 240h.1M120.8 263.6h.1M148.3 242.5h.1M153.5 247.9h.1M130.6 268.4h.1M125.4 271.7h.1M135.5 233.5h.1M138.4 239.2h.1M120.9 258h.1M122.3 243.4h.1M160.6 216.3h.1M142.1 262.3h.1M148.3 252.3h.1M138.4 256h.1M144 261.1h.1M145.4 219.5h.1M147.3 277.9h.1M121.8 243.3h.1M133.7 264.4h.1M157.9 224.9h.1M131.8 236h.1M153.1 281.3h.1M137 219h.1M132.8 276.6h.1M135.6 231.7h.1M156.4 247h.1M150.2 280.5h.1M167.1 238.1h.1M142.2 268.9h.1M161 235.9h.1M130.1 236h.1M125.2 252.7h.1M125.5 236.1h.1M115.2 240.9h.1M137.7 265.6h.1M121.5 268.3h.1M153.6 217.2h.1M162.9 238.7h.1M130.1 276.3h.1M177 255.7h.1M160.5 281.3h.1M178.3 250.6h.1M157.8 253.4h.1M130.1 235.6h.1M128.6 272.3h.1M120.7 252.6h.1M160.3 219.6h.1M120.2 235.1h.1M118.1 252.2h.1M126.2 260h.1M161.6 245.3h.1M125.1 232.1h.1M158.9 214.2h.1M142.8 265.4h.1M153.6 240.5h.1M179 250.1h.1M128.7 238h.1M150.5 269.3h.1M144.9 272.7h.1M123 246.1h.1M120 268.8h.1M155.2 245.2h.1M144.6 282.1h.1M159.6 229.6h.1M135.2 236.8h.1M136.9 247.5h.1M169.5 221.8h.1M158.5 261.8h.1M147.8 233.2h.1M129.4 263.9h.1M119 264.9h.1M121.9 267.1h.1M124.8 237.7h.1M121.6 230.8h.1M129.2 272.1h.1M121.5 238.6h.1M146 274.5h.1M135.7 229.7h.1M139.8 278.9h.1M113 251.1h.1M130 246.7h.1M163.6 230.4h.1M140 240.2h.1M126.1 260h.1M122.8 269.1h.1M145.6 213.1h.1M170.7 234.7h.1M125.9 262.5h.1M158.1 235.7h.1M111.1 257h.1M154.7 243.9h.1M145.8 244.5h.1M156.3 221.3h.1M127.6 232.1h.1M172.6 255.9h.1M117.6 255.9h.1M131.8 229.8h.1M162.5 220.7h.1M134.1 222h.1M143.5 270.6h.1M162.2 231.9h.1M174.4 265.4h.1M120.5 253.1h.1M146.7 243.2h.1M162.6 219.1h.1M153.2 264.8h.1M148.2 267.7h.1M145.9 219.4h.1M147.3 276.6h.1M115.2 243.6h.1M156.3 278.4h.1M142.2 248.6h.1M157.9 226.2h.1M137.5 267.3h.1M132.8 225.9h.1M140.2 264.9h.1M127.9 274.5h.1M133.6 257.9h.1M151.1 244.7h.1M126.2 236.9h.1M174.3 265h.1M132 258.5h.1M130 256.2h.1M126.6 265.6h.1M116.4 252.7h.1M140.2 257.5h.1M127.2 259.2h.1M133.8 272.3h.1M150.7 243.9h.1M125.4 256.1h.1M133.8 273.3h.1M122.5 268.5h.1M136.5 219.6h.1M115.1 241.7h.1M138.6 255.8h.1M134.5 245.6h.1M173.3 261.4h.1" stroke="#70309c" stroke-width="1.6" stroke-linecap="round" fill="none"/>
<path d="M144.4 278h.1M160.5 234.8h.1M151.4 240.2h.1M148.8 254.6h.1M147.3 279.3h.1M159.9 278.3h.1M175 256.1h.1M143.8 251.8h.1M119.3 268.3h.1M177.1 248.1h.1M145.7 239.9h.1M161.4 221.9h.1M149.2 249.9h.1M121.9 243.9h.1M176.1 265.9h.1M153.3 273.9h.1M168.8 259.9h.1M135 236.7h.1M170 225h.1M173.5 241.4h.1M111.5 257.9h.1M151.7 244.4h.1M166.1 262.6h.1M179.3 258.7h.1M124.9 238.7h.1M143.6 272h.1M145.2 281.9h.1M141 267.2h.1M155.2 273.3h.1M164.1 232.2h.1M159.1 217.7h.1M152.9 250h.1M154.9 261.2h.1M152.8 216.8h.1M171.8 235.6h.1M146 223.9h.1M140.1 220.4h.1M141.7 266.6h.1M131.6 232.1h.1M140.3 278.2h.1M159.4 261.9h.1M143.4 216.6h.1M141.4 249.2h.1M147 220.5h.1M138.8 229.8h.1M161.4 249.7h.1M116.9 244.4h.1M141.2 267.9h.1M169.5 256.1h.1M157.7 254.5h.1M136.5 247.3h.1M169.3 269.9h.1M162.3 274.2h.1M159.5 254h.1M151.8 245.8h.1M164 237.4h.1M138.8 228.1h.1M148.9 234.2h.1M172.5 242h.1M152.3 232.5h.1M151.7 256.3h.1M158.9 242.2h.1M146.2 222.7h.1M161.1 226.8h.1M167.6 275.2h.1M144.7 217.5h.1M153.7 222.5h.1M141.6 235.5h.1M141.4 235.2h.1M138.8 231.9h.1M139.4 229.6h.1M173.5 252.4h.1M151.2 231.9h.1M154 274.9h.1M154.7 212.7h.1M168.3 252.3h.1M163.7 229.9h.1M167.6 271.7h.1M178.6 258.6h.1M160.1 226.5h.1M140.1 241.5h.1M152 276.6h.1M165.3 247.5h.1M151.2 244.1h.1M135.8 249.3h.1M168.1 257h.1M150.1 250.7h.1M156.3 254.4h.1M170.2 237.5h.1M143.1 265.5h.1M149.1 212.4h.1M113.5 248.2h.1M156.3 280.9h.1M167.6 261.8h.1M159.3 221.5h.1M171.8 249.2h.1M153.3 277.7h.1M137.6 235.8h.1M147 265.7h.1M146.8 282.7h.1M152.2 233.4h.1M175.7 244.5h.1M145.7 264.9h.1M151.8 217.6h.1M149.7 271.2h.1M170.3 265.4h.1M160.1 259.7h.1M146.7 280.5h.1M141.7 282.2h.1M158 251.4h.1M177.4 246.2h.1M169.4 275h.1M144.9 265.5h.1M172.7 258.6h.1M146.5 262.1h.1M160.5 269.3h.1M141.2 225.7h.1M139.5 237.5h.1M157.3 220.5h.1M162.9 265.8h.1M145.9 230.3h.1M145.9 221.5h.1M161.8 233.8h.1M156.5 219.5h.1M150.3 269.6h.1M143.9 262.9h.1M126.8 234.2h.1M160.5 273.7h.1M168 231.5h.1M161.1 219.9h.1M129.9 274.8h.1M148.8 252.8h.1M153.4 212.8h.1M168 273.6h.1M154.4 249.9h.1M146.6 262.5h.1M133.6 233.5h.1M160.7 280.5h.1M169.5 244.2h.1M121.8 248.4h.1M116.1 246.6h.1M156.1 232.5h.1M146 275.1h.1M131.2 260.4h.1M167.2 265.1h.1M142.5 230.2h.1M143.9 270.6h.1M125.4 261.9h.1M138.7 216.2h.1M150.4 276.4h.1M152.7 214h.1M110.9 255.2h.1M156.1 268.2h.1M140.2 216.5h.1M161.9 237.7h.1M141 216.8h.1M141.3 273.4h.1M150.7 243.4h.1M168.5 263.4h.1M157.8 247.7h.1M142 283.1h.1M162.9 278.5h.1M124 259.8h.1M176.5 257.6h.1M174 258.2h.1M140.4 280.8h.1M149.2 278.3h.1M148.4 258.7h.1M149.3 222.9h.1M149.8 220.9h.1M154.6 237.5h.1M164.3 278.2h.1M149.7 216.5h.1M152.8 225h.1M155.8 252.8h.1M159.9 275.5h.1M165 264.8h.1M172 231.5h.1M138.2 277.8h.1M146.5 247.8h.1M143.3 255.5h.1M168.9 263.5h.1M140.7 233.4h.1M139 273.2h.1M145.5 231.7h.1M146.2 220.1h.1M174.9 255.4h.1M173 250.5h.1M144.2 217.3h.1M161.4 276.1h.1M152.3 250.8h.1M177 244.6h.1M172.1 239.6h.1M151.5 267.1h.1M169 222.2h.1M143.6 282.6h.1M156 226.7h.1M157.2 248.9h.1M157 246.5h.1M136.2 276.4h.1M140.8 260h.1M159.2 237.3h.1M159.6 268.3h.1M137.3 222.4h.1M149.2 225.2h.1M151.9 215.2h.1M143.9 269.1h.1M162.1 241.5h.1M170.3 271.7h.1M166.4 251.6h.1M171.2 250h.1M156.3 268h.1M161.2 240.3h.1M143.8 220.8h.1M154.2 274.2h.1M164.8 239.6h.1M171.2 253.4h.1M138.1 233.8h.1M146 227.6h.1M139.7 279.6h.1M166.4 227.5h.1M168.7 246.5h.1M157.1 247.8h.1M172.4 268.5h.1M164 263.7h.1M155.2 260.3h.1M145 254.4h.1M145.1 238.3h.1M173 231.9h.1M137.3 255.7h.1M178.1 260.7h.1M155.1 242.4h.1M142.1 274.2h.1M138.2 277.4h.1M142.3 276.3h.1M121.8 258.1h.1M142.5 217.6h.1M141 276.8h.1M134.3 224.4h.1M156.5 243.4h.1" stroke="#c8508a" stroke-width="1.6" stroke-linecap="round" fill="none"/>
<path d="M146.8 229.9h.1M146.3 268h.1M164.5 220h.1M150.2 261h.1M143.6 240.8h.1M144.5 222.6h.1M159.4 278.2h.1M152.4 238.4h.1M155.1 219.6h.1M164.4 261.7h.1M170.1 228.5h.1M142 256.2h.1M152 212.4h.1M145.1 229.7h.1M165.6 244.2h.1M169.7 255.1h.1M167.4 258h.1M161.3 278.6h.1M143.3 251.7h.1M160.8 279.6h.1M132.4 229.2h.1M143.8 267.1h.1M148.7 283.6h.1M146.3 269h.1M163.5 220.9h.1M164.5 267.9h.1M142.2 223.9h.1M168.1 254.6h.1M173.7 242h.1M171.7 250.8h.1M153.2 280.6h.1M175.1 253.7h.1M138.3 228.3h.1M157.4 247.9h.1M150.1 215.1h.1M148.1 254.3h.1M149.3 242.2h.1M145.3 255.7h.1M166.2 261.1h.1M161.9 232.6h.1M151.3 275.1h.1M146.2 231.6h.1M147.2 239.6h.1M167.4 255h.1M151.1 255.2h.1M172.3 251.7h.1M158 248.5h.1M155.3 223.3h.1M161.2 250.3h.1M153.2 231.7h.1M162.3 236.6h.1M139 223h.1M163.7 244.3h.1M174.2 240h.1M173.2 268.9h.1M173 269.3h.1M173 245.5h.1M150.5 254.7h.1M151.1 271.6h.1M158.8 268.3h.1M153.7 260.8h.1M165.8 249.1h.1M136.1 243.1h.1M154.5 250.5h.1M174.8 246.2h.1M162 246.2h.1M139 217.9h.1M142.4 250.4h.1M177.7 247h.1M147.5 251.4h.1M144.7 226.1h.1M159.1 235.5h.1M150.6 212.3h.1M173 259.2h.1M178.4 249.7h.1M163.6 229.7h.1M174.4 258h.1M151.2 254.8h.1M166.4 268.3h.1M151.5 215.4h.1M168.4 220.6h.1M140.7 244.4h.1M155.1 222.7h.1M153.2 257.9h.1M148.3 277.9h.1M157.4 226.9h.1M153.4 259.3h.1M163.9 258.2h.1M175.5 266.9h.1M151.3 236.4h.1M137.6 216.9h.1M149.3 227.2h.1M149.4 240h.1M151.7 266h.1M160.6 256.8h.1M165.6 254.7h.1M170.8 273.4h.1M146.9 273h.1M143.3 278.3h.1M151.1 260.7h.1M162.8 251.2h.1M155 233.3h.1M171.9 259.2h.1M175.8 253.4h.1M149.5 228.9h.1M161.6 226.7h.1M150.8 230.6h.1M161 243.7h.1M160.9 280.1h.1M165.8 256.5h.1M144.8 237.5h.1M158.6 236.7h.1M140.2 240.3h.1M148.9 265.1h.1M166.4 243.5h.1M169 231.9h.1M153.7 258.9h.1M159.4 257.9h.1M138.7 267h.1M175 253.9h.1M150.3 273.4h.1M144 230.7h.1M173.1 241.3h.1M165.4 238.3h.1M164 247.5h.1M147.1 261.3h.1M163.8 254.1h.1M151.4 212.2h.1M150.3 228.2h.1M167.3 262.8h.1M159.1 277.3h.1M152.4 278.4h.1M162.7 243.8h.1M156.7 280.8h.1M146.2 275.5h.1M162.5 263.6h.1M159.3 260.2h.1M146.1 247.1h.1M169.2 257.9h.1M164.2 222.2h.1M165.2 226.3h.1M164.4 231.2h.1M144.9 271.8h.1M142.3 232.3h.1M171.6 244.2h.1M163.2 275.4h.1M149.4 232.1h.1M149.3 253.2h.1M139.2 221.8h.1M160.5 262.4h.1M140.7 221.6h.1M162.1 258h.1M166.2 228.7h.1M166.2 230.9h.1M154.1 232.3h.1M143.1 258.6h.1M147.9 228.9h.1M152.8 222.5h.1M144.3 234.2h.1M146 233.4h.1M139.9 275.3h.1M155.4 214.3h.1M159.9 238.7h.1M168.9 236.3h.1M142.9 221.6h.1M146.3 256.4h.1M161.9 280.8h.1M148 218h.1M176.8 265.6h.1M146.5 245.7h.1M148 249.3h.1M146.6 229.6h.1M164.2 255.6h.1M169.5 233.4h.1M157.2 243.5h.1M161.1 234.4h.1M157 216.2h.1M142.6 227.1h.1M172.7 248.4h.1M154.1 225h.1M156.1 257.3h.1M173 251.3h.1M142.6 260.2h.1M162 271.5h.1M174.6 259.6h.1M138.9 222.7h.1M150.1 262.2h.1M173.9 259.7h.1M151.2 283.9h.1M159.2 272.8h.1M150.4 217.6h.1M144.3 237.3h.1M149.9 224.8h.1M153.3 255.4h.1M139.8 218.2h.1M145.2 244.1h.1M153.3 212.4h.1M152 264.6h.1M144 219.1h.1M150.5 232.5h.1M162.7 271.8h.1M166.2 242.5h.1M158.2 237.1h.1M163.6 265.5h.1M148.4 269.9h.1M150.2 265.4h.1M161 218.5h.1M143.9 223.4h.1M138.7 263.4h.1M168.3 276.6h.1M144.6 280h.1M149.5 280.4h.1M159.6 223h.1M180.2 252.5h.1M144.3 219.5h.1M150.2 218.6h.1M161.3 239h.1M146.8 261.4h.1M153 243.5h.1M153.2 258.1h.1M152.3 248h.1M161.8 277.6h.1M161.2 280.4h.1M144.8 220.6h.1M157.8 271.9h.1M176.7 264.3h.1M173.2 261.6h.1M150.3 244.4h.1M148.3 240h.1M146.6 249.7h.1M173.9 235.7h.1M167.8 270.3h.1M142.2 262.9h.1M148.2 249.5h.1M172.3 261.3h.1M163.5 270.1h.1M152.1 262.2h.1M158 265.7h.1M171.1 267.4h.1M142 236.4h.1M148.2 276.9h.1M143.8 244h.1M155.1 263.5h.1M149.8 231.7h.1M155.2 281h.1M150.6 284h.1M171.9 259.2h.1M150.6 228h.1M162.9 252.7h.1M156.3 213.7h.1M156.1 244.8h.1M152.1 259.6h.1M168.4 246.8h.1M169.5 237.8h.1M147.6 234.1h.1M153.8 258.3h.1M144.4 264.8h.1M153.1 218.9h.1M160 269.8h.1M147.2 236.2h.1M147.4 234.2h.1M164.8 270.8h.1M163.4 243.7h.1M164.1 267.4h.1M163 265.4h.1M154.8 242.3h.1M143.1 240h.1M140.4 255.2h.1M173.3 235.9h.1M165.4 224.3h.1M139.1 231.6h.1M145.8 255.8h.1M146.4 212.7h.1M170.6 263.5h.1M162.5 274.7h.1M178 262.8h.1M173.4 268.3h.1M146.6 275.7h.1M164.6 256.4h.1M144.4 232.6h.1M145 267.4h.1M155.3 271.3h.1M158.1 274.2h.1M152.3 214.2h.1M164.6 265.3h.1M162.5 276.7h.1M157.2 276.2h.1M170.4 259.2h.1M161.5 263.5h.1M153.7 235.7h.1M149.1 249.4h.1M169.8 226.4h.1M165.9 221.2h.1M144.3 264.2h.1M156 242.2h.1M152.1 241.3h.1M174.3 245.4h.1M149.8 282.6h.1M150.2 255.5h.1M152 271.7h.1M154.7 245.6h.1M154.2 266.2h.1M162.9 245.3h.1M139.9 218.2h.1M169.4 231.6h.1" stroke="#f0904a" stroke-width="1.6" stroke-linecap="round" fill="none"/>
<path d="M147.6 252h.1M143.8 252.2h.1M147.1 254.9h.1M156.7 247.1h.1" stroke="#eee42a" stroke-width="1.6" stroke-linecap="round" fill="none"/>
<path d="M121.1 257.2h.1M167 227.5h.1M154.7 259.1h.1M174.8 262.2h.1M176.9 258.6h.1M154.1 239.9h.1M160.2 241.3h.1M163.6 239.2h.1M152.1 255.9h.1M127.7 241.1h.1M165 266.2h.1M159.9 249.3h.1M167.7 260.3h.1M169.7 231.8h.1M155.2 283.3h.1M153.4 247.4h.1M143 219.9h.1M158.6 281.6h.1M136.9 279.1h.1M142.6 236.4h.1M144.8 219.4h.1M157.3 266.3h.1M118.9 250.1h.1M145.8 233.8h.1M158.8 235.9h.1M159.3 263.1h.1M158.6 250.4h.1M145.7 216.8h.1M153.2 263.2h.1M129 258.8h.1M153.7 215.8h.1M139.9 239.1h.1M176.1 261.9h.1M157.3 231.8h.1M152.9 237h.1M150.7 271.9h.1M158.3 264.8h.1M150.6 217.3h.1M151 226.8h.1M115.7 238.3h.1M158.2 253.7h.1M147.9 276.9h.1M154.5 226.1h.1M124 247.8h.1M156.8 232h.1M155.2 230.4h.1M166.1 232.4h.1M149.5 268h.1M152.8 282h.1M148.8 281.2h.1M119.2 238.7h.1M161.2 241.4h.1M148.4 241.1h.1M140.7 262.9h.1M154.4 228.8h.1M130.2 273.7h.1M148.9 243.4h.1M123.9 270.4h.1M162.5 248h.1M160.2 255.2h.1M157.8 266.5h.1M115.9 248.7h.1M146.2 230.6h.1M131.3 238h.1M141.6 226.9h.1M147.1 279.8h.1M159.5 268.7h.1M161 252.9h.1M116.4 240.6h.1M144 237.3h.1M138.8 233.7h.1M151.6 256.3h.1M152.9 265.1h.1M168.2 263.6h.1M130.1 260.2h.1M170.7 223.9h.1M170.1 267.9h.1M172.3 233h.1M166 247.7h.1M159 265.7h.1M161.3 231.5h.1M163 261.1h.1M142.9 240.4h.1M151.6 247.4h.1M167.4 263.4h.1M148.1 268.7h.1M139.2 258.5h.1M172 239.7h.1M147.4 261.1h.1M151.7 226.2h.1M115.5 254.4h.1M153.3 246.6h.1M151.8 227.5h.1M137.3 228.8h.1M166.7 223.9h.1M159.7 270.7h.1M145.2 238.2h.1M162 236.9h.1M161.2 234.2h.1M154.2 258.6h.1M152.4 261.9h.1M144.2 236h.1M151.3 252.6h.1M142.6 254.5h.1M113.1 258h.1M117.7 243.2h.1M170.6 256.6h.1M136 244h.1M159.2 242.3h.1M163.9 259.4h.1M160.4 235.3h.1M163.2 236.3h.1M149.9 255h.1M145 260.9h.1M156.3 264h.1M162.1 270.6h.1M150.3 244.1h.1M171.3 244.1h.1M164.7 278.7h.1M157.8 282.5h.1M141.9 254.4h.1M151.4 267h.1M144.6 250.4h.1M156.8 213.5h.1M156 251h.1M132.2 258.3h.1M146.7 269.9h.1M160.3 225.6h.1M154.4 255.7h.1M160 267.2h.1M162.5 274.1h.1M113.8 255.8h.1M144.9 277.8h.1M154.5 222.9h.1M178.4 247.8h.1M150.3 272.6h.1M158.5 240.8h.1M123.9 259.3h.1M179.4 255.1h.1M166.3 239.3h.1M168 230.4h.1M125.6 254.5h.1M146.9 270.8h.1M146.8 241h.1M152.9 269.3h.1M162 228.7h.1M141.4 217.8h.1M167.8 252.1h.1M161.4 228.6h.1M115.5 237.8h.1M166 221.8h.1M147.1 229.7h.1M146.4 249.2h.1M171.7 233.5h.1M157 241.2h.1M156.8 219.8h.1M154.8 243.5h.1M166.7 233.2h.1M153.6 252.6h.1M152 213.9h.1M145.9 251.6h.1M161.6 252h.1M138.8 222.1h.1M157.4 225.3h.1M157.9 218.7h.1M153.1 262.6h.1M116 239.5h.1M154.4 224.4h.1M153.4 227.5h.1M173.7 234h.1M124.6 259.4h.1M137.7 273.2h.1M125.4 260.7h.1M116 255.4h.1M121.6 231.5h.1M168.4 273.1h.1M166.1 256.8h.1M156.7 272.6h.1M144.7 280.3h.1M147.9 247.8h.1M157.1 223.7h.1M146.4 278.6h.1M138.1 218.1h.1" stroke="#c8c4c8" stroke-width="1.6" stroke-linecap="round" fill="none"/>
<path d="M195.8 254.1h.1M196.6 248.5h.1M225.1 235.5h.1M200.9 252.3h.1M200.8 259.2h.1M215.6 229h.1M202.5 263.6h.1M208.1 236.2h.1M196.9 260.4h.1M215.5 231.5h.1M249.6 233.2h.1M197.1 253.3h.1M200.1 258.6h.1M215.5 252.8h.1M208.7 236.3h.1M203 237.5h.1M201.4 241.9h.1M204.8 236.8h.1M203.4 257.7h.1M211.7 232.9h.1M249.4 241h.1M231.9 225h.1M213.5 248.4h.1M201.8 258.3h.1M203.6 246.5h.1M201.2 263.4h.1M248.2 223.2h.1M203.4 249.1h.1M196.2 250h.1M212 249.5h.1M200.6 240.3h.1M196.7 257.9h.1M200.7 263.6h.1M201.9 244.6h.1M199.1 251.2h.1M202.1 267.1h.1M199.4 264h.1M202.4 246.8h.1M228 246.2h.1M199.6 260h.1M206.2 246.3h.1M198.9 246.9h.1M198.1 264.2h.1M219.4 236.2h.1M214.8 245h.1M196.4 253.7h.1M249.5 234h.1M232.8 246.2h.1M197.6 263.2h.1M201.4 253.5h.1M221.9 240.7h.1M204.9 255.2h.1M207.8 237.6h.1M205.3 236.8h.1M197.8 255.4h.1M216.1 258.6h.1M213.5 232.4h.1M199.2 257.2h.1M203.3 251.1h.1M196.1 251.8h.1M205.3 252.9h.1M232.2 223.4h.1M207.3 239.4h.1M241.9 227.6h.1M207.5 240.2h.1M215.4 256.8h.1M203.2 252.6h.1M208.1 239.7h.1M204.8 240.1h.1M203.3 239.8h.1M203.2 247.4h.1M201.9 256.8h.1M219.2 232.1h.1M200.3 248h.1M197.1 248.6h.1M195.8 260h.1M208.8 236.6h.1M204.5 238.5h.1M223.3 223.2h.1M195.5 258.5h.1M201.9 243.6h.1M214.1 256.7h.1M227.7 233.9h.1M198.8 253h.1M198.4 268.2h.1M215.9 237h.1M202.1 264.3h.1M206.6 243.4h.1M207.6 236.6h.1M202.8 238.3h.1M204.3 237.1h.1M198.4 247.9h.1M199.4 263.1h.1M202.9 256.6h.1M214.2 235.1h.1M237.4 230.3h.1M205.1 242h.1M203 256.9h.1M199.9 258.2h.1M198.4 263.7h.1M199.8 241.6h.1M200.3 248.1h.1" stroke="#262a80" stroke-width="1.6" stroke-linecap="round" fill="none"/>
<path d="M225.6 218.5h.1M220.3 228.8h.1M211.5 241.2h.1M224.3 236.1h.1M219.5 235h.1M212.1 240.3h.1M205.6 246.8h.1M215.1 256.8h.1M233.2 238.8h.1M217.1 240.4h.1M248.9 240.2h.1M239.4 236.7h.1M238.9 221.4h.1M201.5 252.4h.1M205.7 248.4h.1M208.8 239.7h.1M198.1 265.6h.1M242.3 240.7h.1M201.2 248.4h.1M196.6 263.3h.1M219.5 229.5h.1M226.9 243.5h.1M214.2 238.1h.1M197.9 246.6h.1M196.1 254h.1M215.7 258.4h.1M210.8 242.8h.1M220 228.1h.1M228.3 243.3h.1M198.2 248.9h.1M236.9 230.4h.1M200.4 254.7h.1M231.9 236.8h.1M249.7 237.3h.1M221.5 232.1h.1M224.1 228.4h.1M209.8 238.8h.1M255.7 235.7h.1M229.6 235.2h.1M196.6 255.8h.1M204.5 253.7h.1M205.4 245.4h.1M227.6 246h.1M254.8 227.6h.1M205.6 254.9h.1M199.4 261.4h.1M214.8 253.8h.1M201.7 251.9h.1M257.3 234.7h.1M217.5 229.7h.1M230.5 225.9h.1M234.7 231.7h.1M237.5 234.9h.1M211.8 240.2h.1M199.4 254.5h.1M204.8 252.8h.1M205.9 236.2h.1M197.3 260.7h.1M228 244.6h.1M203.9 246.3h.1M196 255.7h.1M202.2 239h.1M202.4 247.3h.1M196.4 262.1h.1M230.6 224.2h.1M225.7 228.2h.1M204.9 253.3h.1M221.9 239.3h.1M236.5 243.8h.1M254.1 237.2h.1M219.7 235.2h.1M215.2 247.8h.1M227.6 234.4h.1M240.3 220.7h.1M216 251.7h.1M245.9 243.1h.1M243.2 227.8h.1M235.8 242.3h.1M232.4 228h.1M236.5 242.3h.1M203.5 242.2h.1M247.7 227.2h.1M211.4 238.9h.1M223.7 239.4h.1M232.4 232.2h.1M242.2 230.2h.1M217.2 237.2h.1M216.4 253.2h.1M216.9 258.7h.1M201.8 253.2h.1M235.4 227.9h.1M233.3 227.4h.1M212.5 254h.1M252.8 239.5h.1M222.8 240.8h.1M202.2 254.3h.1M217.6 251h.1M211.7 232h.1M254 232.3h.1M250.8 227.3h.1M222.8 243.6h.1M214.9 232h.1M241.2 243.3h.1M208.9 233.9h.1M234.4 230.2h.1M215.4 258.8h.1M223.1 227.7h.1M238.4 242.8h.1" stroke="#70309c" stroke-width="1.6" stroke-linecap="round" fill="none"/>
<path d="M242.7 233.4h.1M222.6 242h.1M213.6 250.1h.1M217.1 250.2h.1M246.9 241h.1M214.8 247.2h.1M239.3 240.2h.1M212.4 254.3h.1M233.1 219.4h.1M196.5 249h.1M221.5 242.9h.1M229.8 213.9h.1M228.3 233.2h.1M205.5 242.8h.1M247.7 217.4h.1M251.8 227h.1M228.3 238.3h.1M229.9 236.3h.1M246.5 218.5h.1M227.3 217.5h.1M236.6 217.7h.1M236.8 236.9h.1M212.1 249.2h.1M225.9 243.7h.1M251.4 264.8h.1M216 248.3h.1M253.3 233.2h.1M231.2 219.8h.1M214.4 245.8h.1M234.4 229.4h.1M240.3 219.1h.1M216.4 234.1h.1M211.4 234h.1M255 226.6h.1M212.1 250.1h.1M236.3 231h.1M241.7 238.4h.1M203.1 258.3h.1M253.4 222.7h.1M222.4 224.3h.1M199.9 254.4h.1M213.5 256.9h.1M255.4 228.9h.1M227.3 236.6h.1M215.2 247.2h.1M202.3 265.3h.1M216.1 251.5h.1M233.2 234.9h.1M235 235.2h.1M225.4 226.6h.1M222.4 245.8h.1M245.3 218.6h.1M221.3 235.3h.1M240.7 219.3h.1M254.6 258.9h.1M233.5 236.7h.1M214.6 257.3h.1M224.2 238.1h.1M213.3 245.7h.1M212.1 250.7h.1M213.7 246.4h.1M214.8 247.5h.1M243 233.7h.1M213.3 248.1h.1M225.3 233.4h.1M220.9 229h.1M256.2 265.6h.1M253.5 236.4h.1M247.4 233.1h.1M251.6 233.5h.1M244.8 220.5h.1M244.5 260.9h.1M229.5 237.5h.1" stroke="#c8508a" stroke-width="1.6" stroke-linecap="round" fill="none"/>
<path d="M228.7 244.2h.1M256.7 241.2h.1M247.8 224.6h.1M242.1 216.4h.1M224.8 218.2h.1M256.6 244.4h.1M210.7 233.8h.1M245.2 220h.1M216.1 238.3h.1M226.7 226.1h.1M227.6 226.5h.1M241.8 231.8h.1M250.1 238.3h.1M256.2 233.7h.1M248.3 219.1h.1M252.5 232.7h.1M220.9 233.7h.1M221.9 234h.1M212.2 238h.1M230.1 218.9h.1M231 238.3h.1M233.9 235.9h.1M240.4 217.5h.1M226.8 245.7h.1M226.1 223h.1M245.6 217.4h.1M225.3 225.6h.1M228.7 243.4h.1M240.1 221h.1M242.1 259.3h.1M255.9 238.6h.1M256.7 248.5h.1M245 245.3h.1M225.3 240.7h.1M230.4 227.5h.1M230.6 239.8h.1M227.3 225.5h.1M220 238h.1M234.5 213.1h.1M230.9 225.1h.1M254.4 228.1h.1M248.4 221h.1M223.3 225.6h.1M255.8 232.7h.1M243.2 221.7h.1M254.3 241.2h.1M220.9 225.2h.1M243 237h.1M223.2 239.1h.1M234.7 227.5h.1M225.6 241.7h.1M234.5 228.3h.1M230.7 230.8h.1M246.8 233.3h.1M233 232.2h.1M256.1 264.3h.1M233.8 229.2h.1M234.6 231h.1M229.1 239.1h.1M252.2 231h.1M222.6 235.2h.1M252.9 241.3h.1M230.5 235.6h.1M223 226.9h.1M225.5 233.2h.1M233.7 235.8h.1M230.9 236.6h.1M226.7 231.7h.1M233.7 240h.1M230.7 216.2h.1M233.7 227.1h.1M236.5 244.8h.1M247.1 218.1h.1M245.6 228h.1M229.5 237.6h.1M228.1 226.3h.1M239.6 224.2h.1M241.8 223.7h.1M249.4 227h.1M243.1 225.9h.1M249 232.7h.1M239.3 243.1h.1M227.1 232.4h.1M245.5 234.9h.1M226.3 225.3h.1M250.6 236.6h.1M251.1 243.1h.1M234.5 241h.1" stroke="#f0904a" stroke-width="1.6" stroke-linecap="round" fill="none"/>
<path d="M256.3 245h.1M227 231.2h.1M228.4 241h.1M235.3 218.3h.1M252.9 232.1h.1M237 218.6h.1M232.7 224.1h.1M225 231.7h.1M251.6 244.6h.1M226.8 226.6h.1M249.2 234.9h.1M239.9 244.9h.1M238.4 242.9h.1M224 238h.1M247.1 233.2h.1M238.3 212.2h.1M230.1 238.3h.1M255.9 238h.1M232.4 239.2h.1M233.2 225.1h.1M245.6 232.1h.1M254.5 241.6h.1M240.4 217.4h.1M257.2 265.7h.1M238.3 250.9h.1M241.1 217.7h.1M244.6 223.1h.1M235.1 234.4h.1M223.3 232.6h.1M224.6 245.5h.1M257.8 243.9h.1M236.9 233.3h.1M254.6 232.5h.1M237 214.4h.1M247.9 220.2h.1M251.2 229h.1M240.1 214.1h.1M224.2 236.9h.1M245.4 238.4h.1M247.4 221.2h.1M225.1 235h.1M228.9 220.8h.1M236.8 239.1h.1M251.1 242.5h.1M219.9 236.6h.1M244.4 220h.1M250.4 226.5h.1M245.6 229.6h.1M233.1 227.1h.1M226.6 231.2h.1M247 219.3h.1M248.2 238.5h.1M233 230.9h.1M236.2 217.1h.1M240.9 229.7h.1M254 225.6h.1M229.9 225.6h.1M224.6 238.4h.1M244.5 234.1h.1M247.2 235.5h.1M234.4 231.9h.1M240.7 232.9h.1M224.1 236.7h.1M228 235.4h.1M239.1 229.9h.1M240.3 216.1h.1M248 238.3h.1M247.8 225.8h.1M245.8 219.5h.1M240.7 238.9h.1M248.9 239.6h.1M256.8 242.7h.1M255.8 232.2h.1M223.9 221.4h.1M224.9 224.9h.1M248.8 217.6h.1M230 219.1h.1M255.1 230.6h.1M252.1 235.5h.1M232.5 238.9h.1M244 217.8h.1M256.1 261.4h.1M224.7 241h.1M250.9 231.4h.1M241.4 243.2h.1M238.6 224.8h.1M236.8 216.3h.1M235.2 244.7h.1M254.4 242.8h.1M248.8 222.3h.1M231.9 231h.1M249.2 237.1h.1M226.1 243.4h.1M225.6 242.1h.1M244.4 217.3h.1M251.5 226.6h.1M256.7 241.2h.1M246.8 222.1h.1M245.6 228.9h.1M254.8 239h.1M236.2 224.4h.1M233.3 252.7h.1M225 228.6h.1M233.2 241.1h.1M230.5 242h.1M230.2 231h.1M253.3 241h.1M249.9 231.9h.1M245.2 221.2h.1M221.4 222.7h.1M241 245.9h.1M247.1 221.5h.1M247.5 251.2h.1M240.5 216.9h.1M251.3 234.9h.1M233.3 219.3h.1M222.5 229.1h.1M224.6 246h.1M257.4 251.9h.1M251.9 227.9h.1M223 236.8h.1M245.2 244h.1M257.4 242.1h.1M231.6 223.5h.1M249.1 238.5h.1M250.1 220.1h.1M231.2 244.5h.1M245.7 223.3h.1M253.6 230.4h.1M253.8 237h.1M253 240.6h.1M242.2 222h.1M225.9 217.9h.1M256.6 230.8h.1M223.4 220.5h.1M237.9 215.4h.1M255.2 228h.1M236.7 223.9h.1M232.2 231.9h.1M256.1 238h.1M226.1 232h.1M254.1 233.7h.1M230.2 214.7h.1M237.9 218.6h.1M259 260.4h.1M224.1 239h.1M236.2 222.4h.1M251.7 223.4h.1M240.5 212.9h.1M240.1 243.5h.1M242.2 219.8h.1M242.1 220.6h.1M220.5 228.3h.1M256.4 265.6h.1" stroke="#eee42a" stroke-width="1.6" stroke-linecap="round" fill="none"/>
<path d="M214.7 248.2h.1M245.4 217.3h.1M250.5 221.4h.1M247.2 261.1h.1M225.1 220.4h.1M210.6 240.8h.1M212.9 232.8h.1M215.5 247.1h.1M218 238.9h.1M204 241h.1M233.5 232.6h.1M222.6 220.7h.1M216.9 230.7h.1M215.9 231.2h.1M204 258.3h.1M221 228.9h.1M240.9 215.2h.1M237.2 243h.1M247 234.1h.1M249.8 230.9h.1M233.4 233.2h.1M227.3 232.5h.1M196 261.5h.1M214.6 258.8h.1M252 242.1h.1M222.1 244.5h.1M226.1 245.9h.1M200.9 247.9h.1M219.5 238.3h.1M245.6 244.9h.1M258.9 259.8h.1M199.2 250.8h.1M237.9 229.9h.1M239.2 215h.1M224.2 240h.1M237.2 213.7h.1M215.6 256.5h.1M217.7 228.5h.1M241.1 233.9h.1M239.3 256h.1M209.1 243.6h.1M240.6 227.5h.1" stroke="#c8c4c8" stroke-width="1.6" stroke-linecap="round" fill="none"/>
<path d="M202.9 257.7h.1M205.9 235.4h.1M199.2 252.9h.1M199.4 269.2h.1M247.1 236.4h.1M206.3 235.3h.1M230.6 218.6h.1M219.5 228.6h.1M203.2 244.6h.1M202.4 252.7h.1M202.6 252.6h.1M198.3 260.4h.1M198.9 241h.1M203 265.4h.1M202.6 252h.1M203.8 249.1h.1M196.7 249.5h.1M199.8 258.2h.1M198.7 267.5h.1M198.7 259.8h.1M201.4 255.5h.1M205.1 254h.1M203.9 248.1h.1M201.2 242.9h.1M216.3 249.3h.1M195.4 249.6h.1M197.8 257.4h.1M245.8 242h.1M197 262.1h.1M203.4 251.6h.1M198.1 249.4h.1M215.9 239.6h.1M204.6 259h.1M205.7 242.7h.1M240.3 223.1h.1M208.3 236.3h.1M203.4 237.7h.1M202.1 268.1h.1M224.5 228.8h.1M206.6 241.9h.1M250.8 230h.1M197.7 260.7h.1M207.4 242h.1M202.5 265.3h.1M200.2 252.3h.1M200.2 267.8h.1M205.9 243.7h.1M218.9 242.1h.1M207 247.9h.1M198.7 261h.1M218.4 227.9h.1M201.4 256h.1M239.7 226h.1M200.7 254.3h.1M214.6 239.5h.1M204.7 256.2h.1M213.3 233.9h.1M204.6 237.3h.1M203.4 238.2h.1M208.1 236.1h.1M219.5 239.1h.1M195.2 252h.1M202.5 267.4h.1M200.2 248.8h.1M199.7 250h.1M202 255.9h.1M197.7 261.3h.1M205.1 252.2h.1M201.4 262.2h.1M203.4 252.6h.1M202.1 245.4h.1M205 247h.1M202 268.1h.1M202.9 238.2h.1M209.8 243.2h.1M202.9 263.8h.1M202.9 254.7h.1M199 251.9h.1M208.8 241.1h.1M199.6 254.9h.1M202.9 250.8h.1M197.4 260.8h.1M199.4 241.1h.1M249 226.9h.1" stroke="#262a80" stroke-width="1.6" stroke-linecap="round" fill="none"/>
<path d="M254.3 235.3h.1M200.3 248.4h.1M233.9 228.7h.1M223.7 219.7h.1M234.7 212.6h.1M205.6 242.4h.1M207.7 243.4h.1M208 239.1h.1M224.4 218.8h.1M216 258.1h.1M197.8 250.8h.1M209.6 235.5h.1M235 240h.1M212.2 239h.1M207.8 236.1h.1M239.7 233.9h.1M238.8 213.4h.1M234.3 218.5h.1M213.8 238.2h.1M220.2 224.7h.1M251.5 234.3h.1M259.2 266.3h.1M231.4 214.6h.1M231.5 220.4h.1M194.9 258.4h.1M259 248.7h.1M197.9 267.2h.1M215.7 247.6h.1M196.7 259.7h.1M201 239.9h.1M198.1 250.2h.1M237.3 219.1h.1M204.3 255.5h.1M247.3 228.2h.1M207.2 237.4h.1M208.6 236.5h.1M194.8 258.8h.1M215.7 234.6h.1M215.7 252.1h.1M195.9 249.6h.1M225.9 233.1h.1M222.7 227.1h.1M237.2 215.6h.1M236.5 244.2h.1M214.2 248.5h.1M227.9 229.4h.1M241.5 239.1h.1M221.6 228.3h.1M239.9 244.9h.1M232.6 241.9h.1M223.4 242.9h.1M211.7 236h.1M215.8 236.7h.1M230.8 230.8h.1M241.6 215.5h.1M224.7 238.2h.1M204 243.7h.1M223.5 237h.1M253.1 239.8h.1M231.7 240.9h.1M247.4 218h.1M201.1 242.9h.1M232.8 226h.1M241.7 213.2h.1M214.7 255.1h.1M232.1 240.9h.1M222.3 225.1h.1M229.1 241.9h.1M248.7 234.1h.1M204.4 249h.1M237.4 242.7h.1M207.3 243.6h.1M238.3 222.9h.1M230.6 213.9h.1M228.9 245h.1M202.4 253.3h.1M226.3 223.5h.1M204.6 259.3h.1M218.4 241.2h.1M222.6 229.6h.1M210.7 233h.1M198 267.6h.1M201.3 254.8h.1M224.6 229.9h.1M240.3 243.7h.1M202.1 243.8h.1M225 228.1h.1M240.1 230h.1M226.7 242h.1M202.5 254.3h.1M216 234.1h.1M240.5 238.3h.1M207.2 241h.1M242.2 229.4h.1M256.4 238.3h.1M198.5 266.4h.1M195.2 259h.1M213 238.2h.1M241.7 218.1h.1M251.4 229.7h.1M217.1 235h.1M235.7 234.1h.1M213.7 240.3h.1M245 219.5h.1M226.2 225h.1M220.2 241.6h.1M239.6 214.5h.1M208.2 244.2h.1M200.3 260h.1M247.8 234.8h.1M205.4 245h.1M238.5 220.1h.1M237.3 235.1h.1M199.6 247.2h.1" stroke="#70309c" stroke-width="1.6" stroke-linecap="round" fill="none"/>
<path d="M256.1 234.1h.1M249.1 220h.1M216.4 251.1h.1M200 264.8h.1M248.4 222.1h.1M208.2 239.2h.1M235.7 245.9h.1M240.9 240.3h.1M242.7 213.6h.1M219.6 224h.1M216.7 235.6h.1M217.6 253.6h.1M215.1 249.2h.1M205.2 250.9h.1M212.4 250.3h.1M244.2 225h.1M214.4 248.9h.1M239.7 221.1h.1M230.6 241.1h.1M200.1 255.9h.1M221 239.8h.1M255.9 237.1h.1M225.6 226.6h.1M229.9 243.8h.1M200.4 266.1h.1M247.1 222h.1M245.7 236.5h.1M246.9 224.5h.1M213 248.5h.1M230.6 223.5h.1M240.3 220h.1M252.9 238.4h.1M210.7 238.8h.1M199.9 245.4h.1M242.6 241.4h.1M241.9 215.3h.1M204.7 239.9h.1M215.3 257.3h.1M215.7 259.2h.1M238.4 232.1h.1M227 222.3h.1M227.2 234h.1M253.6 228.5h.1M200.6 262.4h.1M256.5 230.8h.1M220.2 234.1h.1M243.6 236.6h.1M200.5 247.2h.1M215.2 248.9h.1M213.2 258h.1M215.9 254.3h.1M201.9 246.4h.1M223.4 233.6h.1M247.6 230.2h.1M255.2 229h.1M208.4 234.9h.1M253 238.7h.1M213.8 233.2h.1M213.9 230.6h.1M199.5 249.7h.1M221.1 235.5h.1M219.8 236.3h.1M226.1 242.5h.1M215 232.6h.1M242.3 218.5h.1M233.7 220.9h.1M214.3 256.4h.1M252.1 230h.1M233.7 218.8h.1M227.8 235.8h.1M238.9 233.7h.1M212.4 247.9h.1M238.9 219.1h.1M206.2 241.6h.1M211.7 238.2h.1M219.2 231.7h.1M250 220.1h.1M246.4 240.1h.1M212.7 246.3h.1M237.9 225.9h.1M229.1 216.3h.1M244.5 242.1h.1M243.3 222.4h.1M251.9 244.8h.1M259.4 269h.1M215.2 258h.1M228.8 228h.1M248.2 232.3h.1M195.3 249.5h.1M218.5 228.8h.1M233.6 227.2h.1M241.6 224.5h.1M242.8 239.9h.1M243.2 232.9h.1M229.7 235.6h.1" stroke="#c8508a" stroke-width="1.6" stroke-linecap="round" fill="none"/>
<path d="M251.9 237.3h.1M251.6 243.4h.1M252.6 221.9h.1M251.6 220.8h.1M243.7 238.4h.1M250.5 220h.1M214.4 238.8h.1M256.9 233.3h.1M220.2 240.9h.1M252.5 237.6h.1M255.7 237.2h.1M250.8 220.7h.1M242.7 251.2h.1M239.4 239.1h.1M235 221.9h.1M216.9 236h.1M249.8 220.4h.1M242.4 222.3h.1M239.1 241.7h.1M225.4 222.2h.1M217.3 231.4h.1M249.2 218.2h.1M228.2 223.8h.1M249.6 239.7h.1M234 212.9h.1M213.5 232.6h.1M250.8 224.4h.1M250 225.7h.1M221.3 244.7h.1M230.4 238.4h.1M231.2 242.6h.1M236.8 221h.1M246.9 218.2h.1M240 217.4h.1M237.4 232.9h.1M253.3 251.8h.1M210.1 242.8h.1M254.4 230h.1M254.1 231.7h.1M218.9 241h.1M229.7 242.3h.1M236.5 228.2h.1M232.5 221.2h.1M223.8 226.9h.1M241.4 213.5h.1M240.6 220.6h.1M246.3 241.4h.1M234 237.6h.1M227.4 217.7h.1M246.2 219.4h.1M241.5 216.2h.1M227.8 224.2h.1M239.9 235.4h.1M215.9 237.6h.1M244.2 222.6h.1M238 232.7h.1M242.8 225.5h.1M254 261h.1M249 224.4h.1M240.7 215.3h.1M238.4 235.8h.1M215 232.7h.1M220.2 234.9h.1M227.4 220.2h.1M244.1 244.2h.1M253.7 256.9h.1M253.3 232.1h.1M221.1 226.7h.1M251.2 224.1h.1M239.6 241.9h.1M240.1 232.9h.1M231.6 244.8h.1M238.2 240.9h.1M221.6 222.5h.1M250.9 219.3h.1M225.5 224.3h.1M229.3 218.1h.1M220.5 238.4h.1M244.6 242.2h.1M254.2 260.4h.1M241.9 257.6h.1M244.4 239.9h.1M233.4 218.5h.1" stroke="#f0904a" stroke-width="1.6" stroke-linecap="round" fill="none"/>
<path d="M227.9 229.9h.1M246.1 215.6h.1M235.8 235.3h.1M221.1 230h.1M234.2 239.7h.1M239.4 240.9h.1M233 214h.1M236.5 214.3h.1M254.4 241.1h.1M255.9 233.2h.1M242.5 217.6h.1M243.6 217.5h.1M233.4 236.7h.1M245.9 232.5h.1M255.2 236h.1M256.9 238h.1M244.7 229.2h.1M247.2 238h.1M227.8 231.8h.1M225.8 235.9h.1M245.4 215.6h.1M229.7 243.6h.1M242.8 224.9h.1M244.5 216.2h.1M240.9 228.8h.1M255.8 266.3h.1M251.5 229.1h.1M235.2 212.7h.1M239.8 254.8h.1M249.6 239.6h.1M243.9 223.1h.1M244.2 230.7h.1M222.1 222.4h.1M234.8 240.1h.1M228.9 221h.1M238.2 213.8h.1M236.3 222.6h.1M229.4 218.5h.1M244.5 234.7h.1M245.8 231.2h.1M248.6 222.2h.1M222.5 228.5h.1M244.8 216.9h.1M241.4 231.1h.1M257 242.6h.1M244 223.7h.1M241.8 239.5h.1M236.6 228.8h.1M253.3 229.3h.1M256.7 236h.1M234.8 237.6h.1M241.4 223.1h.1M251.9 222.7h.1M231.7 243.2h.1M251.6 234.4h.1M237.9 224.6h.1M239.6 242.7h.1M241 229.8h.1M253.2 238.3h.1M235.2 230.9h.1M232 216.2h.1M243.5 217.8h.1M251.2 225.4h.1M246.5 233.6h.1M247.3 234.3h.1M253.3 241.8h.1M242.2 219.1h.1M228.6 222h.1M254.8 226.5h.1M233 244.8h.1M247.3 236.3h.1M229.9 236.9h.1M253.6 231.4h.1M243.1 239.8h.1M227.3 242.1h.1M223.1 239h.1M227.8 217.3h.1M253.4 244.7h.1M221 232.8h.1M224.1 230.1h.1M238.3 220.7h.1M247.6 238.8h.1M245.2 223.2h.1M238.3 242.7h.1M237.3 224.1h.1M229.4 239.3h.1M232.6 218.3h.1M250.1 240.3h.1M246.5 225.5h.1M229.9 221.6h.1M248 216.8h.1M255.2 229.2h.1M233.4 227.9h.1M241.8 214.6h.1M242.6 237.6h.1M254 235.5h.1M246.5 221.2h.1M233.8 242.9h.1M248.4 235.5h.1M225.6 240.4h.1M229.6 229.2h.1M247.6 230.1h.1M254.3 229.2h.1M229.3 223h.1M246.3 218.4h.1M238 224.9h.1M238.9 231.7h.1M230.5 238.4h.1M245 218.7h.1M248.7 219.9h.1M229.1 216.6h.1M223.5 231.5h.1M245.2 227.7h.1M251.8 244.2h.1M242 225.1h.1M220.1 227.5h.1M222.7 231.4h.1M245.5 217h.1M242.1 249h.1M249.6 225.8h.1M249.3 229.5h.1M228.4 219.4h.1M224.8 237.7h.1M251.6 232.2h.1M239 216.2h.1M226.5 236.9h.1M225.2 220.3h.1M234 229.9h.1M249.4 243.7h.1M242.4 229.3h.1M248.6 238.3h.1M232.6 226.1h.1M233.2 239.1h.1M233.9 245.5h.1M257.7 243.3h.1M245 230.5h.1" stroke="#eee42a" stroke-width="1.6" stroke-linecap="round" fill="none"/>
<path d="M251.8 246h.1M239 216.1h.1M254.9 235.8h.1M212.6 235.9h.1M213 239.6h.1M222.4 234.6h.1M199.7 245.1h.1M225.5 246.7h.1M231.7 235.1h.1M233.8 213.6h.1M248.1 216.3h.1M236.1 231.1h.1M240.9 231h.1M249.9 221.8h.1M248 221.9h.1M234.1 232.2h.1M228.7 218.8h.1M223.9 232.2h.1M228.4 238.7h.1M246.3 228.4h.1M241.4 244.7h.1M241.3 216.1h.1M229.6 246.2h.1M231 214.4h.1M254.2 225h.1M217.1 258.6h.1M231.1 220.7h.1M231.2 231.5h.1M239 235.1h.1M197 249.6h.1M212.2 236.2h.1M220.5 236.7h.1M215.3 247.4h.1M198.1 264.7h.1M227.5 215.1h.1M250.8 258.6h.1M215.2 235.2h.1M232.6 233.9h.1M254.8 234.9h.1M211 239.5h.1M195.6 260.4h.1M238.9 214.5h.1M216.6 232.1h.1M219.9 227.3h.1M252 243.9h.1M211.1 238.4h.1M213.5 233.1h.1M200.3 255.2h.1M256 240.1h.1M245.4 230.5h.1M216.1 247.1h.1M255.9 251.3h.1M251.1 225.9h.1M236.1 218h.1M217.8 238h.1" stroke="#c8c4c8" stroke-width="1.6" stroke-linecap="round" fill="none"/>
<path d="M200.8 259.2h.1M213.2 240.3h.1M199.9 253.3h.1M207.4 247.6h.1M226.9 241.6h.1M198 244.6h.1M202.4 266.4h.1M234.9 214.9h.1M197.2 263h.1M209 242.1h.1M208 237.4h.1M201.1 245.4h.1M197.4 260.4h.1M203.1 265.4h.1M198.6 267.1h.1M236.4 239.5h.1M205.6 254.6h.1M204.9 238.4h.1M206.9 236.4h.1M200.5 239.5h.1M204.3 253.8h.1M197.6 260h.1M203 241.2h.1M201.4 265.5h.1M197.8 259.5h.1M239.1 235.6h.1M196.4 255.4h.1M200 266.7h.1M203.5 238h.1M200.8 261.2h.1M200.5 267.2h.1M202.8 241.3h.1M241 228.9h.1M200 239.8h.1M202.7 258.9h.1M197.3 253.2h.1M200.8 247h.1M232.2 220.9h.1M205.2 258.3h.1M213.9 244.9h.1M204.3 255.7h.1M204.1 252h.1M199.1 267.4h.1M207.5 247.4h.1M199.2 243.5h.1M207.7 241.8h.1M197.8 254h.1M216.8 228.3h.1M245.1 219h.1M204.1 259.5h.1M205.5 252.9h.1M232.1 219.6h.1M215.6 231.7h.1M198.2 256.7h.1M201.8 266.5h.1M203 254.1h.1M200 248.4h.1M205 245.4h.1M218.4 238.5h.1M205.6 250.1h.1M202.6 267.5h.1M227.6 216.2h.1M198.5 266h.1M197.8 256.4h.1M204.6 249.1h.1M217 232.5h.1M198.4 258.6h.1M199.8 259.6h.1M201.8 267.9h.1M250.6 228.9h.1M195.6 256.4h.1M195.3 252.1h.1M211.5 236.7h.1M204.3 254.3h.1M209.7 236.1h.1M208.4 239.4h.1M238.3 225.7h.1M195.3 256h.1M216.5 253.7h.1M252.9 228.8h.1M234.9 219.7h.1M208.1 239.1h.1M196.8 252.7h.1M204.2 239.2h.1M196.7 260.7h.1M214.3 244.8h.1M202.8 265.2h.1M202.8 241h.1M198.1 250.5h.1M218.8 238.7h.1M198.7 253.6h.1M233.4 253.5h.1M206.4 240.9h.1M202.9 266.2h.1M201.6 250.4h.1M198.5 249.5h.1M250.1 240h.1" stroke="#262a80" stroke-width="1.6" stroke-linecap="round" fill="none"/>
<path d="M254.7 236.3h.1M251.3 244.5h.1M232.1 221.8h.1M235.4 243.3h.1M219.5 227.6h.1M214.7 233.4h.1M242.9 231.4h.1M230.2 233.8h.1M236.1 214.5h.1M212.4 233.5h.1M215.9 235.1h.1M200.7 253.2h.1M203.9 256.6h.1M207 249.4h.1M247.3 219.6h.1M205.6 254.8h.1M202.7 248.9h.1M217.4 236.2h.1M214.4 239h.1M214.3 236.4h.1M240.7 226.3h.1M205.3 240.8h.1M228.1 244.9h.1M206.1 249.3h.1M216.9 254.8h.1M198.3 242.7h.1M217.9 227.9h.1M212.5 253.1h.1M214.7 253.9h.1M237.4 218.7h.1M215.1 245.1h.1M230.9 219.9h.1M224.7 233.5h.1M230.3 221.9h.1M217 256.1h.1M213.1 237.2h.1M243.2 215.7h.1M201.1 252.8h.1M204.2 241.4h.1M196.3 252h.1M242.7 223.4h.1M254.3 228.8h.1M198.4 258.2h.1M197.2 249h.1M206.5 235.5h.1M211.7 236.8h.1M217.5 240.6h.1M203.7 238.6h.1M211.6 241.1h.1M206.5 236.6h.1M228.3 226.9h.1M236.5 227.1h.1M251.4 220.5h.1M254.7 230.8h.1M212.2 238.2h.1M196.1 254.2h.1M223.5 236.8h.1M198.5 253.4h.1M226.3 229.3h.1M235.8 217.4h.1M222.9 241h.1M215.6 255.4h.1M203.4 239.2h.1M226.8 246.7h.1M215.4 236.2h.1M252 244.2h.1M211.9 253.3h.1M244 232.2h.1M216.7 252h.1M230.3 236.4h.1M222.2 242h.1M202.9 237.4h.1M204.9 236.8h.1M234.8 240.2h.1M232.7 230.8h.1M217.2 240.1h.1M202.2 260.3h.1M226.1 237.6h.1M213.8 245.2h.1M235 225.8h.1M254.3 231.7h.1M228.5 215.6h.1M210.6 232.5h.1M199.4 244.8h.1M223.5 243.8h.1M229.5 239.9h.1M221.1 231.6h.1M246 217.4h.1M215.3 230.5h.1M215.2 235.7h.1M219.6 239.3h.1M253.1 237.6h.1M225.6 218.8h.1M213.1 239.8h.1M232.4 224.6h.1M200.7 253.2h.1M205.5 243.9h.1M226.7 241.4h.1M229.8 217.7h.1M229 217.1h.1M235.9 241.2h.1M194.4 258.2h.1M213.3 234.6h.1M242.7 219.1h.1M219.8 234.4h.1M241.7 218.1h.1M195 254.7h.1M205.7 247.4h.1M241.2 234.8h.1M200.6 269.7h.1M220.5 239.1h.1M226 240.7h.1M234.1 251.7h.1M201.7 239.9h.1M252.4 232.4h.1M215.2 250.7h.1" stroke="#70309c" stroke-width="1.6" stroke-linecap="round" fill="none"/>
<path d="M242.5 222.9h.1M228.2 246.7h.1M202.8 242.6h.1M229.6 246.2h.1M226.9 217.7h.1M215.3 235.9h.1M223.8 233h.1M248.2 220.6h.1M214.8 258.1h.1M201.2 253.3h.1M245.4 241.1h.1M252.8 242.9h.1M216.7 255.1h.1M233.4 221.4h.1M237.2 230h.1M224.8 241.8h.1M218.9 238.2h.1M256.2 233.5h.1M216 246.7h.1M239.6 221h.1M243.4 221.3h.1M232.1 234.4h.1M251.2 234h.1M244.8 224.3h.1M222.9 229.5h.1M219.5 224.5h.1M213.8 257.4h.1M222.7 230.4h.1M220.5 243.8h.1M234.6 212.4h.1M214.1 246.7h.1M253.2 236.6h.1M203.4 248.1h.1M214.6 251.7h.1M226.5 237.4h.1M221.9 240.8h.1M241 238.3h.1M243.6 237.6h.1M242.8 217.4h.1M214.9 257.9h.1M216.2 252h.1M218.1 228.7h.1M209.8 241.9h.1M229.6 246.6h.1M238.8 214.6h.1M242.5 217.8h.1M237.3 243.9h.1M212 248.9h.1M237.1 220.6h.1M251.9 222.9h.1M223 242.9h.1M241.1 223.5h.1M241 234.9h.1M210 240.9h.1M229.4 235.7h.1M257.7 258.8h.1M211.3 239.6h.1M231.2 235.4h.1M215.4 233.9h.1M224.9 226h.1M211.7 236.4h.1M234.8 213.3h.1M214.7 256.4h.1M237.6 244.5h.1M213.9 250.7h.1M232.9 240.9h.1M214.2 252.2h.1M198.9 253.5h.1M230.6 222.6h.1M214.6 245.5h.1M223.5 220.4h.1M214.8 239.6h.1M230.7 215.6h.1M247 233h.1M236.7 241.2h.1M215.5 238.5h.1M214 252.3h.1M252.4 239.2h.1M223.9 232.5h.1M226.6 244.8h.1M237.4 215.5h.1M229.5 229.1h.1M227.9 246.8h.1M195.9 248.3h.1M237.7 213.6h.1" stroke="#c8508a" stroke-width="1.6" stroke-linecap="round" fill="none"/>
<path d="M223 233.7h.1M238.9 224.1h.1M234.6 240.1h.1M242 244.4h.1M239.9 215.3h.1M219.9 237.7h.1M226.4 243.2h.1M227.4 234.7h.1M251.9 244.6h.1M215.1 236.6h.1M245.6 242.8h.1M222.6 220.9h.1M248.2 237h.1M212.5 234.7h.1M227.5 242.2h.1M220.2 236.3h.1M214.1 239.8h.1M224.9 220.1h.1M223.5 223.5h.1M254.4 242.8h.1M228 218.3h.1M251.2 219.8h.1M245.1 228.1h.1M253.7 232.9h.1M255.8 234.9h.1M240.1 241.9h.1M213.6 239.8h.1M246.9 241.1h.1M225.9 226.9h.1M235.3 255h.1M209.2 241.6h.1M227.3 231.7h.1M221 224.8h.1M248.6 221.6h.1M240.9 231.3h.1M252.5 229.7h.1M227.7 223.7h.1M211 237.3h.1M239.9 229.5h.1M252.1 226.7h.1M233.8 254.2h.1M231.5 220h.1M235.9 219.6h.1M230.6 229.5h.1M245.2 221.9h.1M234.6 223.4h.1M223.3 241.1h.1M234.4 254.9h.1M232.7 238.9h.1M248.6 246.9h.1M258.4 266.5h.1M253.7 258.8h.1M240 231.2h.1M242 223.8h.1M233.3 228.1h.1M233.4 217h.1M256.6 230.8h.1M248.3 232.9h.1M232.5 220.1h.1M235.6 235.2h.1M258.4 263.3h.1M224.5 223.9h.1M252.3 242.5h.1M232.5 226.7h.1M221 240.5h.1M231 216.1h.1M249.6 238.1h.1M245.1 245h.1M229.3 222.3h.1M247.3 239.3h.1M227.7 233.6h.1M227.7 214.5h.1M240.1 230.6h.1M227.3 235.5h.1M232.5 233.3h.1M234.2 251.7h.1M246 229.1h.1M255.2 265.3h.1M257 237.5h.1M246 217.6h.1M240.3 226.3h.1M230.1 224.5h.1" stroke="#f0904a" stroke-width="1.6" stroke-linecap="round" fill="none"/>
<path d="M247.6 239.1h.1M231.5 222.7h.1M251.3 225.5h.1M235.1 229.5h.1M253.1 243.4h.1M257.2 252.3h.1M249.8 233.1h.1M221.2 229.9h.1M236.5 215.9h.1M240.4 228.3h.1M232.4 216h.1M238.8 230.5h.1M221.4 221.3h.1M251.7 224.4h.1M248.7 250.5h.1M220.2 240.3h.1M250.3 223.5h.1M245 243.9h.1M249.4 251h.1M245.6 214.6h.1M225.6 235.6h.1M227.6 243.4h.1M259.8 263.9h.1M237 237.7h.1M254.6 255.8h.1M225.2 239.2h.1M240.3 232.2h.1M256.5 236.2h.1M242.5 239.5h.1M248.3 239.4h.1M222.8 231.5h.1M239.3 226.9h.1M228 236.8h.1M229.5 215.4h.1M249.8 241.6h.1M246 242.7h.1M237.7 219.3h.1M249.3 242.3h.1M231.2 223.3h.1M233.5 242.9h.1M236.6 223.8h.1M250 221.2h.1M223.5 219.6h.1M257.9 255.5h.1M247.2 225.2h.1M233.3 235.1h.1M220.2 233h.1M252 220.7h.1M246.7 243.2h.1M245 239.9h.1M254 229.7h.1M235.1 250.3h.1M243.5 230.4h.1M231 223.3h.1M246.2 252.3h.1M222.4 223.1h.1M239.4 224h.1M235.6 236.3h.1M238.5 232.8h.1M230.4 236.5h.1M234.1 250.2h.1M238 213.5h.1M232.7 216h.1M257.4 234.8h.1M244.7 236.6h.1M221 232.7h.1M249.5 218.3h.1M232.5 224.3h.1M254.1 234.8h.1M248.1 228h.1M256.1 242.2h.1M231.7 228.7h.1M250.8 240.8h.1M234.4 229.4h.1M228 222.8h.1M220.1 243.6h.1M255.5 238.7h.1M234.9 212.6h.1M252.9 235.1h.1M220 238.3h.1M239.5 238.3h.1M240.8 215.7h.1M246.6 244.8h.1M234 221.2h.1M243.9 226.4h.1M253.9 227.6h.1M222.6 237.5h.1M229 229.7h.1M221.5 220.7h.1M220.4 225.8h.1M245.7 223.3h.1M251.8 240.9h.1M256.2 234.3h.1M250.5 260.7h.1M234.3 228.8h.1M236.7 238.2h.1M241 221.7h.1M252.3 267.7h.1M239.9 240.5h.1M240.3 216h.1M226.6 246.2h.1M229.9 225.6h.1M233.3 236.4h.1M255.1 228.8h.1M244.7 215.5h.1M221.4 234h.1M241.1 252.7h.1M234.2 217.7h.1M238.1 232.3h.1M225.2 244.9h.1M250.4 221.4h.1M238.1 231h.1M237.7 222.3h.1M256.5 234.9h.1M251.5 232.2h.1M251.3 230.3h.1M244 224.1h.1M240.8 224.2h.1M241.2 216.8h.1M254.3 225.6h.1M241.3 251.9h.1M234.9 216.5h.1M242 215.8h.1M230.3 218h.1M230.1 226.8h.1M245.9 230.2h.1M255.6 240.3h.1M257 244.3h.1M235.5 243.4h.1M230.4 234.8h.1M252.3 229.8h.1M239.6 222.3h.1M237 216.8h.1M236.7 219.8h.1M233.1 243.4h.1M241.9 238.7h.1M232.1 246.2h.1M221.8 241.9h.1M223.8 220.6h.1M239.6 231.3h.1M253.2 230.6h.1M234.9 224.1h.1M245 216.7h.1M243.1 237.9h.1M254.4 227.4h.1M243.1 229.7h.1M233.1 241.9h.1M239.2 218.8h.1M254.3 238.8h.1M240.9 228.9h.1M245.4 240h.1M235.7 222.6h.1M245 226h.1" stroke="#eee42a" stroke-width="1.6" stroke-linecap="round" fill="none"/>
<path d="M237.1 224.5h.1M246.8 235h.1M225.2 244.6h.1M237 238.3h.1M203.4 257h.1M252.7 236.9h.1M240 232.4h.1M225.5 244h.1M236.5 224.2h.1M249.4 225.8h.1M244.5 224.7h.1M199.8 255.3h.1M241.2 228.2h.1M243.6 225.5h.1M203 262.5h.1M219.2 228.5h.1M235.4 228.6h.1M227.6 233.8h.1M204.6 239.6h.1M239.5 248.2h.1M251.3 244.8h.1M222.4 231.3h.1M250.1 258h.1M219.4 238h.1M214.3 258.4h.1M251.2 232.1h.1M221.5 224.5h.1M238.4 220.8h.1M253 232.9h.1M238.8 214.9h.1M239 214.5h.1M243.7 222.1h.1M234.2 218.4h.1" stroke="#c8c4c8" stroke-width="1.6" stroke-linecap="round" fill="none"/>
<rect x="21.4" y="206.9" width="80.2" height="81.6" fill="none" stroke="#444" stroke-width="1"/>
<line x1="41.4" y1="288.5" x2="41.4" y2="290.5" stroke="#444" stroke-width="0.8"/>
<text x="41.4" y="297.6" font-size="6.8" text-anchor="middle" fill="#2a2a2a">&#8722;4</text>
<line x1="64" y1="288.5" x2="64" y2="290.5" stroke="#444" stroke-width="0.8"/>
<text x="64" y="297.6" font-size="6.8" text-anchor="middle" fill="#2a2a2a">0</text>
<line x1="86.6" y1="288.5" x2="86.6" y2="290.5" stroke="#444" stroke-width="0.8"/>
<text x="86.6" y="297.6" font-size="6.8" text-anchor="middle" fill="#2a2a2a">4</text>
<rect x="105.2" y="206.9" width="81.1" height="81.6" fill="none" stroke="#444" stroke-width="1"/>
<line x1="125.3" y1="288.5" x2="125.3" y2="290.5" stroke="#444" stroke-width="0.8"/>
<text x="125.3" y="297.6" font-size="6.8" text-anchor="middle" fill="#2a2a2a">&#8722;4</text>
<line x1="147.9" y1="288.5" x2="147.9" y2="290.5" stroke="#444" stroke-width="0.8"/>
<text x="147.9" y="297.6" font-size="6.8" text-anchor="middle" fill="#2a2a2a">0</text>
<line x1="170.5" y1="288.5" x2="170.5" y2="290.5" stroke="#444" stroke-width="0.8"/>
<text x="170.5" y="297.6" font-size="6.8" text-anchor="middle" fill="#2a2a2a">4</text>
<rect x="189.5" y="206.9" width="80.4" height="81.6" fill="none" stroke="#444" stroke-width="1"/>
<line x1="209.4" y1="288.5" x2="209.4" y2="290.5" stroke="#444" stroke-width="0.8"/>
<text x="209.4" y="297.6" font-size="6.8" text-anchor="middle" fill="#2a2a2a">&#8722;4</text>
<line x1="232" y1="288.5" x2="232" y2="290.5" stroke="#444" stroke-width="0.8"/>
<text x="232" y="297.6" font-size="6.8" text-anchor="middle" fill="#2a2a2a">0</text>
<line x1="254.6" y1="288.5" x2="254.6" y2="290.5" stroke="#444" stroke-width="0.8"/>
<text x="254.6" y="297.6" font-size="6.8" text-anchor="middle" fill="#2a2a2a">4</text>
<line x1="19.4" y1="286.9" x2="21.4" y2="286.9" stroke="#444" stroke-width="0.8"/>
<text x="18" y="289.2" font-size="6.8" text-anchor="end" fill="#2a2a2a">&#8722;6</text>
<line x1="19.4" y1="268.5" x2="21.4" y2="268.5" stroke="#444" stroke-width="0.8"/>
<text x="18" y="270.9" font-size="6.8" text-anchor="end" fill="#2a2a2a">&#8722;3</text>
<line x1="19.4" y1="250.1" x2="21.4" y2="250.1" stroke="#444" stroke-width="0.8"/>
<text x="18" y="252.5" font-size="6.8" text-anchor="end" fill="#2a2a2a">0</text>
<line x1="19.4" y1="231.7" x2="21.4" y2="231.7" stroke="#444" stroke-width="0.8"/>
<text x="18" y="234.1" font-size="6.8" text-anchor="end" fill="#2a2a2a">3</text>
<line x1="19.4" y1="213.3" x2="21.4" y2="213.3" stroke="#444" stroke-width="0.8"/>
<text x="18" y="215.8" font-size="6.8" text-anchor="end" fill="#2a2a2a">6</text>
<text x="145.5" y="306.3" font-size="8.3" text-anchor="middle" fill="#111">UMAP_1</text>
<text x="7.8" y="247.5" font-size="8.3" text-anchor="middle" fill="#111" transform="rotate(-90 7.8 247.5)">UMAP_2</text>
<circle cx="277.7" cy="218.8" r="2.7" fill="#e9e33a"/>
<text x="284" y="221.1" font-size="6.45" text-anchor="start" fill="#111">Hyperexpanded (100 &lt; X &lt;= 500)</text>
<circle cx="277.7" cy="231.1" r="2.7" fill="#f0923e"/>
<text x="284" y="233.4" font-size="6.45" text-anchor="start" fill="#111">Large (20 &lt; X &lt;= 100)</text>
<circle cx="277.7" cy="243.4" r="2.7" fill="#d04a80"/>
<text x="284" y="245.7" font-size="6.45" text-anchor="start" fill="#111">Medium (5 &lt; X &lt;= 20)</text>
<circle cx="277.7" cy="255.7" r="2.7" fill="#6e2f96"/>
<text x="284" y="258" font-size="6.45" text-anchor="start" fill="#111">Small (1 &lt; X &lt;= 5)</text>
<circle cx="277.7" cy="268" r="2.7" fill="#1c2a68"/>
<text x="284" y="270.3" font-size="6.45" text-anchor="start" fill="#111">Single (0 &lt; X &lt;= 1)</text>
<circle cx="277.7" cy="280.3" r="2.7" fill="#c2c2c2"/>
<text x="284" y="282.6" font-size="6.45" text-anchor="start" fill="#111">No TCR Data</text>
<text x="381.5" y="184.5" font-size="12.8" text-anchor="start" fill="#000" font-weight="bold">E</text>
<path d="M411 300.7C412.4 300.2 416 300.7 419.2 297.8C422.3 294.8 426 288.7 430 283.1C434.1 277.5 439.5 269.7 443.6 264C447.6 258.4 451.9 252.5 454.4 249.4C456.9 246.2 456.8 246 458.5 245C460.2 243.9 462.6 244.2 464.6 242.9C466.6 241.6 468.9 240.1 470.7 237.1C472.5 234 473.6 227.9 475.4 224.4C477.3 221 479.8 217.1 481.5 216.2C483.3 215.3 484.6 216.3 486.2 219.2C487.7 222 489.2 227.9 490.8 233.5C492.3 239.2 493.8 246.1 495.4 252.9C496.9 259.7 498.5 267.8 500 274.3C501.5 280.8 503.2 287.8 504.6 291.9C506 296 507.5 297.5 508.7 298.9C509.8 300.4 510.9 300.4 511.4 300.7Z" fill="#f4f09c" fill-opacity="0.92" stroke="#6a6a40" stroke-width="0.55" stroke-opacity="0.85"/>
<path d="M416.5 299.8L458.5 245" stroke="#6a5a70" stroke-width="0.5"/>
<path d="M402.9 300.7C403.6 300.2 404.9 300.7 407 297.8C409 294.8 412.4 290.4 415.1 283.1C417.8 275.8 420.5 264.5 423.2 253.8C426 243 429 227.9 431.4 218.6C433.7 209.3 435.9 202.4 437.5 198C439 193.7 439.6 192.7 440.6 192.5C441.6 192.2 442.2 192.5 443.6 196.6C445 200.7 447.2 210.5 449.1 217.1C451.1 223.7 453.6 230.8 455.4 236.2C457.2 241.5 457.9 244.4 460 249.1C462 253.7 465.7 261 467.7 264C469.8 267.1 470.3 265.8 472.3 267.6C474.4 269.3 477.1 270.5 480.1 274.3C483.1 278.1 487.4 286.2 490.4 290.1C493.3 294.1 495.7 296.3 497.8 298.1C500 299.8 502.3 300.3 503.2 300.7Z" fill="#8c8ad8" fill-opacity="1" stroke="#444466" stroke-width="0.55" stroke-opacity="0.85"/>
<path d="M402.9 300.7C403.6 300.2 404.9 300.6 407 297.8C409 294.9 412.4 290.9 415.1 283.7C417.8 276.5 420.5 264.8 423.2 254.4C426 243.9 429 228.9 431.4 220.9C433.7 212.9 435.9 209.3 437.5 206.3C439.1 203.2 439.6 202.3 440.9 202.4C442.1 202.5 443.6 204.3 444.9 206.8C446.3 209.4 447.4 213.1 449.1 218C450.9 222.9 453.6 231.2 455.4 236.2C457.2 241.2 457.9 243.7 460 247.9C462 252.2 465.7 258.9 467.7 261.7C469.8 264.5 470.3 263.1 472.3 264.9C474.4 266.8 477.1 268.7 480.1 272.8C483.1 276.9 487.4 285.4 490.4 289.6C493.3 293.7 495.4 295.9 497.8 297.8C500.2 299.6 503.5 300.2 504.6 300.7Z" fill="#9a6aa8" fill-opacity="0.7" stroke="#553344" stroke-width="0.5" stroke-opacity="0.85"/>
<path d="M402.9 300.7C403.6 300.2 404.9 300.6 407 297.8C409 295 412.4 291.1 415.1 284C417.8 276.8 420.5 265.3 423.2 254.9C426 244.6 429 229.6 431.4 222.1C433.7 214.6 435.9 212.3 437.5 209.8C439.1 207.2 439.6 206.7 440.9 206.8C442.1 206.9 443.6 208.4 444.9 210.4C446.3 212.3 447.4 214.4 449.1 218.6C450.9 222.8 453.6 230.9 455.4 235.6C457.2 240.2 457.9 242.3 460 246.4C462 250.5 465.7 257.3 467.7 260.2C469.8 263.2 470.3 262.1 472.3 264C474.4 266 477.1 267.8 480.1 272C483.1 276.1 487.4 284.7 490.4 289C493.3 293.3 495.2 295.8 497.8 297.8C500.4 299.7 504.6 300.2 506 300.7Z" fill="#d08a60" fill-opacity="0.3" stroke="#553322" stroke-width="0.5" stroke-opacity="0.85"/>
<path d="M402.9 300.7C403.6 300.3 404.9 301 407 298.4C409 295.7 412.4 291.8 415.1 284.6C417.8 277.4 420.5 265.4 423.2 255.2C426 245.1 429 230.8 431.4 223.9C433.7 216.9 435.9 215.4 437.5 213.3C439.1 211.2 439.6 211.1 440.9 211.2C442.1 211.4 443.6 212.6 444.9 214.2C446.3 215.8 447.4 217 449.1 220.9C450.9 224.9 453.6 232.9 455.4 237.9C457.2 242.9 457.9 246.1 460 250.8C462 255.5 465.7 263 467.7 266.1C469.8 269.2 470.3 268 472.3 269.6C474.4 271.2 477.1 271.9 480.1 275.5C483.1 279 487.4 287.2 490.4 291C493.3 294.8 495.9 296.7 497.8 298.4C499.7 300 501.2 300.3 501.9 300.7Z" fill="#6c4490" fill-opacity="0.93" stroke="#3a2a40" stroke-width="0.5" stroke-opacity="0.85"/>
<path d="M416.5 299.8L458.5 245" stroke="#8a6aa0" stroke-width="0.45" opacity="0.7"/>
<line x1="398.3" y1="187" x2="398.3" y2="301" stroke="#333" stroke-width="0.7"/>
<line x1="398.3" y1="300.9" x2="516" y2="300.9" stroke="#333" stroke-width="0.5"/>
<line x1="396.6" y1="300.7" x2="398.3" y2="300.7" stroke="#333" stroke-width="0.6"/>
<text x="395" y="302.5" font-size="5.2" text-anchor="end" fill="#333">0</text>
<line x1="396.6" y1="271.4" x2="398.3" y2="271.4" stroke="#333" stroke-width="0.6"/>
<text x="395" y="273.2" font-size="5.2" text-anchor="end" fill="#333">1</text>
<line x1="396.6" y1="242" x2="398.3" y2="242" stroke="#333" stroke-width="0.6"/>
<text x="395" y="243.8" font-size="5.2" text-anchor="end" fill="#333">2</text>
<line x1="396.6" y1="212.7" x2="398.3" y2="212.7" stroke="#333" stroke-width="0.6"/>
<text x="395" y="214.5" font-size="5.2" text-anchor="end" fill="#333">3</text>
<line x1="402.9" y1="301" x2="402.9" y2="302.7" stroke="#333" stroke-width="0.6"/>
<text x="402.9" y="308" font-size="5.2" text-anchor="middle" fill="#333">0.0</text>
<line x1="430" y1="301" x2="430" y2="302.7" stroke="#333" stroke-width="0.6"/>
<text x="430" y="308" font-size="5.2" text-anchor="middle" fill="#333">0.2</text>
<line x1="457.1" y1="301" x2="457.1" y2="302.7" stroke="#333" stroke-width="0.6"/>
<text x="457.1" y="308" font-size="5.2" text-anchor="middle" fill="#333">0.4</text>
<line x1="484.3" y1="301" x2="484.3" y2="302.7" stroke="#333" stroke-width="0.6"/>
<text x="484.3" y="308" font-size="5.2" text-anchor="middle" fill="#333">0.6</text>
<line x1="511.4" y1="301" x2="511.4" y2="302.7" stroke="#333" stroke-width="0.6"/>
<text x="511.4" y="308" font-size="5.2" text-anchor="middle" fill="#333">0.8</text>
<text x="454.5" y="315.3" font-size="5.2" text-anchor="middle" fill="#333">CD8-derived score</text>
<text x="387.5" y="250" font-size="5.2" text-anchor="middle" fill="#333" transform="rotate(-90 387.5 250)">Density</text>
<text x="3.8" y="336.8" font-size="12.8" text-anchor="start" fill="#000" font-weight="bold">F</text>
<text x="83.4" y="333.8" font-size="10.1" text-anchor="middle" fill="#222">Healthy</text>
<path d="M19.5 397.7A68 68 0 0 1 27.4 382.5Q83.4 421 130.6 372.1A68 68 0 0 0 127.1 368.9Q83.4 421 19.5 397.7Z" fill="#dcbcb4" fill-opacity="0.5"/>
<path d="M28 381.5A68 68 0 0 1 37.9 370.5Q83.4 421 88.1 488.8A68 68 0 0 0 90.5 488.6Q83.4 421 28 381.5Z" fill="#dcbcb4" fill-opacity="0.5"/>
<path d="M37.9 370.5A68 68 0 0 1 46.4 364Q83.4 421 61.3 485.3A68 68 0 0 0 65.8 486.7Q83.4 421 37.9 370.5Z" fill="#dcbcb4" fill-opacity="0.5"/>
<path d="M46.4 364A68 68 0 0 1 56.3 358.6Q83.4 421 91.7 488.5A68 68 0 0 0 95.2 488Q83.4 421 46.4 364Z" fill="#dcbcb4" fill-opacity="0.5"/>
<path d="M57.9 358A68 68 0 0 1 66.9 355Q83.4 421 31.3 464.7A68 68 0 0 0 35.3 469.1Q83.4 421 57.9 358Z" fill="#dcbcb4" fill-opacity="0.5"/>
<path d="M66.9 355A68 68 0 0 1 75.1 353.5Q83.4 421 22.3 450.8A68 68 0 0 0 24.5 455Q83.4 421 66.9 355Z" fill="#dcbcb4" fill-opacity="0.45"/>
<path d="M76.3 353.4A68 68 0 0 1 85.8 353Q83.4 421 34.5 468.2A68 68 0 0 0 37.9 471.5Q83.4 421 76.3 353.4Z" fill="#dcbcb4" fill-opacity="0.45"/>
<path d="M85.8 353A68 68 0 0 1 95.2 354Q83.4 421 68.1 487.3A68 68 0 0 0 72.8 488.2Q83.4 421 85.8 353Z" fill="#dcbcb4" fill-opacity="0.45"/>
<path d="M96.4 354.2A68 68 0 0 1 99.3 354.9Q83.4 421 17.1 436.3A68 68 0 0 0 17.7 438.6Q83.4 421 96.4 354.2Z" fill="#dcbcb4" fill-opacity="0.45"/>
<path d="M109.1 358A68 68 0 0 1 114.7 360.6Q83.4 421 16.1 430.5A68 68 0 0 0 16.9 435.1Q83.4 421 109.1 358Z" fill="#d0c0c0" fill-opacity="0.5"/>
<path d="M116 361.3A68 68 0 0 1 126.2 368.2Q83.4 421 15.6 416.3A68 68 0 0 0 15.6 425.7Q83.4 421 116 361.3Z" fill="#dcbcb4" fill-opacity="0.5"/>
<path d="M126.2 368.2A68 68 0 0 1 135 376.7Q83.4 421 23.4 452.9A68 68 0 0 0 27 459Q83.4 421 126.2 368.2Z" fill="#dcbcb4" fill-opacity="0.5"/>
<path d="M15.6 416.3A68 68 0 0 1 16.4 409.2Q83.4 421 149.9 435.1A68 68 0 0 0 150.4 432.8Q83.4 421 15.6 416.3Z" fill="#dcbcb4" fill-opacity="0.45"/>
<path d="M19.5 444.3A68 68 0 0 1 16.1 430.5Q83.4 421 146.4 446.5A68 68 0 0 0 147.3 444.3Q83.4 421 19.5 444.3Z" fill="#dcb8b8" fill-opacity="0.5"/>
<path d="M27.7 460A68 68 0 0 1 20.1 445.9Q83.4 421 133.1 374.6A68 68 0 0 0 131.5 372.9Q83.4 421 27.7 460Z" fill="#dcbcb4" fill-opacity="0.45"/>
<path d="M34.5 468.2A68 68 0 0 1 28.4 461Q83.4 421 52.5 360.4A68 68 0 0 0 49.4 362.1Q83.4 421 34.5 468.2Z" fill="#dcbcb4" fill-opacity="0.45"/>
<path d="M72.8 488.2A68 68 0 0 1 59 484.5Q83.4 421 73.9 353.7A68 68 0 0 0 71.6 354Q83.4 421 72.8 488.2Z" fill="#d0c8c8" fill-opacity="0.55"/>
<path d="M95.2 488A68 68 0 0 1 88.1 488.8Q83.4 421 92.9 353.7A68 68 0 0 0 90.5 353.4Q83.4 421 95.2 488Z" fill="#d0c4c4" fill-opacity="0.5"/>
<path d="M16.1 430.5A68 68 0 0 1 15.4 423.4Q83.4 421 26.4 384A68 68 0 0 0 24.5 387Q83.4 421 16.1 430.5Z" fill="#e0c0c0" fill-opacity="0.45"/>
<path d="M24.8 386.4Q83.4 421 60.3 485M32 376.5Q83.4 421 53.1 481.9M50.2 361.6Q83.4 421 120.2 478.2M17.2 405.7Q83.4 421 29.7 462.8M25.9 384.7Q83.4 421 100.1 486.9M83 353Q83.4 421 69.6 487.6M68.4 354.7Q83.4 421 68.8 487.4M51.3 361Q83.4 421 110.4 483.4M51 361.2Q83.4 421 27.4 459.5M42.3 366.8Q83.4 421 38.3 471.9M54 359.7Q83.4 421 120.4 478.1M61.4 356.7Q83.4 421 54.6 482.6M28 381.5Q83.4 421 123.9 475.6M71 354.1Q83.4 421 69.3 487.5M58 357.9Q83.4 421 26.6 458.4M57.6 358.1Q83.4 421 23.7 453.6M15.8 428.3Q83.4 421 128 369.7M15.6 426.3Q83.4 421 133.2 374.7M16.6 408.3Q83.4 421 94.5 353.9M17.8 438.9Q83.4 421 100.7 355.2M17.4 404.8Q83.4 421 111.7 359.2M15.4 418.7Q83.4 421 105 356.5M15.5 423.7Q83.4 421 109.3 358.1M16 430.1Q83.4 421 118.8 362.9" fill="none" stroke="#c8a8a8" stroke-width="0.55" stroke-opacity="0.8"/>
<path d="M142.1 386.7A68 68 0 0 1 146.1 394.6L114.6 404.6Z" fill="#f0b4ac" fill-opacity="0.9"/>
<path d="M149.8 406.2A68 68 0 0 1 150.4 409.5L112 413Z" fill="#d8c8cc" fill-opacity="0.7"/>
<path d="M124.3 475.3A68 68 0 0 1 115.7 480.8L103 450Z" fill="#ebb0b0" fill-opacity="0.85"/>
<path d="M151.4 422.2A68 68 0 0 1 133.9 466.5Q83.4 421 151.4 422.2Z" fill="#f07078" fill-opacity="0.97"/>
<path d="M56.8 483.6A68 68 0 0 1 37.9 471.5Q83.4 421 56.8 483.6Z" fill="#ee6870" fill-opacity="0.97"/>
<path d="M114.3 481.6A68 68 0 0 1 94.6 488.1Q83.4 421 114.3 481.6Z" fill="#f07a7c" fill-opacity="0.95"/>
<path d="M75.9 350A71.4 71.4 0 0 1 95.8 350.7" fill="none" stroke="#3a78b8" stroke-width="2.2"/>
<path d="M76.1 351.8A69.6 69.6 0 0 1 95.5 352.5" fill="none" stroke="#3a78b8" stroke-width="1.2" stroke-opacity="0.35"/>
<path d="" stroke="#666" stroke-width="0.4"/>
<text x="86.1" y="343.8" font-size="4.7" text-anchor="middle" fill="#111" transform="rotate(2 86.1 343.8)">CTL INF2</text>
<path d="M97 350.9A71.4 71.4 0 0 1 100.1 351.6" fill="none" stroke="#2a8aa8" stroke-width="2.2"/>
<path d="M96.7 352.7A69.6 69.6 0 0 1 99.6 353.3" fill="none" stroke="#2a8aa8" stroke-width="1.2" stroke-opacity="0.35"/>
<path d="M97.3 349.7L97.5 348.4" stroke="#666" stroke-width="0.4"/>
<text x="100.1" y="345.6" font-size="4.7" text-anchor="middle" fill="#111" transform="rotate(12.2 100.1 345.6)">CTL INF3</text>
<path d="M110.4 354.9A71.4 71.4 0 0 1 116.3 357.6" fill="none" stroke="#2e7a38" stroke-width="2.2"/>
<path d="M109.7 356.6A69.6 69.6 0 0 1 115.4 359.2" fill="none" stroke="#2e7a38" stroke-width="1.2" stroke-opacity="0.35"/>
<path d="M110.8 353.8L111.4 352.5" stroke="#666" stroke-width="0.4"/>
<text x="116.4" y="351" font-size="4.7" text-anchor="middle" fill="#111" transform="rotate(24.8 116.4 351)">NK-like1</text>
<path d="M117.6 358.3A71.4 71.4 0 0 1 137.5 374.4" fill="none" stroke="#5aa84a" stroke-width="2.2"/>
<path d="M116.7 359.9A69.6 69.6 0 0 1 136.2 375.6" fill="none" stroke="#5aa84a" stroke-width="1.2" stroke-opacity="0.35"/>
<path d="M118.2 357.3L118.8 356M124.6 361.2L125.4 360.1M130.6 365.9L131.6 364.8M136.1 371.1L137.2 370.2" stroke="#666" stroke-width="0.4"/>
<text x="132.8" y="361.3" font-size="4.7" text-anchor="middle" fill="#111" transform="rotate(39 132.8 361.3)">NK-like2</text>
<path d="M145 385A71.4 71.4 0 0 1 149.2 393.3" fill="none" stroke="#9a8aa0" stroke-width="2.2"/>
<path d="M143.5 385.9A69.6 69.6 0 0 1 147.6 394" fill="none" stroke="#9a8aa0" stroke-width="1.2" stroke-opacity="0.35"/>
<path d="M146.1 384.4L147.3 383.7M149.6 391.1L150.8 390.5" stroke="#666" stroke-width="0.4"/>
<text x="153.7" y="387.3" font-size="4.7" text-anchor="middle" fill="#111" transform="rotate(63.5 153.7 387.3)">MAIT</text>
<path d="M153.1 405.4A71.4 71.4 0 0 1 153.8 409" fill="none" stroke="#e8d840" stroke-width="2.2"/>
<path d="M151.3 405.8A69.6 69.6 0 0 1 152 409.3" fill="none" stroke="#e8d840" stroke-width="1.2" stroke-opacity="0.35"/>
<path d="M154.3 405.2L155.6 404.9" stroke="#666" stroke-width="0.4"/>
<text x="160.5" y="407.2" font-size="4.7" text-anchor="middle" fill="#111" transform="rotate(78.8 160.5 407.2)">Ex</text>
<path d="M154.8 422.2A71.4 71.4 0 0 1 136.5 468.8" fill="none" stroke="#d8862a" stroke-width="2.2"/>
<path d="M153 422.2A69.6 69.6 0 0 1 135.1 467.6" fill="none" stroke="#d8862a" stroke-width="1.2" stroke-opacity="0.35"/>
<path d="M156 422.3L157.4 422.3M155.5 429.8L156.8 430M154.1 437.3L155.5 437.6M152 444.6L153.4 445.1M149.2 451.7L150.5 452.3M145.6 458.4L146.8 459.1M141.4 464.7L142.5 465.5" stroke="#666" stroke-width="0.4"/>
<text x="156.5" y="451.2" font-size="4.7" text-anchor="middle" fill="#111" transform="rotate(111.5 156.5 451.2)">N</text>
<path d="M126.9 477.6A71.4 71.4 0 0 1 117.4 483.8" fill="none" stroke="#7a5a90" stroke-width="2.2"/>
<path d="M125.8 476.2A69.6 69.6 0 0 1 116.5 482.2" fill="none" stroke="#7a5a90" stroke-width="1.2" stroke-opacity="0.35"/>
<path d="M127.6 478.6L128.4 479.7M121.3 482.9L122.1 484.1" stroke="#666" stroke-width="0.4"/>
<text x="126.2" y="488.4" font-size="4.7" text-anchor="middle" fill="#111" transform="rotate(147.1 126.2 488.4)">Mem1</text>
<path d="M116.3 484.4A71.4 71.4 0 0 1 88.4 492.2" fill="none" stroke="#b89ac8" stroke-width="2.2"/>
<path d="M115.4 482.8A69.6 69.6 0 0 1 88.3 490.4" fill="none" stroke="#b89ac8" stroke-width="1.2" stroke-opacity="0.35"/>
<path d="M116.8 485.5L117.5 486.7M109.9 488.6L110.4 489.9M102.7 491L103.1 492.3M95.3 492.6L95.5 494" stroke="#666" stroke-width="0.4"/>
<text x="104.7" y="498.1" font-size="4.7" text-anchor="middle" fill="#111" transform="rotate(164.3 104.7 498.1)">Mem2</text>
<path d="M72.5 491.6A71.4 71.4 0 0 1 57.8 487.7" fill="none" stroke="#c43a4a" stroke-width="2.2"/>
<path d="M72.8 489.8A69.6 69.6 0 0 1 58.5 486" fill="none" stroke="#c43a4a" stroke-width="1.2" stroke-opacity="0.35"/>
<path d="M72.3 492.7L72.1 494.1M64.9 491.2L64.5 492.5M57.6 488.9L57.1 490.2" stroke="#666" stroke-width="0.4"/>
<text x="63.2" y="498.4" font-size="4.7" text-anchor="middle" fill="#111" transform="rotate(194.9 63.2 498.4)">EM1</text>
<path d="M56.7 487.2A71.4 71.4 0 0 1 25.6 463" fill="none" stroke="#d8708a" stroke-width="2.2"/>
<path d="M57.3 485.5A69.6 69.6 0 0 1 27.1 461.9" fill="none" stroke="#d8708a" stroke-width="1.2" stroke-opacity="0.35"/>
<path d="M56.2 488.3L55.7 489.6M49.3 485.1L48.7 486.3M42.8 481.2L42 482.3M36.7 476.6L35.8 477.7M31.2 471.4L30.2 472.4M26.2 465.7L25.1 466.6" stroke="#666" stroke-width="0.4"/>
<text x="35" y="484.3" font-size="4.7" text-anchor="middle" fill="#111" transform="rotate(218 35 484.3)">EM2</text>
<path d="M24.9 462A71.4 71.4 0 0 1 17 447.2" fill="none" stroke="#b04878" stroke-width="2.2"/>
<path d="M26.4 460.9A69.6 69.6 0 0 1 18.6 446.5" fill="none" stroke="#b04878" stroke-width="1.2" stroke-opacity="0.35"/>
<path d="M23.9 462.6L22.8 463.4M19.9 456.2L18.7 456.9M16.6 449.4L15.3 449.9" stroke="#666" stroke-width="0.4"/>
<text x="14.2" y="459.6" font-size="4.7" text-anchor="middle" fill="#111" transform="rotate(241.8 14.2 459.6)">INF1</text>
<path d="M16.4 445.7A71.4 71.4 0 0 1 13.1 408.6" fill="none" stroke="#e0a0c0" stroke-width="2.2"/>
<path d="M18.1 445A69.6 69.6 0 0 1 14.9 408.9" fill="none" stroke="#e0a0c0" stroke-width="1.2" stroke-opacity="0.35"/>
<path d="M15.3 446.1L14 446.6M13 438.8L11.7 439.2M11.5 431.4L10.2 431.6M10.9 423.8L9.5 423.8M11 416.2L9.6 416.1M11.9 408.6L10.5 408.4" stroke="#666" stroke-width="0.4"/>
<text x="5.1" y="429.4" font-size="4.7" text-anchor="middle" fill="#111" transform="rotate(264.9 5.1 429.4)">INF2</text>
<path d="M16.1 397A71.4 71.4 0 0 1 24.6 380.6" fill="none" stroke="#2a5a8c" stroke-width="2.2"/>
<path d="M17.8 397.7A69.6 69.6 0 0 1 26 381.6" fill="none" stroke="#2a5a8c" stroke-width="1.2" stroke-opacity="0.35"/>
<path d="M15 396.6L13.7 396.2M17.9 389.6L16.7 389M21.6 383L20.4 382.2" stroke="#666" stroke-width="0.4"/>
<text x="13.4" y="386.7" font-size="4.7" text-anchor="middle" fill="#111" transform="rotate(297.1 13.4 386.7)">CTL1</text>
<path d="M25.3 379.5A71.4 71.4 0 0 1 54.9 355.5" fill="none" stroke="#78acd4" stroke-width="2.2"/>
<path d="M26.7 380.6A69.6 69.6 0 0 1 55.6 357.2" fill="none" stroke="#78acd4" stroke-width="1.2" stroke-opacity="0.35"/>
<path d="M24.3 378.8L23.2 378M29 372.9L28 372M34.4 367.5L33.4 366.4M40.2 362.6L39.4 361.5M46.6 358.4L45.8 357.2M53.3 354.9L52.7 353.7" stroke="#666" stroke-width="0.4"/>
<text x="33.9" y="361.3" font-size="4.7" text-anchor="middle" fill="#111" transform="rotate(321 33.9 361.3)">CTL2</text>
<path d="M56.1 355A71.4 71.4 0 0 1 75.1 350.1" fill="none" stroke="#58a898" stroke-width="2.2"/>
<path d="M56.8 356.7A69.6 69.6 0 0 1 75.3 351.9" fill="none" stroke="#58a898" stroke-width="1.2" stroke-opacity="0.35"/>
<path d="M55.6 353.9L55.1 352.6M62.8 351.4L62.4 350M70.2 349.6L69.9 348.2" stroke="#666" stroke-width="0.4"/>
<text x="63.6" y="346.3" font-size="4.7" text-anchor="middle" fill="#111" transform="rotate(345.4 63.6 346.3)">CTL INF1</text>
<text x="260.7" y="334.3" font-size="10.1" text-anchor="middle" fill="#222">NewlyDx</text>
<path d="M193.7 409.7A68 68 0 0 1 198.6 393.8Q260.7 421.5 294.7 480.4A68 68 0 0 0 297.7 478.5Q260.7 421.5 193.7 409.7Z" fill="#eca89c" fill-opacity="0.55"/>
<path d="M198.6 393.8A68 68 0 0 1 207.9 378.7Q260.7 421.5 260.7 489.5A68 68 0 0 0 266.6 489.2Q260.7 421.5 198.6 393.8Z" fill="#eca89c" fill-opacity="0.5"/>
<path d="M208.6 377.8A68 68 0 0 1 220.7 366.5Q260.7 421.5 224.7 479.2A68 68 0 0 0 232 483.1Q260.7 421.5 208.6 377.8Z" fill="#eca89c" fill-opacity="0.5"/>
<path d="M220.7 366.5A68 68 0 0 1 235.6 358.3Q260.7 421.5 324.6 444.8A68 68 0 0 0 325.4 442.5Q260.7 421.5 220.7 366.5Z" fill="#eca89c" fill-opacity="0.5"/>
<path d="M236.7 357.9A68 68 0 0 1 247.7 354.7Q260.7 421.5 218.8 475.1A68 68 0 0 0 222.7 477.9Q260.7 421.5 236.7 357.9Z" fill="#eca89c" fill-opacity="0.5"/>
<path d="M247.7 354.7A68 68 0 0 1 258.6 353.5Q260.7 421.5 253.6 489.1A68 68 0 0 0 258.3 489.5Q260.7 421.5 247.7 354.7Z" fill="#eca89c" fill-opacity="0.5"/>
<path d="M260.7 353.5A68 68 0 0 1 271.3 354.3Q260.7 421.5 205 460.5A68 68 0 0 0 208.6 465.2Q260.7 421.5 260.7 353.5Z" fill="#e4b8b0" fill-opacity="0.5"/>
<path d="M272.5 354.5A68 68 0 0 1 275.4 355.1Q260.7 421.5 194.4 436.8A68 68 0 0 0 195 439.1Q260.7 421.5 272.5 354.5Z" fill="#dcbcb4" fill-opacity="0.45"/>
<path d="M288.1 359.3A68 68 0 0 1 296.2 363.5Q260.7 421.5 193.4 431A68 68 0 0 0 194.2 435.6Q260.7 421.5 288.1 359.3Z" fill="#dcbcb4" fill-opacity="0.5"/>
<path d="M297.2 364.1A68 68 0 0 1 306.2 371Q260.7 421.5 192.7 421.5A68 68 0 0 0 193.1 428.6Q260.7 421.5 297.2 364.1Z" fill="#dcbcb4" fill-opacity="0.5"/>
<path d="M306.2 371A68 68 0 0 1 313.4 378.5Q260.7 421.5 200.7 453.4A68 68 0 0 0 204.3 459.5Q260.7 421.5 306.2 371Z" fill="#dcc4c4" fill-opacity="0.5"/>
<path d="M196.8 444.8A68 68 0 0 1 194.7 438Q260.7 421.5 328.2 429.8A68 68 0 0 0 328.4 427.4Q260.7 421.5 196.8 444.8Z" fill="#eca89c" fill-opacity="0.5"/>
<path d="M212.2 469.2A68 68 0 0 1 204.3 459.5Q260.7 421.5 253.6 353.9A68 68 0 0 0 251.2 354.2Q260.7 421.5 212.2 469.2Z" fill="#eca89c" fill-opacity="0.5"/>
<path d="M236.3 485A68 68 0 0 1 222.7 477.9Q260.7 421.5 230.9 360.4A68 68 0 0 0 226.7 362.6Q260.7 421.5 236.3 485Z" fill="#eca89c" fill-opacity="0.5"/>
<path d="M218.8 475.1A68 68 0 0 1 213 470Q260.7 421.5 204.3 383.5A68 68 0 0 0 201.8 387.5Q260.7 421.5 218.8 475.1Z" fill="#eca89c" fill-opacity="0.5"/>
<path d="M271.3 488.7A68 68 0 0 1 248.9 488.5Q260.7 421.5 267.8 353.9A68 68 0 0 0 264.3 353.6Q260.7 421.5 271.3 488.7Z" fill="#e0c0bc" fill-opacity="0.5"/>
<path d="M298.7 477.9A68 68 0 0 1 292.3 481.7Q260.7 421.5 196.8 398.2A68 68 0 0 0 196 400.5Q260.7 421.5 298.7 477.9Z" fill="#dcbcb4" fill-opacity="0.5"/>
<path d="M193.4 431A68 68 0 0 1 192.7 420.1Q260.7 421.5 218.8 367.9A68 68 0 0 0 215.2 371Q260.7 421.5 193.4 431Z" fill="#f0a090" fill-opacity="0.5"/>
<path d="M292.6 481.5A68 68 0 0 1 280.6 486.5Q260.7 421.5 261.9 353.5A68 68 0 0 0 260.7 353.5Q260.7 421.5 292.6 481.5Z" fill="#ddd" fill-opacity="0.0"/>
<path d="M223.4 364.6Q260.7 421.5 203.3 458M231.5 360.1Q260.7 421.5 201.4 454.7M247.2 354.9Q260.7 421.5 197.3 446.1M230.6 360.5Q260.7 421.5 303.3 474.5M247.6 354.8Q260.7 421.5 198.9 449.8M251.7 354.1Q260.7 421.5 244.3 487.5M234.2 358.9Q260.7 421.5 297.3 478.8M244.9 355.4Q260.7 421.5 243.6 487.3M203.5 384.7Q260.7 421.5 314.1 463.6M246.9 354.9Q260.7 421.5 197.4 446.2M195.7 401.5Q260.7 421.5 213.4 470.4M210.8 375.3Q260.7 421.5 304.8 473.3M204 384Q260.7 421.5 217 473.6M248.7 354.6Q260.7 421.5 315.9 461.2M225.8 363.1Q260.7 421.5 315.8 461.3M234.7 358.7Q260.7 421.5 280.6 486.5M249.4 354.4Q260.7 421.5 197.9 447.5M217.4 369.1Q260.7 421.5 196.9 445M204.8 382.7Q260.7 421.5 312.8 465.2M224.6 363.8Q260.7 421.5 317 459.6M199.5 391.9Q260.7 421.5 268.9 489M225.5 363.3Q260.7 421.5 304.1 473.8M200.6 453.3Q260.7 421.5 314.3 379.7M194.8 438.3Q260.7 421.5 318.1 385M195 404.1Q260.7 421.5 286.9 358.8M193.2 429.8Q260.7 421.5 295.9 363.3M192.7 418.9Q260.7 421.5 300.4 366.3M192.7 423.9Q260.7 421.5 301.8 367.3M195.7 401.6Q260.7 421.5 295.1 362.9M193.4 431.5Q260.7 421.5 307.3 371.9M196.1 442.6Q260.7 421.5 281.8 356.9M196.4 399.5Q260.7 421.5 296 363.4" fill="none" stroke="#d09a94" stroke-width="0.55" stroke-opacity="0.8"/>
<path d="M320.1 388.4A68 68 0 0 1 323.1 394.5L291.8 405.4Z" fill="#f0aaa4" fill-opacity="0.9"/>
<path d="M326.8 405.4A68 68 0 0 1 327.7 409.8L295.8 413.5Z" fill="#dcc0c4" fill-opacity="0.7"/>
<path d="M328.7 421.5A68 68 0 0 1 325.4 442.5Q260.7 421.5 328.7 421.5Z" fill="#f07078" fill-opacity="0.97"/>
<path d="M319 456.5A68 68 0 0 1 312.8 465.2Q260.7 421.5 319 456.5Z" fill="#f07078" fill-opacity="0.95"/>
<path d="M310.4 467.9A68 68 0 0 1 298.7 477.9Q260.7 421.5 310.4 467.9Z" fill="#f07078" fill-opacity="0.95"/>
<path d="M279.4 486.9A68 68 0 0 1 271.3 488.7Q260.7 421.5 279.4 486.9Z" fill="#f27a7e" fill-opacity="0.95"/>
<path d="M246.6 488A68 68 0 0 1 236.3 485Q260.7 421.5 246.6 488Z" fill="#ee6a72" fill-opacity="0.97"/>
<path d="M199.6 451.3A68 68 0 0 1 196.4 443.6Q260.7 421.5 199.6 451.3Z" fill="#f07a80" fill-opacity="0.95"/>
<path d="M260.7 350.1A71.4 71.4 0 0 1 271.9 351" fill="none" stroke="#3a78b8" stroke-width="2.2"/>
<path d="M260.7 351.9A69.6 69.6 0 0 1 271.6 352.8" fill="none" stroke="#3a78b8" stroke-width="1.2" stroke-opacity="0.35"/>
<path d="M260.7 348.9L260.7 347.5M268.3 349.3L268.4 347.9" stroke="#666" stroke-width="0.4"/>
<text x="266.9" y="344.5" font-size="4.7" text-anchor="middle" fill="#111" transform="rotate(4.5 266.9 344.5)">CTL INF2</text>
<path d="M273.1 351.2A71.4 71.4 0 0 1 276.2 351.8" fill="none" stroke="#2a8aa8" stroke-width="2.2"/>
<path d="M272.8 353A69.6 69.6 0 0 1 275.8 353.5" fill="none" stroke="#2a8aa8" stroke-width="1.2" stroke-opacity="0.35"/>
<path d="M273.3 350L273.5 348.6" stroke="#666" stroke-width="0.4"/>
<text x="276" y="345.8" font-size="4.7" text-anchor="middle" fill="#111" transform="rotate(11.2 276 345.8)">CTL INF3</text>
<path d="M289.5 356.2A71.4 71.4 0 0 1 298 360.6" fill="none" stroke="#2e7a38" stroke-width="2.2"/>
<path d="M288.8 357.8A69.6 69.6 0 0 1 297.1 362.2" fill="none" stroke="#2e7a38" stroke-width="1.2" stroke-opacity="0.35"/>
<path d="M290 355.1L290.6 353.8M296.8 358.5L297.5 357.3" stroke="#666" stroke-width="0.4"/>
<text x="297.2" y="353.3" font-size="4.7" text-anchor="middle" fill="#111" transform="rotate(27.6 297.2 353.3)">NK-like1</text>
<path d="M299.1 361.3A71.4 71.4 0 0 1 316 376.4" fill="none" stroke="#5aa84a" stroke-width="2.2"/>
<path d="M298.1 362.8A69.6 69.6 0 0 1 314.6 377.5" fill="none" stroke="#5aa84a" stroke-width="1.2" stroke-opacity="0.35"/>
<path d="M299.7 360.3L300.5 359.1M305.9 364.7L306.8 363.6M311.6 369.7L312.6 368.7M316.7 375.3L317.8 374.4" stroke="#666" stroke-width="0.4"/>
<text x="312.9" y="364.2" font-size="4.7" text-anchor="middle" fill="#111" transform="rotate(41.6 312.9 364.2)">NK-like2</text>
<path d="M323.1 386.8A71.4 71.4 0 0 1 326.2 393.1" fill="none" stroke="#9a8aa0" stroke-width="2.2"/>
<path d="M321.5 387.7A69.6 69.6 0 0 1 324.6 393.9" fill="none" stroke="#9a8aa0" stroke-width="1.2" stroke-opacity="0.35"/>
<path d="M324.1 386.2L325.4 385.5" stroke="#666" stroke-width="0.4"/>
<text x="331.2" y="388.1" font-size="4.7" text-anchor="middle" fill="#111" transform="rotate(63.8 331.2 388.1)">MAIT</text>
<path d="M330.1 404.6A71.4 71.4 0 0 1 331 409.2" fill="none" stroke="#e8d840" stroke-width="2.2"/>
<path d="M328.3 405A69.6 69.6 0 0 1 329.3 409.5" fill="none" stroke="#e8d840" stroke-width="1.2" stroke-opacity="0.35"/>
<path d="M331.2 404.3L332.6 404" stroke="#666" stroke-width="0.4"/>
<text x="337.6" y="406.8" font-size="4.7" text-anchor="middle" fill="#111" transform="rotate(78.2 337.6 406.8)">Ex</text>
<path d="M332.1 421.5A71.4 71.4 0 0 1 327.7 446.2" fill="none" stroke="#d8862a" stroke-width="2.2"/>
<path d="M330.3 421.5A69.6 69.6 0 0 1 326 445.5" fill="none" stroke="#d8862a" stroke-width="1.2" stroke-opacity="0.35"/>
<path d="M333.3 421.5L334.7 421.5M332.9 429.1L334.3 429.2M331.7 436.6L333.1 436.9M329.7 443.9L331.1 444.4" stroke="#666" stroke-width="0.4"/>
<text x="338.1" y="436.7" font-size="4.7" text-anchor="middle" fill="#111" transform="rotate(100.1 338.1 436.7)">N</text>
<path d="M322.2 457.8A71.4 71.4 0 0 1 315.2 467.7" fill="none" stroke="#7a5a90" stroke-width="2.2"/>
<path d="M320.6 456.9A69.6 69.6 0 0 1 313.8 466.5" fill="none" stroke="#7a5a90" stroke-width="1.2" stroke-opacity="0.35"/>
<path d="M323.2 458.5L324.4 459.2M319 464.8L320.1 465.6" stroke="#666" stroke-width="0.4"/>
<text x="324.7" y="468.5" font-size="4.7" text-anchor="middle" fill="#111" transform="rotate(125.5 324.7 468.5)">Mem1</text>
<path d="M314.3 468.6A71.4 71.4 0 0 1 293.9 484.7" fill="none" stroke="#b89ac8" stroke-width="2.2"/>
<path d="M313 467.4A69.6 69.6 0 0 1 293.1 483.1" fill="none" stroke="#b89ac8" stroke-width="1.2" stroke-opacity="0.35"/>
<path d="M315.2 469.4L316.3 470.3M309.9 474.9L310.9 475.9M304.1 479.7L304.9 480.8M297.8 483.9L298.5 485.1" stroke="#666" stroke-width="0.4"/>
<text x="309.3" y="484.7" font-size="4.7" text-anchor="middle" fill="#111" transform="rotate(141.8 309.3 484.7)">Mem2</text>
<path d="M281.2 489.9A71.4 71.4 0 0 1 247.9 491.7" fill="none" stroke="#c43a4a" stroke-width="2.2"/>
<path d="M280.7 488.2A69.6 69.6 0 0 1 248.3 490" fill="none" stroke="#c43a4a" stroke-width="1.2" stroke-opacity="0.35"/>
<path d="M281.6 491L282 492.4M274.2 492.8L274.4 494.2M266.6 493.9L266.8 495.3M259.1 494.1L259 495.5M251.5 493.5L251.3 494.9" stroke="#666" stroke-width="0.4"/>
<text x="265.1" y="501.4" font-size="4.7" text-anchor="middle" fill="#111" transform="rotate(176.8 265.1 501.4)">EM1</text>
<path d="M246.7 491.5A71.4 71.4 0 0 1 210.7 472.4" fill="none" stroke="#d8708a" stroke-width="2.2"/>
<path d="M247.1 489.8A69.6 69.6 0 0 1 211.9 471.1" fill="none" stroke="#d8708a" stroke-width="1.2" stroke-opacity="0.35"/>
<path d="M246.5 492.7L246.2 494.1M239.1 490.8L238.7 492.2M232 488.2L231.4 489.5M225.2 484.8L224.5 486M218.7 480.8L217.9 481.9M212.8 476L211.9 477.1" stroke="#666" stroke-width="0.4"/>
<text x="223.9" y="492.4" font-size="4.7" text-anchor="middle" fill="#111" transform="rotate(207.9 223.9 492.4)">EM2</text>
<path d="M209.8 471.5A71.4 71.4 0 0 1 194 447.1" fill="none" stroke="#b04878" stroke-width="2.2"/>
<path d="M211.1 470.3A69.6 69.6 0 0 1 195.7 446.4" fill="none" stroke="#b04878" stroke-width="1.2" stroke-opacity="0.35"/>
<path d="M208.9 472.4L207.9 473.4M203.9 466.7L202.8 467.6M199.5 460.5L198.3 461.3M195.7 453.9L194.5 454.5" stroke="#666" stroke-width="0.4"/>
<text x="194.6" y="465.4" font-size="4.7" text-anchor="middle" fill="#111" transform="rotate(237.2 194.6 465.4)">INF1</text>
<path d="M193.6 445.9A71.4 71.4 0 0 1 189.3 420" fill="none" stroke="#e0a0c0" stroke-width="2.2"/>
<path d="M195.3 445.3A69.6 69.6 0 0 1 191.1 420" fill="none" stroke="#e0a0c0" stroke-width="1.2" stroke-opacity="0.35"/>
<path d="M192.5 446.3L191.2 446.8M190.3 439.1L188.9 439.4M188.8 431.6L187.4 431.8M188.1 424L186.7 424.1" stroke="#666" stroke-width="0.4"/>
<text x="183.2" y="435.7" font-size="4.7" text-anchor="middle" fill="#111" transform="rotate(260.6 183.2 435.7)">INF2</text>
<path d="M190.3 409.5A71.4 71.4 0 0 1 205.2 376.6" fill="none" stroke="#2a5a8c" stroke-width="2.2"/>
<path d="M192.1 409.8A69.6 69.6 0 0 1 206.6 377.7" fill="none" stroke="#2a5a8c" stroke-width="1.2" stroke-opacity="0.35"/>
<path d="M189.1 409.3L187.8 409M190.8 401.9L189.5 401.5M193.2 394.7L191.9 394.1M196.4 387.8L195.2 387.1M200.3 381.2L199.1 380.4" stroke="#666" stroke-width="0.4"/>
<text x="189.1" y="390.5" font-size="4.7" text-anchor="middle" fill="#111" transform="rotate(294.4 189.1 390.5)">CTL1</text>
<path d="M206 375.6A71.4 71.4 0 0 1 234.3 355.2" fill="none" stroke="#78acd4" stroke-width="2.2"/>
<path d="M207.4 376.8A69.6 69.6 0 0 1 235 356.8" fill="none" stroke="#78acd4" stroke-width="1.2" stroke-opacity="0.35"/>
<path d="M205.1 374.8L204 373.9M210.3 369.3L209.3 368.3M216 364.3L215.1 363.2M222.2 359.9L221.5 358.7M228.9 356.2L228.3 355" stroke="#666" stroke-width="0.4"/>
<text x="214.7" y="359.2" font-size="4.7" text-anchor="middle" fill="#111" transform="rotate(324.1 214.7 359.2)">CTL2</text>
<path d="M235.5 354.7A71.4 71.4 0 0 1 258.5 350.1" fill="none" stroke="#58a898" stroke-width="2.2"/>
<path d="M236.1 356.4A69.6 69.6 0 0 1 258.5 351.9" fill="none" stroke="#58a898" stroke-width="1.2" stroke-opacity="0.35"/>
<path d="M235 353.6L234.5 352.3M242.3 351.3L241.9 349.9M249.7 349.7L249.5 348.4M257.3 349L257.2 347.6" stroke="#666" stroke-width="0.4"/>
<text x="245.4" y="345.8" font-size="4.7" text-anchor="middle" fill="#111" transform="rotate(348.8 245.4 345.8)">CTL INF1</text>
<text x="437.4" y="334.8" font-size="10.1" text-anchor="middle" fill="#222">RelRef</text>
<path d="M390.2 373.1A68 68 0 0 1 406 361.7Q437.4 422 465.1 484.1A68 68 0 0 0 471.4 480.9Q437.4 422 390.2 373.1Z" fill="#d0c6c6" fill-opacity="0.55"/>
<path d="M407.1 361.1A68 68 0 0 1 416.4 357.3Q437.4 422 479.3 475.6A68 68 0 0 0 481.1 474.1Q437.4 422 407.1 361.1Z" fill="#d0c6c6" fill-opacity="0.5"/>
<path d="M417.5 357A68 68 0 0 1 433.6 354.1Q437.4 422 375.8 450.7A68 68 0 0 0 378.5 456Q437.4 422 417.5 357Z" fill="#d0c6c6" fill-opacity="0.5"/>
<path d="M435 354A68 68 0 0 1 441 354.1Q437.4 422 372 440.7A68 68 0 0 0 373.5 445.3Q437.4 422 435 354Z" fill="#d0c6c6" fill-opacity="0.5"/>
<path d="M452 355.6A68 68 0 0 1 465.1 359.9Q437.4 422 370.1 431.5A68 68 0 0 0 371.4 438.5Q437.4 422 452 355.6Z" fill="#d0c6c6" fill-opacity="0.5"/>
<path d="M465.1 359.9A68 68 0 0 1 475.4 365.6Q437.4 422 385.3 465.7A68 68 0 0 0 388.5 469.2Q437.4 422 465.1 359.9Z" fill="#d8c4c4" fill-opacity="0.5"/>
<path d="M476.4 366.3A68 68 0 0 1 484.9 373.3Q437.4 422 369.7 416.1A68 68 0 0 0 369.4 422Q437.4 422 476.4 366.3Z" fill="#d0c6c6" fill-opacity="0.5"/>
<path d="M370.1 431.5A68 68 0 0 1 369.4 423.2Q437.4 422 481.1 474.1A68 68 0 0 0 482.9 472.5Q437.4 422 370.1 431.5Z" fill="#d0c6c6" fill-opacity="0.45"/>
<path d="M375.3 449.7A68 68 0 0 1 371.4 438.5Q437.4 422 464 359.4A68 68 0 0 0 460.7 358.1Q437.4 422 375.3 449.7Z" fill="#d0c6c6" fill-opacity="0.5"/>
<path d="M371.4 438.5A68 68 0 0 1 370.1 431.5Q437.4 422 423.3 355.5A68 68 0 0 0 419.8 356.3Q437.4 422 371.4 438.5Z" fill="#d0c6c6" fill-opacity="0.45"/>
<path d="M381 460A68 68 0 0 1 375.8 450.7Q437.4 422 474.4 365A68 68 0 0 0 471.4 363.1Q437.4 422 381 460Z" fill="#d0c6c6" fill-opacity="0.5"/>
<path d="M388.5 469.2A68 68 0 0 1 381 460Q437.4 422 402.4 363.7A68 68 0 0 0 398.4 366.3Q437.4 422 388.5 469.2Z" fill="#d0c6c6" fill-opacity="0.45"/>
<path d="M442.1 489.8A68 68 0 0 1 436.2 490Q437.4 422 438.6 354A68 68 0 0 0 437.4 354Q437.4 422 442.1 489.8Z" fill="#d0c6c6" fill-opacity="0.45"/>
<path d="M399.5 365.5Q437.4 422 488.4 466.9M390.3 373Q437.4 422 414.6 486.1M372.2 402.7Q437.4 422 409.9 484.2M405.9 361.7Q437.4 422 483.6 471.9M405.5 361.9Q437.4 422 430.4 489.6M409.7 359.9Q437.4 422 446.5 489.4M412 358.9Q437.4 422 395 475.2M372.3 402.5Q437.4 422 483.5 471.9M409.4 360Q437.4 422 375.5 450.1M380.9 384.1Q437.4 422 431.8 489.8M402.8 363.4Q437.4 422 451.1 488.6M387.1 376.2Q437.4 422 452.1 488.4M387.4 375.9Q437.4 422 412.5 485.3M383.5 380.6Q437.4 422 443 489.8M417.4 357Q437.4 422 486.9 468.6M401.1 364.5Q437.4 422 395.3 475.4M371.6 439Q437.4 422 462.5 358.8M370.5 410Q437.4 422 463.9 359.4M373.8 446Q437.4 422 478.9 368.2M369.6 416.2Q437.4 422 452.3 355.6M371.4 438.3Q437.4 422 471.4 363.1M370.8 408.2Q437.4 422 479.2 368.3M371.1 407Q437.4 422 458.1 357.2M371.2 437.5Q437.4 422 492.3 381.8M371.5 405.3Q437.4 422 480 369M373 443.9Q437.4 422 453.9 356" fill="none" stroke="#bcb0b0" stroke-width="0.55" stroke-opacity="0.8"/>
<path d="M493.1 383A68 68 0 0 1 499.4 394.1L466 402.9Z" fill="#e4bcb4" fill-opacity="0.85"/>
<path d="M503.7 406.7A68 68 0 0 1 504.4 410.2L472.6 411.9Z" fill="#d4cad4" fill-opacity="0.7"/>
<path d="M373.5 398.7A68 68 0 0 1 390.2 373.1Q437.4 422 373.5 398.7Z" fill="#f4b2a2" fill-opacity="0.95"/>
<path d="M505.4 423.2A68 68 0 0 1 482.9 472.5Q437.4 422 505.4 423.2Z" fill="#f07078" fill-opacity="0.97"/>
<path d="M423.3 488.5A68 68 0 0 1 388.5 469.2Q437.4 422 423.3 488.5Z" fill="#f2908a" fill-opacity="0.97"/>
<path d="M466.1 483.6A68 68 0 0 1 442.1 489.8Q437.4 422 466.1 483.6Z" fill="#f4b0a6" fill-opacity="0.95"/>
<path d="M434.9 350.6A71.4 71.4 0 0 1 441.1 350.7" fill="none" stroke="#2a8aa8" stroke-width="2.2"/>
<path d="M435 352.4A69.6 69.6 0 0 1 441 352.5" fill="none" stroke="#2a8aa8" stroke-width="1.2" stroke-opacity="0.35"/>
<path d="" stroke="#666" stroke-width="0.4"/>
<text x="438.1" y="344.8" font-size="4.7" text-anchor="middle" fill="#111" transform="rotate(0.5 438.1 344.8)">CTL INF3</text>
<path d="M452.7 352.3A71.4 71.4 0 0 1 477.3 362.8" fill="none" stroke="#2e8a38" stroke-width="2.2"/>
<path d="M452.3 354A69.6 69.6 0 0 1 476.3 364.3" fill="none" stroke="#2e8a38" stroke-width="1.2" stroke-opacity="0.35"/>
<path d="M453 351.1L453.3 349.7M460.3 353.1L460.8 351.8M467.4 355.9L468 354.6M474.1 359.4L474.8 358.2" stroke="#666" stroke-width="0.4"/>
<text x="468.4" y="351.2" font-size="4.7" text-anchor="middle" fill="#111" transform="rotate(23.2 468.4 351.2)">NK-like1</text>
<path d="M478.4 363.5A71.4 71.4 0 0 1 487.3 370.9" fill="none" stroke="#6ab85a" stroke-width="2.2"/>
<path d="M477.3 365A69.6 69.6 0 0 1 486 372.2" fill="none" stroke="#6ab85a" stroke-width="1.2" stroke-opacity="0.35"/>
<path d="M479 362.5L479.8 361.4M485 367.2L485.9 366.2" stroke="#666" stroke-width="0.4"/>
<text x="487.6" y="362.9" font-size="4.7" text-anchor="middle" fill="#111" transform="rotate(39.6 487.6 362.9)">NK-like2</text>
<path d="M495.9 381A71.4 71.4 0 0 1 502.5 392.7" fill="none" stroke="#8a7a90" stroke-width="2.2"/>
<path d="M494.4 382.1A69.6 69.6 0 0 1 500.9 393.5" fill="none" stroke="#8a7a90" stroke-width="1.2" stroke-opacity="0.35"/>
<path d="M496.9 380.4L498 379.6M500.9 386.8L502.1 386.1" stroke="#666" stroke-width="0.4"/>
<text x="505.7" y="384.6" font-size="4.7" text-anchor="middle" fill="#111" transform="rotate(60.4 505.7 384.6)">MAIT</text>
<path d="M507 405.9A71.4 71.4 0 0 1 507.7 409.6" fill="none" stroke="#e8d840" stroke-width="2.2"/>
<path d="M505.2 406.3A69.6 69.6 0 0 1 505.9 409.9" fill="none" stroke="#e8d840" stroke-width="1.2" stroke-opacity="0.35"/>
<path d="M508.1 405.7L509.5 405.4" stroke="#666" stroke-width="0.4"/>
<text x="514.4" y="407.7" font-size="4.7" text-anchor="middle" fill="#111" transform="rotate(78.5 514.4 407.7)">Ex</text>
<path d="M508.8 423.1A71.4 71.4 0 0 1 480.8 478.7" fill="none" stroke="#d8862a" stroke-width="2.2"/>
<path d="M507 423.1A69.6 69.6 0 0 1 479.7 477.3" fill="none" stroke="#d8862a" stroke-width="1.2" stroke-opacity="0.35"/>
<path d="M510 423.1L511.4 423.2M509.5 430.7L510.9 430.9M508.2 438.2L509.5 438.5M506.1 445.5L507.4 446M503.3 452.6L504.5 453.2M499.7 459.3L500.9 460M495.5 465.6L496.6 466.4M490.6 471.4L491.6 472.4M485.1 476.7L486 477.8" stroke="#666" stroke-width="0.4"/>
<text x="507.6" y="458.8" font-size="4.7" text-anchor="middle" fill="#111" transform="rotate(116.8 507.6 458.8)">N</text>
<path d="M467.6 486.7A71.4 71.4 0 0 1 439.9 493.4" fill="none" stroke="#8a6a98" stroke-width="2.2"/>
<path d="M466.8 485.1A69.6 69.6 0 0 1 439.8 491.6" fill="none" stroke="#8a6a98" stroke-width="1.2" stroke-opacity="0.35"/>
<path d="M468.1 487.8L468.7 489.1M461 490.6L461.5 492M453.7 492.7L454 494.1M446.2 494.1L446.4 495.4" stroke="#666" stroke-width="0.4"/>
<text x="455.7" y="499.8" font-size="4.7" text-anchor="middle" fill="#111" transform="rotate(166.5 455.7 499.8)">Mem1</text>
<path d="M438.6 493.4A71.4 71.4 0 0 1 436.2 493.4" fill="none" stroke="#b89ac8" stroke-width="2.2"/>
<path d="M438.6 491.6A69.6 69.6 0 0 1 436.2 491.6" fill="none" stroke="#b89ac8" stroke-width="1.2" stroke-opacity="0.35"/>
<path d="M438.7 494.6L438.7 496" stroke="#666" stroke-width="0.4"/>
<text x="437.4" y="502" font-size="4.7" text-anchor="middle" fill="#111" transform="rotate(180 437.4 502)">Mem2</text>
<path d="M423.3 492A71.4 71.4 0 0 1 372.5 451.8" fill="none" stroke="#c43a4a" stroke-width="2.2"/>
<path d="M423.6 490.2A69.6 69.6 0 0 1 374.2 451.1" fill="none" stroke="#c43a4a" stroke-width="1.2" stroke-opacity="0.35"/>
<path d="M423.1 493.2L422.8 494.5M415.7 491.3L415.3 492.6M408.6 488.6L408 489.9M401.8 485.3L401.1 486.5M395.3 481.2L394.5 482.3M389.4 476.5L388.5 477.5M384 471.1L382.9 472.1M379.1 465.3L378 466.1M374.9 459L373.7 459.7" stroke="#666" stroke-width="0.4"/>
<text x="388.6" y="485" font-size="4.7" text-anchor="middle" fill="#111" transform="rotate(218.4 388.6 485)">EM1</text>
<path d="M372.2 451A71.4 71.4 0 0 1 366 423.2" fill="none" stroke="#b04878" stroke-width="2.2"/>
<path d="M373.8 450.3A69.6 69.6 0 0 1 367.8 423.2" fill="none" stroke="#b04878" stroke-width="1.2" stroke-opacity="0.35"/>
<path d="M371.1 451.5L369.8 452.1M368.4 444.4L367 444.9M366.4 437.1L365 437.4M365.2 429.6L363.8 429.7" stroke="#666" stroke-width="0.4"/>
<text x="360.7" y="440.4" font-size="4.7" text-anchor="middle" fill="#111" transform="rotate(257.5 360.7 440.4)">INF1</text>
<path d="M366 422A71.4 71.4 0 0 1 366.3 415.8" fill="none" stroke="#e0a0c0" stroke-width="2.2"/>
<path d="M367.8 422A69.6 69.6 0 0 1 368.1 415.9" fill="none" stroke="#e0a0c0" stroke-width="1.2" stroke-opacity="0.35"/>
<path d="M364.8 422L363.4 422" stroke="#666" stroke-width="0.4"/>
<text x="358.9" y="420" font-size="4.7" text-anchor="middle" fill="#111" transform="rotate(272.5 358.9 420)">INF2</text>
<path d="M369.1 401.1A71.4 71.4 0 0 1 404.4 358.7" fill="none" stroke="#2a5a8c" stroke-width="2.2"/>
<path d="M370.8 401.7A69.6 69.6 0 0 1 405.3 360.3" fill="none" stroke="#2a5a8c" stroke-width="1.2" stroke-opacity="0.35"/>
<path d="M368 400.8L366.6 400.4M370.6 393.6L369.3 393.1M373.9 386.8L372.7 386.1M377.9 380.4L376.8 379.6M382.6 374.4L381.6 373.5M387.9 368.9L386.9 367.9M393.7 364L392.9 362.9M400 359.8L399.3 358.6" stroke="#666" stroke-width="0.4"/>
<text x="377" y="373.1" font-size="4.7" text-anchor="middle" fill="#111" transform="rotate(309.8 377 373.1)">CTL1</text>
<path d="M405.5 358.1A71.4 71.4 0 0 1 415.3 354.1" fill="none" stroke="#78acd4" stroke-width="2.2"/>
<path d="M406.3 359.7A69.6 69.6 0 0 1 415.9 355.8" fill="none" stroke="#78acd4" stroke-width="1.2" stroke-opacity="0.35"/>
<path d="M405 357L404.4 355.8M412 354L411.5 352.7" stroke="#666" stroke-width="0.4"/>
<text x="407.6" y="350.7" font-size="4.7" text-anchor="middle" fill="#111" transform="rotate(337.8 407.6 350.7)">CTL2</text>
<path d="M416.5 353.7A71.4 71.4 0 0 1 433.4 350.7" fill="none" stroke="#58a898" stroke-width="2.2"/>
<path d="M417.1 355.4A69.6 69.6 0 0 1 433.5 352.5" fill="none" stroke="#58a898" stroke-width="1.2" stroke-opacity="0.35"/>
<path d="M416.2 352.6L415.8 351.2M423.5 350.7L423.3 349.4M431.1 349.7L431 348.3" stroke="#666" stroke-width="0.4"/>
<text x="423.6" y="346" font-size="4.7" text-anchor="middle" fill="#111" transform="rotate(349.9 423.6 346)">CTL INF1</text>
<text x="3.8" y="512.7" font-size="12.8" text-anchor="start" fill="#000" font-weight="bold">G</text>
<rect x="34.6" y="506.2" width="9.9" height="10.7" fill="#7163c2"/>
<rect x="43.9" y="506.2" width="9.9" height="10.7" fill="#7163c2"/>
<rect x="53.2" y="506.2" width="9.9" height="10.7" fill="#4a50b8"/>
<rect x="62.5" y="506.2" width="9.9" height="10.7" fill="#5153ba"/>
<rect x="71.8" y="506.2" width="9.9" height="10.7" fill="#7163c2"/>
<rect x="81" y="506.2" width="9.9" height="10.7" fill="#5554ba"/>
<rect x="90.3" y="506.2" width="9.9" height="10.7" fill="#5655bb"/>
<rect x="99.6" y="506.2" width="9.9" height="10.7" fill="#4a50b8"/>
<rect x="108.9" y="506.2" width="9.9" height="10.7" fill="#4950b8"/>
<rect x="118.2" y="506.2" width="9.9" height="10.7" fill="#6f61c1"/>
<rect x="127.5" y="506.2" width="9.9" height="10.7" fill="#3c52ba"/>
<rect x="136.8" y="506.2" width="9.9" height="10.7" fill="#4850b8"/>
<rect x="146.1" y="506.2" width="9.9" height="10.7" fill="#4a50b8"/>
<rect x="155.4" y="506.2" width="9.9" height="10.7" fill="#3c52ba"/>
<rect x="164.7" y="506.2" width="9.9" height="10.7" fill="#cac0e7"/>
<rect x="34.6" y="516.3" width="9.9" height="10.7" fill="#8070c7"/>
<rect x="43.9" y="516.3" width="9.9" height="10.7" fill="#8171c7"/>
<rect x="53.2" y="516.3" width="9.9" height="10.7" fill="#4a50b8"/>
<rect x="62.5" y="516.3" width="9.9" height="10.7" fill="#8070c7"/>
<rect x="71.8" y="516.3" width="9.9" height="10.7" fill="#8979ca"/>
<rect x="81" y="516.3" width="9.9" height="10.7" fill="#6059bd"/>
<rect x="90.3" y="516.3" width="9.9" height="10.7" fill="#5253ba"/>
<rect x="99.6" y="516.3" width="9.9" height="10.7" fill="#4850b8"/>
<rect x="108.9" y="516.3" width="9.9" height="10.7" fill="#4950b8"/>
<rect x="118.2" y="516.3" width="9.9" height="10.7" fill="#4d51b9"/>
<rect x="127.5" y="516.3" width="9.9" height="10.7" fill="#3c52ba"/>
<rect x="136.8" y="516.3" width="9.9" height="10.7" fill="#4e52b9"/>
<rect x="146.1" y="516.3" width="9.9" height="10.7" fill="#4d51b9"/>
<rect x="155.4" y="516.3" width="9.9" height="10.7" fill="#3c52ba"/>
<rect x="34.6" y="526.3" width="9.9" height="10.7" fill="#3c52ba"/>
<rect x="43.9" y="526.3" width="9.9" height="10.7" fill="#3c52ba"/>
<rect x="53.2" y="526.3" width="9.9" height="10.7" fill="#3c52ba"/>
<rect x="62.5" y="526.3" width="9.9" height="10.7" fill="#3c52ba"/>
<rect x="71.8" y="526.3" width="9.9" height="10.7" fill="#3c52ba"/>
<rect x="81" y="526.3" width="9.9" height="10.7" fill="#3c52ba"/>
<rect x="90.3" y="526.3" width="9.9" height="10.7" fill="#3c52ba"/>
<rect x="99.6" y="526.3" width="9.9" height="10.7" fill="#3c52ba"/>
<rect x="108.9" y="526.3" width="9.9" height="10.7" fill="#3c52ba"/>
<rect x="118.2" y="526.3" width="9.9" height="10.7" fill="#3c52ba"/>
<rect x="127.5" y="526.3" width="9.9" height="10.7" fill="#3c52ba"/>
<rect x="136.8" y="526.3" width="9.9" height="10.7" fill="#3c52ba"/>
<rect x="146.1" y="526.3" width="9.9" height="10.7" fill="#3c52ba"/>
<rect x="34.6" y="536.4" width="9.9" height="10.7" fill="#4351b9"/>
<rect x="43.9" y="536.4" width="9.9" height="10.7" fill="#4551b9"/>
<rect x="53.2" y="536.4" width="9.9" height="10.7" fill="#4251b9"/>
<rect x="62.5" y="536.4" width="9.9" height="10.7" fill="#4451b9"/>
<rect x="71.8" y="536.4" width="9.9" height="10.7" fill="#4451b9"/>
<rect x="81" y="536.4" width="9.9" height="10.7" fill="#4351b9"/>
<rect x="90.3" y="536.4" width="9.9" height="10.7" fill="#4551b9"/>
<rect x="99.6" y="536.4" width="9.9" height="10.7" fill="#4351b9"/>
<rect x="108.9" y="536.4" width="9.9" height="10.7" fill="#4551b9"/>
<rect x="118.2" y="536.4" width="9.9" height="10.7" fill="#4651b9"/>
<rect x="127.5" y="536.4" width="9.9" height="10.7" fill="#3c52ba"/>
<rect x="136.8" y="536.4" width="9.9" height="10.7" fill="#4351b9"/>
<rect x="34.6" y="546.5" width="9.9" height="10.7" fill="#4551b9"/>
<rect x="43.9" y="546.5" width="9.9" height="10.7" fill="#4651b9"/>
<rect x="53.2" y="546.5" width="9.9" height="10.7" fill="#4750b8"/>
<rect x="62.5" y="546.5" width="9.9" height="10.7" fill="#4451b9"/>
<rect x="71.8" y="546.5" width="9.9" height="10.7" fill="#4351b9"/>
<rect x="81" y="546.5" width="9.9" height="10.7" fill="#4651b9"/>
<rect x="90.3" y="546.5" width="9.9" height="10.7" fill="#4551b9"/>
<rect x="99.6" y="546.5" width="9.9" height="10.7" fill="#4451b9"/>
<rect x="108.9" y="546.5" width="9.9" height="10.7" fill="#4351b9"/>
<rect x="118.2" y="546.5" width="9.9" height="10.7" fill="#4651b9"/>
<rect x="127.5" y="546.5" width="9.9" height="10.7" fill="#4650b8"/>
<rect x="34.6" y="556.5" width="9.9" height="10.7" fill="#3c52ba"/>
<rect x="43.9" y="556.5" width="9.9" height="10.7" fill="#3c52ba"/>
<rect x="53.2" y="556.5" width="9.9" height="10.7" fill="#3c52ba"/>
<rect x="62.5" y="556.5" width="9.9" height="10.7" fill="#3c52ba"/>
<rect x="71.8" y="556.5" width="9.9" height="10.7" fill="#3c52ba"/>
<rect x="81" y="556.5" width="9.9" height="10.7" fill="#3f52ba"/>
<rect x="90.3" y="556.5" width="9.9" height="10.7" fill="#3c52ba"/>
<rect x="99.6" y="556.5" width="9.9" height="10.7" fill="#3c52ba"/>
<rect x="108.9" y="556.5" width="9.9" height="10.7" fill="#3d52ba"/>
<rect x="118.2" y="556.5" width="9.9" height="10.7" fill="#3c52ba"/>
<rect x="34.6" y="566.6" width="9.9" height="10.7" fill="#615abd"/>
<rect x="43.9" y="566.6" width="9.9" height="10.7" fill="#c5bae5"/>
<rect x="53.2" y="566.6" width="9.9" height="10.7" fill="#4950b8"/>
<rect x="62.5" y="566.6" width="9.9" height="10.7" fill="#655bbe"/>
<rect x="71.8" y="566.6" width="9.9" height="10.7" fill="#cac0e7"/>
<rect x="81" y="566.6" width="9.9" height="10.7" fill="#8574c8"/>
<rect x="90.3" y="566.6" width="9.9" height="10.7" fill="#e1daef"/>
<rect x="99.6" y="566.6" width="9.9" height="10.7" fill="#4451b9"/>
<rect x="108.9" y="566.6" width="9.9" height="10.7" fill="#685cbf"/>
<rect x="34.6" y="576.7" width="9.9" height="10.7" fill="#4451b9"/>
<rect x="43.9" y="576.7" width="9.9" height="10.7" fill="#4950b8"/>
<rect x="53.2" y="576.7" width="9.9" height="10.7" fill="#4251b9"/>
<rect x="62.5" y="576.7" width="9.9" height="10.7" fill="#4750b8"/>
<rect x="71.8" y="576.7" width="9.9" height="10.7" fill="#4a50b8"/>
<rect x="81" y="576.7" width="9.9" height="10.7" fill="#b6a9de"/>
<rect x="90.3" y="576.7" width="9.9" height="10.7" fill="#e9e3f2"/>
<rect x="99.6" y="576.7" width="9.9" height="10.7" fill="#4a50b8"/>
<rect x="34.6" y="586.8" width="9.9" height="10.7" fill="#4651b9"/>
<rect x="43.9" y="586.8" width="9.9" height="10.7" fill="#4351b9"/>
<rect x="53.2" y="586.8" width="9.9" height="10.7" fill="#3c52ba"/>
<rect x="62.5" y="586.8" width="9.9" height="10.7" fill="#4351b9"/>
<rect x="71.8" y="586.8" width="9.9" height="10.7" fill="#4251b9"/>
<rect x="81" y="586.8" width="9.9" height="10.7" fill="#5454ba"/>
<rect x="90.3" y="586.8" width="9.9" height="10.7" fill="#4a50b8"/>
<rect x="34.6" y="596.8" width="9.9" height="10.7" fill="#4351b9"/>
<rect x="43.9" y="596.8" width="9.9" height="10.7" fill="#4d51b9"/>
<rect x="53.2" y="596.8" width="9.9" height="10.7" fill="#4551b9"/>
<rect x="62.5" y="596.8" width="9.9" height="10.7" fill="#4451b9"/>
<rect x="71.8" y="596.8" width="9.9" height="10.7" fill="#5153ba"/>
<rect x="81" y="596.8" width="9.9" height="10.7" fill="#e5def0"/>
<rect x="34.6" y="606.9" width="9.9" height="10.7" fill="#4551b9"/>
<rect x="43.9" y="606.9" width="9.9" height="10.7" fill="#4a50b8"/>
<rect x="53.2" y="606.9" width="9.9" height="10.7" fill="#4451b9"/>
<rect x="62.5" y="606.9" width="9.9" height="10.7" fill="#4351b9"/>
<rect x="71.8" y="606.9" width="9.9" height="10.7" fill="#6c5ec0"/>
<rect x="34.6" y="617" width="9.9" height="10.7" fill="#f17d61"/>
<rect x="43.9" y="617" width="9.9" height="10.7" fill="#f6e9ea"/>
<rect x="53.2" y="617" width="9.9" height="10.7" fill="#4651b9"/>
<rect x="62.5" y="617" width="9.9" height="10.7" fill="#f28a70"/>
<rect x="34.6" y="627" width="9.9" height="10.7" fill="#ee684c"/>
<rect x="43.9" y="627" width="9.9" height="10.7" fill="#c1b6e3"/>
<rect x="53.2" y="627" width="9.9" height="10.7" fill="#4a50b8"/>
<rect x="34.6" y="637.1" width="9.9" height="10.7" fill="#5856bb"/>
<rect x="43.9" y="637.1" width="9.9" height="10.7" fill="#5856bb"/>
<rect x="34.6" y="647.2" width="9.9" height="10.7" fill="#9684ce"/>
<g font-size="3.7" text-anchor="middle"><text x="39.2" y="512.3" fill="#0a0a30">0.209</text><text x="48.5" y="512.3" fill="#0a0a30">0.213</text><text x="57.8" y="512.3" fill="#0a0a30">0.101</text><text x="67.1" y="512.3" fill="#0a0a30">0.121</text><text x="76.4" y="512.3" fill="#0a0a30">0.216</text><text x="85.7" y="512.3" fill="#0a0a30">0.129</text><text x="95" y="512.3" fill="#0a0a30">0.138</text><text x="104.3" y="512.3" fill="#0a0a30">0.094</text><text x="113.6" y="512.3" fill="#0a0a30">0.093</text><text x="122.9" y="512.3" fill="#0a0a30">0.204</text><text x="132.1" y="512.3" fill="#0a0a30">0</text><text x="141.4" y="512.3" fill="#0a0a30">0.092</text><text x="150.7" y="512.3" fill="#0a0a30">0.100</text><text x="160" y="512.3" fill="#0a0a30">0</text><text x="169.3" y="512.3" fill="#111">0.394</text><text x="39.2" y="522.4" fill="#0a0a30">0.250</text><text x="48.5" y="522.4" fill="#0a0a30">0.248</text><text x="57.8" y="522.4" fill="#0a0a30">0.100</text><text x="67.1" y="522.4" fill="#0a0a30">0.245</text><text x="76.4" y="522.4" fill="#0a0a30">0.271</text><text x="85.7" y="522.4" fill="#0a0a30">0.161</text><text x="95" y="522.4" fill="#0a0a30">0.123</text><text x="104.3" y="522.4" fill="#0a0a30">0.087</text><text x="113.6" y="522.4" fill="#0a0a30">0.092</text><text x="122.9" y="522.4" fill="#0a0a30">0.111</text><text x="132.1" y="522.4" fill="#0a0a30">0</text><text x="141.4" y="522.4" fill="#0a0a30">0.113</text><text x="150.7" y="522.4" fill="#0a0a30">0.105</text><text x="160" y="522.4" fill="#0a0a30">0</text><text x="39.2" y="532.5" fill="#0a0a30">0</text><text x="48.5" y="532.5" fill="#0a0a30">0</text><text x="57.8" y="532.5" fill="#0a0a30">0</text><text x="67.1" y="532.5" fill="#0a0a30">0</text><text x="76.4" y="532.5" fill="#0a0a30">0</text><text x="85.7" y="532.5" fill="#0a0a30">0</text><text x="95" y="532.5" fill="#0a0a30">0</text><text x="104.3" y="532.5" fill="#0a0a30">0</text><text x="113.6" y="532.5" fill="#0a0a30">0</text><text x="122.9" y="532.5" fill="#0a0a30">0</text><text x="132.1" y="532.5" fill="#0a0a30">0</text><text x="141.4" y="532.5" fill="#0a0a30">0</text><text x="150.7" y="532.5" fill="#0a0a30">0</text><text x="39.2" y="542.5" fill="#0a0a30">0.051</text><text x="48.5" y="542.5" fill="#0a0a30">0.068</text><text x="57.8" y="542.5" fill="#0a0a30">0.041</text><text x="67.1" y="542.5" fill="#0a0a30">0.057</text><text x="76.4" y="542.5" fill="#0a0a30">0.057</text><text x="85.7" y="542.5" fill="#0a0a30">0.049</text><text x="95" y="542.5" fill="#0a0a30">0.062</text><text x="104.3" y="542.5" fill="#0a0a30">0.050</text><text x="113.6" y="542.5" fill="#0a0a30">0.066</text><text x="122.9" y="542.5" fill="#0a0a30">0.067</text><text x="132.1" y="542.5" fill="#0a0a30">0</text><text x="141.4" y="542.5" fill="#0a0a30">0.048</text><text x="39.2" y="552.6" fill="#0a0a30">0.060</text><text x="48.5" y="552.6" fill="#0a0a30">0.074</text><text x="57.8" y="552.6" fill="#0a0a30">0.073</text><text x="67.1" y="552.6" fill="#0a0a30">0.058</text><text x="76.4" y="552.6" fill="#0a0a30">0.056</text><text x="85.7" y="552.6" fill="#0a0a30">0.069</text><text x="95" y="552.6" fill="#0a0a30">0.067</text><text x="104.3" y="552.6" fill="#0a0a30">0.052</text><text x="113.6" y="552.6" fill="#0a0a30">0.052</text><text x="122.9" y="552.6" fill="#0a0a30">0.070</text><text x="132.1" y="552.6" fill="#0a0a30">0.076</text><text x="39.2" y="562.7" fill="#0a0a30">0</text><text x="48.5" y="562.7" fill="#0a0a30">0</text><text x="57.8" y="562.7" fill="#0a0a30">0</text><text x="67.1" y="562.7" fill="#0a0a30">0</text><text x="76.4" y="562.7" fill="#0a0a30">0</text><text x="85.7" y="562.7" fill="#0a0a30">0.015</text><text x="95" y="562.7" fill="#0a0a30">0</text><text x="104.3" y="562.7" fill="#0a0a30">0</text><text x="113.6" y="562.7" fill="#0a0a30">0.006</text><text x="122.9" y="562.7" fill="#0a0a30">0</text><text x="39.2" y="572.8" fill="#0a0a30">0.170</text><text x="48.5" y="572.8" fill="#111">0.384</text><text x="57.8" y="572.8" fill="#0a0a30">0.091</text><text x="67.1" y="572.8" fill="#0a0a30">0.175</text><text x="76.4" y="572.8" fill="#111">0.396</text><text x="85.7" y="572.8" fill="#0a0a30">0.263</text><text x="95" y="572.8" fill="#111">0.449</text><text x="104.3" y="572.8" fill="#0a0a30">0.061</text><text x="113.6" y="572.8" fill="#0a0a30">0.185</text><text x="39.2" y="582.8" fill="#0a0a30">0.060</text><text x="48.5" y="582.8" fill="#0a0a30">0.096</text><text x="57.8" y="582.8" fill="#0a0a30">0.041</text><text x="67.1" y="582.8" fill="#0a0a30">0.083</text><text x="76.4" y="582.8" fill="#0a0a30">0.098</text><text x="85.7" y="582.8" fill="#111">0.362</text><text x="95" y="582.8" fill="#111">0.467</text><text x="104.3" y="582.8" fill="#0a0a30">0.101</text><text x="39.2" y="592.9" fill="#0a0a30">0.070</text><text x="48.5" y="592.9" fill="#0a0a30">0.052</text><text x="57.8" y="592.9" fill="#0a0a30">0</text><text x="67.1" y="592.9" fill="#0a0a30">0.053</text><text x="76.4" y="592.9" fill="#0a0a30">0.041</text><text x="85.7" y="592.9" fill="#0a0a30">0.130</text><text x="95" y="592.9" fill="#0a0a30">0.104</text><text x="39.2" y="603" fill="#0a0a30">0.046</text><text x="48.5" y="603" fill="#0a0a30">0.110</text><text x="57.8" y="603" fill="#0a0a30">0.066</text><text x="67.1" y="603" fill="#0a0a30">0.054</text><text x="76.4" y="603" fill="#0a0a30">0.123</text><text x="85.7" y="603" fill="#111">0.458</text><text x="39.2" y="613" fill="#0a0a30">0.065</text><text x="48.5" y="613" fill="#0a0a30">0.098</text><text x="57.8" y="613" fill="#0a0a30">0.062</text><text x="67.1" y="613" fill="#0a0a30">0.049</text><text x="76.4" y="613" fill="#0a0a30">0.201</text><text x="39.2" y="623.1" fill="#0a0a30">0.771</text><text x="48.5" y="623.1" fill="#111">0.516</text><text x="57.8" y="623.1" fill="#0a0a30">0.070</text><text x="67.1" y="623.1" fill="#0a0a30">0.744</text><text x="39.2" y="633.2" fill="#0a0a30">0.825</text><text x="48.5" y="633.2" fill="#111">0.383</text><text x="57.8" y="633.2" fill="#0a0a30">0.098</text><text x="39.2" y="643.2" fill="#0a0a30">0.137</text><text x="48.5" y="643.2" fill="#0a0a30">0.141</text><text x="39.2" y="653.3" fill="#111">0.304</text></g>
<line x1="34.3" y1="506.2" x2="34.3" y2="657.2" stroke="#999" stroke-width="0.6"/>
<line x1="34.3" y1="657.5" x2="175.9" y2="657.5" stroke="#999" stroke-width="0.6"/>
<text x="32.8" y="512.5" font-size="3.9" text-anchor="end" fill="#555">NK-like2</text>
<text x="32.8" y="522.6" font-size="3.9" text-anchor="end" fill="#555">NK-like1</text>
<text x="32.8" y="532.7" font-size="3.9" text-anchor="end" fill="#555">N</text>
<text x="32.8" y="542.7" font-size="3.9" text-anchor="end" fill="#555">Mem2</text>
<text x="32.8" y="552.8" font-size="3.9" text-anchor="end" fill="#555">Mem1</text>
<text x="32.8" y="562.9" font-size="3.9" text-anchor="end" fill="#555">MAIT</text>
<text x="32.8" y="573" font-size="3.9" text-anchor="end" fill="#555">INF2</text>
<text x="32.8" y="583" font-size="3.9" text-anchor="end" fill="#555">INF1</text>
<text x="32.8" y="593.1" font-size="3.9" text-anchor="end" fill="#555">Ex</text>
<text x="32.8" y="603.2" font-size="3.9" text-anchor="end" fill="#555">EM2</text>
<text x="32.8" y="613.2" font-size="3.9" text-anchor="end" fill="#555">EM1</text>
<text x="32.8" y="623.3" font-size="3.9" text-anchor="end" fill="#555">CTL2</text>
<text x="32.8" y="633.4" font-size="3.9" text-anchor="end" fill="#555">CTL1</text>
<text x="32.8" y="643.4" font-size="3.9" text-anchor="end" fill="#555">CTL INF3</text>
<text x="32.8" y="653.5" font-size="3.9" text-anchor="end" fill="#555">CTL INF2</text>
<text x="40.5" y="659.8" font-size="3.9" text-anchor="end" fill="#555" transform="rotate(-90 40.5 659.8)">CTL INF1</text>
<text x="49.8" y="659.8" font-size="3.9" text-anchor="end" fill="#555" transform="rotate(-90 49.8 659.8)">CTL INF2</text>
<text x="59.1" y="659.8" font-size="3.9" text-anchor="end" fill="#555" transform="rotate(-90 59.1 659.8)">CTL INF3</text>
<text x="68.4" y="659.8" font-size="3.9" text-anchor="end" fill="#555" transform="rotate(-90 68.4 659.8)">CTL1</text>
<text x="77.7" y="659.8" font-size="3.9" text-anchor="end" fill="#555" transform="rotate(-90 77.7 659.8)">CTL2</text>
<text x="87" y="659.8" font-size="3.9" text-anchor="end" fill="#555" transform="rotate(-90 87 659.8)">EM1</text>
<text x="96.3" y="659.8" font-size="3.9" text-anchor="end" fill="#555" transform="rotate(-90 96.3 659.8)">EM2</text>
<text x="105.6" y="659.8" font-size="3.9" text-anchor="end" fill="#555" transform="rotate(-90 105.6 659.8)">Ex</text>
<text x="114.9" y="659.8" font-size="3.9" text-anchor="end" fill="#555" transform="rotate(-90 114.9 659.8)">INF1</text>
<text x="124.2" y="659.8" font-size="3.9" text-anchor="end" fill="#555" transform="rotate(-90 124.2 659.8)">INF2</text>
<text x="133.4" y="659.8" font-size="3.9" text-anchor="end" fill="#555" transform="rotate(-90 133.4 659.8)">MAIT</text>
<text x="142.7" y="659.8" font-size="3.9" text-anchor="end" fill="#555" transform="rotate(-90 142.7 659.8)">Mem1</text>
<text x="152" y="659.8" font-size="3.9" text-anchor="end" fill="#555" transform="rotate(-90 152 659.8)">Mem2</text>
<text x="161.3" y="659.8" font-size="3.9" text-anchor="end" fill="#555" transform="rotate(-90 161.3 659.8)">N</text>
<text x="170.6" y="659.8" font-size="3.9" text-anchor="end" fill="#555" transform="rotate(-90 170.6 659.8)">NK-like1</text>
<rect x="200.8" y="506.2" width="9.8" height="10.7" fill="#5b57bc"/>
<rect x="210.1" y="506.2" width="9.8" height="10.7" fill="#5856bb"/>
<rect x="219.3" y="506.2" width="9.8" height="10.7" fill="#4a50b8"/>
<rect x="228.6" y="506.2" width="9.8" height="10.7" fill="#5454ba"/>
<rect x="237.8" y="506.2" width="9.8" height="10.7" fill="#5153ba"/>
<rect x="247.1" y="506.2" width="9.8" height="10.7" fill="#f6f1f6"/>
<rect x="256.3" y="506.2" width="9.8" height="10.7" fill="#f6dcd9"/>
<rect x="265.6" y="506.2" width="9.8" height="10.7" fill="#4351b9"/>
<rect x="274.8" y="506.2" width="9.8" height="10.7" fill="#f6d4cd"/>
<rect x="284.1" y="506.2" width="9.8" height="10.7" fill="#9684ce"/>
<rect x="293.3" y="506.2" width="9.8" height="10.7" fill="#3f52ba"/>
<rect x="302.6" y="506.2" width="9.8" height="10.7" fill="#4051b9"/>
<rect x="311.8" y="506.2" width="9.8" height="10.7" fill="#4051b9"/>
<rect x="321.1" y="506.2" width="9.8" height="10.7" fill="#3c52ba"/>
<rect x="330.3" y="506.2" width="9.8" height="10.7" fill="#e64531"/>
<rect x="200.8" y="516.3" width="9.8" height="10.7" fill="#5b57bc"/>
<rect x="210.1" y="516.3" width="9.8" height="10.7" fill="#5454ba"/>
<rect x="219.3" y="516.3" width="9.8" height="10.7" fill="#4a50b8"/>
<rect x="228.6" y="516.3" width="9.8" height="10.7" fill="#4a50b8"/>
<rect x="237.8" y="516.3" width="9.8" height="10.7" fill="#4a50b8"/>
<rect x="247.1" y="516.3" width="9.8" height="10.7" fill="#f6f1f6"/>
<rect x="256.3" y="516.3" width="9.8" height="10.7" fill="#f6f1f6"/>
<rect x="265.6" y="516.3" width="9.8" height="10.7" fill="#4051b9"/>
<rect x="274.8" y="516.3" width="9.8" height="10.7" fill="#f6dcd9"/>
<rect x="284.1" y="516.3" width="9.8" height="10.7" fill="#9684ce"/>
<rect x="293.3" y="516.3" width="9.8" height="10.7" fill="#3f52ba"/>
<rect x="302.6" y="516.3" width="9.8" height="10.7" fill="#3f52ba"/>
<rect x="311.8" y="516.3" width="9.8" height="10.7" fill="#4051b9"/>
<rect x="321.1" y="516.3" width="9.8" height="10.7" fill="#3f52ba"/>
<rect x="200.8" y="526.3" width="9.8" height="10.7" fill="#4750b8"/>
<rect x="210.1" y="526.3" width="9.8" height="10.7" fill="#4950b8"/>
<rect x="219.3" y="526.3" width="9.8" height="10.7" fill="#4750b8"/>
<rect x="228.6" y="526.3" width="9.8" height="10.7" fill="#4a50b8"/>
<rect x="237.8" y="526.3" width="9.8" height="10.7" fill="#4950b8"/>
<rect x="247.1" y="526.3" width="9.8" height="10.7" fill="#4a50b8"/>
<rect x="256.3" y="526.3" width="9.8" height="10.7" fill="#4a50b8"/>
<rect x="265.6" y="526.3" width="9.8" height="10.7" fill="#3f52ba"/>
<rect x="274.8" y="526.3" width="9.8" height="10.7" fill="#4950b8"/>
<rect x="284.1" y="526.3" width="9.8" height="10.7" fill="#4a50b8"/>
<rect x="293.3" y="526.3" width="9.8" height="10.7" fill="#4950b8"/>
<rect x="302.6" y="526.3" width="9.8" height="10.7" fill="#6c5ec0"/>
<rect x="311.8" y="526.3" width="9.8" height="10.7" fill="#4a50b8"/>
<rect x="200.8" y="536.4" width="9.8" height="10.7" fill="#4a50b8"/>
<rect x="210.1" y="536.4" width="9.8" height="10.7" fill="#4a50b8"/>
<rect x="219.3" y="536.4" width="9.8" height="10.7" fill="#4750b8"/>
<rect x="228.6" y="536.4" width="9.8" height="10.7" fill="#4a50b8"/>
<rect x="237.8" y="536.4" width="9.8" height="10.7" fill="#4a50b8"/>
<rect x="247.1" y="536.4" width="9.8" height="10.7" fill="#4950b8"/>
<rect x="256.3" y="536.4" width="9.8" height="10.7" fill="#4a50b8"/>
<rect x="265.6" y="536.4" width="9.8" height="10.7" fill="#4051b9"/>
<rect x="274.8" y="536.4" width="9.8" height="10.7" fill="#4950b8"/>
<rect x="284.1" y="536.4" width="9.8" height="10.7" fill="#4a50b8"/>
<rect x="293.3" y="536.4" width="9.8" height="10.7" fill="#4a50b8"/>
<rect x="302.6" y="536.4" width="9.8" height="10.7" fill="#4a50b8"/>
<rect x="200.8" y="546.5" width="9.8" height="10.7" fill="#4451b9"/>
<rect x="210.1" y="546.5" width="9.8" height="10.7" fill="#4a50b8"/>
<rect x="219.3" y="546.5" width="9.8" height="10.7" fill="#3f52ba"/>
<rect x="228.6" y="546.5" width="9.8" height="10.7" fill="#4750b8"/>
<rect x="237.8" y="546.5" width="9.8" height="10.7" fill="#4651b9"/>
<rect x="247.1" y="546.5" width="9.8" height="10.7" fill="#4950b8"/>
<rect x="256.3" y="546.5" width="9.8" height="10.7" fill="#4651b9"/>
<rect x="265.6" y="546.5" width="9.8" height="10.7" fill="#4051b9"/>
<rect x="274.8" y="546.5" width="9.8" height="10.7" fill="#4750b8"/>
<rect x="284.1" y="546.5" width="9.8" height="10.7" fill="#4950b8"/>
<rect x="293.3" y="546.5" width="9.8" height="10.7" fill="#4a50b8"/>
<rect x="200.8" y="556.5" width="9.8" height="10.7" fill="#4750b8"/>
<rect x="210.1" y="556.5" width="9.8" height="10.7" fill="#4651b9"/>
<rect x="219.3" y="556.5" width="9.8" height="10.7" fill="#3f52ba"/>
<rect x="228.6" y="556.5" width="9.8" height="10.7" fill="#4451b9"/>
<rect x="237.8" y="556.5" width="9.8" height="10.7" fill="#4950b8"/>
<rect x="247.1" y="556.5" width="9.8" height="10.7" fill="#4a50b8"/>
<rect x="256.3" y="556.5" width="9.8" height="10.7" fill="#4a50b8"/>
<rect x="265.6" y="556.5" width="9.8" height="10.7" fill="#4251b9"/>
<rect x="274.8" y="556.5" width="9.8" height="10.7" fill="#4950b8"/>
<rect x="284.1" y="556.5" width="9.8" height="10.7" fill="#5a57bc"/>
<rect x="200.8" y="566.6" width="9.8" height="10.7" fill="#5b57bc"/>
<rect x="210.1" y="566.6" width="9.8" height="10.7" fill="#6c5ec0"/>
<rect x="219.3" y="566.6" width="9.8" height="10.7" fill="#5b57bc"/>
<rect x="228.6" y="566.6" width="9.8" height="10.7" fill="#b7aade"/>
<rect x="237.8" y="566.6" width="9.8" height="10.7" fill="#ac9dd8"/>
<rect x="247.1" y="566.6" width="9.8" height="10.7" fill="#d2c9ea"/>
<rect x="256.3" y="566.6" width="9.8" height="10.7" fill="#f6d2ca"/>
<rect x="265.6" y="566.6" width="9.8" height="10.7" fill="#4351b9"/>
<rect x="274.8" y="566.6" width="9.8" height="10.7" fill="#f6d1c9"/>
<rect x="200.8" y="576.7" width="9.8" height="10.7" fill="#5153ba"/>
<rect x="210.1" y="576.7" width="9.8" height="10.7" fill="#5856bb"/>
<rect x="219.3" y="576.7" width="9.8" height="10.7" fill="#4a50b8"/>
<rect x="228.6" y="576.7" width="9.8" height="10.7" fill="#5856bb"/>
<rect x="237.8" y="576.7" width="9.8" height="10.7" fill="#5454ba"/>
<rect x="247.1" y="576.7" width="9.8" height="10.7" fill="#f06e51"/>
<rect x="256.3" y="576.7" width="9.8" height="10.7" fill="#f07153"/>
<rect x="265.6" y="576.7" width="9.8" height="10.7" fill="#4651b9"/>
<rect x="200.8" y="586.8" width="9.8" height="10.7" fill="#4651b9"/>
<rect x="210.1" y="586.8" width="9.8" height="10.7" fill="#4451b9"/>
<rect x="219.3" y="586.8" width="9.8" height="10.7" fill="#3c52ba"/>
<rect x="228.6" y="586.8" width="9.8" height="10.7" fill="#4451b9"/>
<rect x="237.8" y="586.8" width="9.8" height="10.7" fill="#4451b9"/>
<rect x="247.1" y="586.8" width="9.8" height="10.7" fill="#4750b8"/>
<rect x="256.3" y="586.8" width="9.8" height="10.7" fill="#4750b8"/>
<rect x="200.8" y="596.8" width="9.8" height="10.7" fill="#5454ba"/>
<rect x="210.1" y="596.8" width="9.8" height="10.7" fill="#5b57bc"/>
<rect x="219.3" y="596.8" width="9.8" height="10.7" fill="#4451b9"/>
<rect x="228.6" y="596.8" width="9.8" height="10.7" fill="#5b57bc"/>
<rect x="237.8" y="596.8" width="9.8" height="10.7" fill="#6c5ec0"/>
<rect x="247.1" y="596.8" width="9.8" height="10.7" fill="#f06e51"/>
<rect x="200.8" y="606.9" width="9.8" height="10.7" fill="#5454ba"/>
<rect x="210.1" y="606.9" width="9.8" height="10.7" fill="#5856bb"/>
<rect x="219.3" y="606.9" width="9.8" height="10.7" fill="#4451b9"/>
<rect x="228.6" y="606.9" width="9.8" height="10.7" fill="#5856bb"/>
<rect x="237.8" y="606.9" width="9.8" height="10.7" fill="#5856bb"/>
<rect x="200.8" y="617" width="9.8" height="10.7" fill="#f6c5b9"/>
<rect x="210.1" y="617" width="9.8" height="10.7" fill="#beb2e1"/>
<rect x="219.3" y="617" width="9.8" height="10.7" fill="#4451b9"/>
<rect x="228.6" y="617" width="9.8" height="10.7" fill="#f3947b"/>
<rect x="200.8" y="627" width="9.8" height="10.7" fill="#f07355"/>
<rect x="210.1" y="627" width="9.8" height="10.7" fill="#d4cbeb"/>
<rect x="219.3" y="627" width="9.8" height="10.7" fill="#4651b9"/>
<rect x="200.8" y="637.1" width="9.8" height="10.7" fill="#4a50b8"/>
<rect x="210.1" y="637.1" width="9.8" height="10.7" fill="#5454ba"/>
<rect x="200.8" y="647.2" width="9.8" height="10.7" fill="#8171c7"/>
<g font-size="3.7" text-anchor="middle"><text x="205.4" y="512.3" fill="#0a0a30">0.146</text><text x="214.7" y="512.3" fill="#0a0a30">0.140</text><text x="223.9" y="512.3" fill="#0a0a30">0.104</text><text x="233.2" y="512.3" fill="#0a0a30">0.129</text><text x="242.4" y="512.3" fill="#0a0a30">0.123</text><text x="251.7" y="512.3" fill="#111">0.498</text><text x="260.9" y="512.3" fill="#111">0.552</text><text x="270.2" y="512.3" fill="#0a0a30">0.047</text><text x="279.4" y="512.3" fill="#111">0.571</text><text x="288.7" y="512.3" fill="#111">0.296</text><text x="297.9" y="512.3" fill="#0a0a30">0.020</text><text x="307.2" y="512.3" fill="#0a0a30">0.034</text><text x="316.4" y="512.3" fill="#0a0a30">0.026</text><text x="325.7" y="512.3" fill="#0a0a30">0</text><text x="334.9" y="512.3" fill="#0a0a30">0.943</text><text x="205.4" y="522.4" fill="#0a0a30">0.153</text><text x="214.7" y="522.4" fill="#0a0a30">0.128</text><text x="223.9" y="522.4" fill="#0a0a30">0.102</text><text x="233.2" y="522.4" fill="#0a0a30">0.097</text><text x="242.4" y="522.4" fill="#0a0a30">0.101</text><text x="251.7" y="522.4" fill="#111">0.496</text><text x="260.9" y="522.4" fill="#111">0.500</text><text x="270.2" y="522.4" fill="#0a0a30">0.034</text><text x="279.4" y="522.4" fill="#111">0.549</text><text x="288.7" y="522.4" fill="#111">0.303</text><text x="297.9" y="522.4" fill="#0a0a30">0.018</text><text x="307.2" y="522.4" fill="#0a0a30">0.022</text><text x="316.4" y="522.4" fill="#0a0a30">0.027</text><text x="325.7" y="522.4" fill="#0a0a30">0.021</text><text x="205.4" y="532.5" fill="#0a0a30">0.081</text><text x="214.7" y="532.5" fill="#0a0a30">0.086</text><text x="223.9" y="532.5" fill="#0a0a30">0.080</text><text x="233.2" y="532.5" fill="#0a0a30">0.104</text><text x="242.4" y="532.5" fill="#0a0a30">0.089</text><text x="251.7" y="532.5" fill="#0a0a30">0.103</text><text x="260.9" y="532.5" fill="#0a0a30">0.098</text><text x="270.2" y="532.5" fill="#0a0a30">0.022</text><text x="279.4" y="532.5" fill="#0a0a30">0.087</text><text x="288.7" y="532.5" fill="#0a0a30">0.101</text><text x="297.9" y="532.5" fill="#0a0a30">0.086</text><text x="307.2" y="532.5" fill="#0a0a30">0.200</text><text x="316.4" y="532.5" fill="#0a0a30">0.104</text><text x="205.4" y="542.5" fill="#0a0a30">0.099</text><text x="214.7" y="542.5" fill="#0a0a30">0.103</text><text x="223.9" y="542.5" fill="#0a0a30">0.078</text><text x="233.2" y="542.5" fill="#0a0a30">0.102</text><text x="242.4" y="542.5" fill="#0a0a30">0.097</text><text x="251.7" y="542.5" fill="#0a0a30">0.091</text><text x="260.9" y="542.5" fill="#0a0a30">0.096</text><text x="270.2" y="542.5" fill="#0a0a30">0.030</text><text x="279.4" y="542.5" fill="#0a0a30">0.094</text><text x="288.7" y="542.5" fill="#0a0a30">0.099</text><text x="297.9" y="542.5" fill="#0a0a30">0.103</text><text x="307.2" y="542.5" fill="#0a0a30">0.098</text><text x="205.4" y="552.6" fill="#0a0a30">0.057</text><text x="214.7" y="552.6" fill="#0a0a30">0.101</text><text x="223.9" y="552.6" fill="#0a0a30">0.016</text><text x="233.2" y="552.6" fill="#0a0a30">0.080</text><text x="242.4" y="552.6" fill="#0a0a30">0.074</text><text x="251.7" y="552.6" fill="#0a0a30">0.089</text><text x="260.9" y="552.6" fill="#0a0a30">0.073</text><text x="270.2" y="552.6" fill="#0a0a30">0.028</text><text x="279.4" y="552.6" fill="#0a0a30">0.082</text><text x="288.7" y="552.6" fill="#0a0a30">0.087</text><text x="297.9" y="552.6" fill="#0a0a30">0.101</text><text x="205.4" y="562.7" fill="#0a0a30">0.084</text><text x="214.7" y="562.7" fill="#0a0a30">0.069</text><text x="223.9" y="562.7" fill="#0a0a30">0.023</text><text x="233.2" y="562.7" fill="#0a0a30">0.058</text><text x="242.4" y="562.7" fill="#0a0a30">0.092</text><text x="251.7" y="562.7" fill="#0a0a30">0.097</text><text x="260.9" y="562.7" fill="#0a0a30">0.101</text><text x="270.2" y="562.7" fill="#0a0a30">0.036</text><text x="279.4" y="562.7" fill="#0a0a30">0.090</text><text x="288.7" y="562.7" fill="#0a0a30">0.152</text><text x="205.4" y="572.8" fill="#0a0a30">0.152</text><text x="214.7" y="572.8" fill="#0a0a30">0.197</text><text x="223.9" y="572.8" fill="#0a0a30">0.151</text><text x="233.2" y="572.8" fill="#111">0.358</text><text x="242.4" y="572.8" fill="#111">0.340</text><text x="251.7" y="572.8" fill="#111">0.418</text><text x="260.9" y="572.8" fill="#111">0.574</text><text x="270.2" y="572.8" fill="#0a0a30">0.053</text><text x="279.4" y="572.8" fill="#111">0.574</text><text x="205.4" y="582.8" fill="#0a0a30">0.120</text><text x="214.7" y="582.8" fill="#0a0a30">0.144</text><text x="223.9" y="582.8" fill="#0a0a30">0.099</text><text x="233.2" y="582.8" fill="#0a0a30">0.143</text><text x="242.4" y="582.8" fill="#0a0a30">0.128</text><text x="251.7" y="582.8" fill="#0a0a30">0.808</text><text x="260.9" y="582.8" fill="#0a0a30">0.795</text><text x="270.2" y="582.8" fill="#0a0a30">0.071</text><text x="205.4" y="592.9" fill="#0a0a30">0.068</text><text x="214.7" y="592.9" fill="#0a0a30">0.062</text><text x="223.9" y="592.9" fill="#0a0a30">0</text><text x="233.2" y="592.9" fill="#0a0a30">0.061</text><text x="242.4" y="592.9" fill="#0a0a30">0.056</text><text x="251.7" y="592.9" fill="#0a0a30">0.080</text><text x="260.9" y="592.9" fill="#0a0a30">0.084</text><text x="205.4" y="603" fill="#0a0a30">0.126</text><text x="214.7" y="603" fill="#0a0a30">0.150</text><text x="223.9" y="603" fill="#0a0a30">0.064</text><text x="233.2" y="603" fill="#0a0a30">0.149</text><text x="242.4" y="603" fill="#0a0a30">0.203</text><text x="251.7" y="603" fill="#0a0a30">0.803</text><text x="205.4" y="613" fill="#0a0a30">0.133</text><text x="214.7" y="613" fill="#0a0a30">0.138</text><text x="223.9" y="613" fill="#0a0a30">0.062</text><text x="233.2" y="613" fill="#0a0a30">0.137</text><text x="242.4" y="613" fill="#0a0a30">0.141</text><text x="205.4" y="623.1" fill="#111">0.605</text><text x="214.7" y="623.1" fill="#111">0.370</text><text x="223.9" y="623.1" fill="#0a0a30">0.060</text><text x="233.2" y="623.1" fill="#0a0a30">0.723</text><text x="205.4" y="633.2" fill="#0a0a30">0.793</text><text x="214.7" y="633.2" fill="#111">0.423</text><text x="223.9" y="633.2" fill="#0a0a30">0.068</text><text x="205.4" y="643.2" fill="#0a0a30">0.097</text><text x="214.7" y="643.2" fill="#0a0a30">0.131</text><text x="205.4" y="653.3" fill="#0a0a30">0.254</text></g>
<line x1="200.5" y1="506.2" x2="200.5" y2="657.2" stroke="#999" stroke-width="0.6"/>
<line x1="200.5" y1="657.5" x2="341.6" y2="657.5" stroke="#999" stroke-width="0.6"/>
<text x="199" y="512.5" font-size="3.9" text-anchor="end" fill="#555">NK-like2</text>
<text x="199" y="522.6" font-size="3.9" text-anchor="end" fill="#555">NK-like1</text>
<text x="199" y="532.7" font-size="3.9" text-anchor="end" fill="#555">N</text>
<text x="199" y="542.7" font-size="3.9" text-anchor="end" fill="#555">Mem2</text>
<text x="199" y="552.8" font-size="3.9" text-anchor="end" fill="#555">Mem1</text>
<text x="199" y="562.9" font-size="3.9" text-anchor="end" fill="#555">MAIT</text>
<text x="199" y="573" font-size="3.9" text-anchor="end" fill="#555">INF2</text>
<text x="199" y="583" font-size="3.9" text-anchor="end" fill="#555">INF1</text>
<text x="199" y="593.1" font-size="3.9" text-anchor="end" fill="#555">Ex</text>
<text x="199" y="603.2" font-size="3.9" text-anchor="end" fill="#555">EM2</text>
<text x="199" y="613.2" font-size="3.9" text-anchor="end" fill="#555">EM1</text>
<text x="199" y="623.3" font-size="3.9" text-anchor="end" fill="#555">CTL2</text>
<text x="199" y="633.4" font-size="3.9" text-anchor="end" fill="#555">CTL1</text>
<text x="199" y="643.4" font-size="3.9" text-anchor="end" fill="#555">CTL INF3</text>
<text x="199" y="653.5" font-size="3.9" text-anchor="end" fill="#555">CTL INF2</text>
<text x="206.7" y="659.8" font-size="3.9" text-anchor="end" fill="#555" transform="rotate(-90 206.7 659.8)">CTL INF1</text>
<text x="216" y="659.8" font-size="3.9" text-anchor="end" fill="#555" transform="rotate(-90 216 659.8)">CTL INF2</text>
<text x="225.2" y="659.8" font-size="3.9" text-anchor="end" fill="#555" transform="rotate(-90 225.2 659.8)">CTL INF3</text>
<text x="234.5" y="659.8" font-size="3.9" text-anchor="end" fill="#555" transform="rotate(-90 234.5 659.8)">CTL1</text>
<text x="243.7" y="659.8" font-size="3.9" text-anchor="end" fill="#555" transform="rotate(-90 243.7 659.8)">CTL2</text>
<text x="253" y="659.8" font-size="3.9" text-anchor="end" fill="#555" transform="rotate(-90 253 659.8)">EM1</text>
<text x="262.2" y="659.8" font-size="3.9" text-anchor="end" fill="#555" transform="rotate(-90 262.2 659.8)">EM2</text>
<text x="271.5" y="659.8" font-size="3.9" text-anchor="end" fill="#555" transform="rotate(-90 271.5 659.8)">Ex</text>
<text x="280.7" y="659.8" font-size="3.9" text-anchor="end" fill="#555" transform="rotate(-90 280.7 659.8)">INF1</text>
<text x="290" y="659.8" font-size="3.9" text-anchor="end" fill="#555" transform="rotate(-90 290 659.8)">INF2</text>
<text x="299.2" y="659.8" font-size="3.9" text-anchor="end" fill="#555" transform="rotate(-90 299.2 659.8)">MAIT</text>
<text x="308.5" y="659.8" font-size="3.9" text-anchor="end" fill="#555" transform="rotate(-90 308.5 659.8)">Mem1</text>
<text x="317.7" y="659.8" font-size="3.9" text-anchor="end" fill="#555" transform="rotate(-90 317.7 659.8)">Mem2</text>
<text x="327" y="659.8" font-size="3.9" text-anchor="end" fill="#555" transform="rotate(-90 327 659.8)">N</text>
<text x="336.2" y="659.8" font-size="3.9" text-anchor="end" fill="#555" transform="rotate(-90 336.2 659.8)">NK-like1</text>
<rect x="367.3" y="506.2" width="11.2" height="12.1" fill="#5b57bc"/>
<rect x="377.9" y="506.2" width="11.2" height="12.1" fill="#d4cbeb"/>
<rect x="388.5" y="506.2" width="11.2" height="12.1" fill="#675cbf"/>
<rect x="399" y="506.2" width="11.2" height="12.1" fill="#a697d6"/>
<rect x="409.6" y="506.2" width="11.2" height="12.1" fill="#f49982"/>
<rect x="420.2" y="506.2" width="11.2" height="12.1" fill="#3c52ba"/>
<rect x="430.8" y="506.2" width="11.2" height="12.1" fill="#f3937b"/>
<rect x="441.4" y="506.2" width="11.2" height="12.1" fill="#8575c8"/>
<rect x="451.9" y="506.2" width="11.2" height="12.1" fill="#4750b8"/>
<rect x="462.5" y="506.2" width="11.2" height="12.1" fill="#3c52ba"/>
<rect x="473.1" y="506.2" width="11.2" height="12.1" fill="#3c52ba"/>
<rect x="483.7" y="506.2" width="11.2" height="12.1" fill="#4051b9"/>
<rect x="494.3" y="506.2" width="11.2" height="12.1" fill="#eb5940"/>
<rect x="367.3" y="517.7" width="11.2" height="12.1" fill="#4850b8"/>
<rect x="377.9" y="517.7" width="11.2" height="12.1" fill="#b1a3db"/>
<rect x="388.5" y="517.7" width="11.2" height="12.1" fill="#685cbf"/>
<rect x="399" y="517.7" width="11.2" height="12.1" fill="#8e7ccb"/>
<rect x="409.6" y="517.7" width="11.2" height="12.1" fill="#f6c7bb"/>
<rect x="420.2" y="517.7" width="11.2" height="12.1" fill="#3d52ba"/>
<rect x="430.8" y="517.7" width="11.2" height="12.1" fill="#f6c7bb"/>
<rect x="441.4" y="517.7" width="11.2" height="12.1" fill="#8675c9"/>
<rect x="451.9" y="517.7" width="11.2" height="12.1" fill="#4351b9"/>
<rect x="462.5" y="517.7" width="11.2" height="12.1" fill="#3c52ba"/>
<rect x="473.1" y="517.7" width="11.2" height="12.1" fill="#3c52ba"/>
<rect x="483.7" y="517.7" width="11.2" height="12.1" fill="#4051b9"/>
<rect x="367.3" y="529.3" width="11.2" height="12.1" fill="#4451b9"/>
<rect x="377.9" y="529.3" width="11.2" height="12.1" fill="#4750b8"/>
<rect x="388.5" y="529.3" width="11.2" height="12.1" fill="#4651b9"/>
<rect x="399" y="529.3" width="11.2" height="12.1" fill="#4351b9"/>
<rect x="409.6" y="529.3" width="11.2" height="12.1" fill="#675cbf"/>
<rect x="420.2" y="529.3" width="11.2" height="12.1" fill="#4151b9"/>
<rect x="430.8" y="529.3" width="11.2" height="12.1" fill="#4750b8"/>
<rect x="441.4" y="529.3" width="11.2" height="12.1" fill="#4750b8"/>
<rect x="451.9" y="529.3" width="11.2" height="12.1" fill="#4451b9"/>
<rect x="462.5" y="529.3" width="11.2" height="12.1" fill="#4650b8"/>
<rect x="473.1" y="529.3" width="11.2" height="12.1" fill="#4651b9"/>
<rect x="367.3" y="540.8" width="11.2" height="12.1" fill="#3c52ba"/>
<rect x="377.9" y="540.8" width="11.2" height="12.1" fill="#3c52ba"/>
<rect x="388.5" y="540.8" width="11.2" height="12.1" fill="#3c52ba"/>
<rect x="399" y="540.8" width="11.2" height="12.1" fill="#3c52ba"/>
<rect x="409.6" y="540.8" width="11.2" height="12.1" fill="#3c52ba"/>
<rect x="420.2" y="540.8" width="11.2" height="12.1" fill="#3c52ba"/>
<rect x="430.8" y="540.8" width="11.2" height="12.1" fill="#3c52ba"/>
<rect x="441.4" y="540.8" width="11.2" height="12.1" fill="#3c52ba"/>
<rect x="451.9" y="540.8" width="11.2" height="12.1" fill="#3d52ba"/>
<rect x="462.5" y="540.8" width="11.2" height="12.1" fill="#4351b9"/>
<rect x="367.3" y="552.4" width="11.2" height="12.1" fill="#4351b9"/>
<rect x="377.9" y="552.4" width="11.2" height="12.1" fill="#4451b9"/>
<rect x="388.5" y="552.4" width="11.2" height="12.1" fill="#4451b9"/>
<rect x="399" y="552.4" width="11.2" height="12.1" fill="#4351b9"/>
<rect x="409.6" y="552.4" width="11.2" height="12.1" fill="#4651b9"/>
<rect x="420.2" y="552.4" width="11.2" height="12.1" fill="#3f52ba"/>
<rect x="430.8" y="552.4" width="11.2" height="12.1" fill="#4451b9"/>
<rect x="441.4" y="552.4" width="11.2" height="12.1" fill="#4451b9"/>
<rect x="451.9" y="552.4" width="11.2" height="12.1" fill="#4750b8"/>
<rect x="367.3" y="563.9" width="11.2" height="12.1" fill="#4451b9"/>
<rect x="377.9" y="563.9" width="11.2" height="12.1" fill="#4451b9"/>
<rect x="388.5" y="563.9" width="11.2" height="12.1" fill="#4351b9"/>
<rect x="399" y="563.9" width="11.2" height="12.1" fill="#4451b9"/>
<rect x="409.6" y="563.9" width="11.2" height="12.1" fill="#4451b9"/>
<rect x="420.2" y="563.9" width="11.2" height="12.1" fill="#3f52ba"/>
<rect x="430.8" y="563.9" width="11.2" height="12.1" fill="#4750b8"/>
<rect x="441.4" y="563.9" width="11.2" height="12.1" fill="#5a57bc"/>
<rect x="367.3" y="575.4" width="11.2" height="12.1" fill="#a697d6"/>
<rect x="377.9" y="575.4" width="11.2" height="12.1" fill="#685cbf"/>
<rect x="388.5" y="575.4" width="11.2" height="12.1" fill="#f6f1f6"/>
<rect x="399" y="575.4" width="11.2" height="12.1" fill="#9684ce"/>
<rect x="409.6" y="575.4" width="11.2" height="12.1" fill="#8171c7"/>
<rect x="420.2" y="575.4" width="11.2" height="12.1" fill="#3c52ba"/>
<rect x="430.8" y="575.4" width="11.2" height="12.1" fill="#635abe"/>
<rect x="367.3" y="587" width="11.2" height="12.1" fill="#4750b8"/>
<rect x="377.9" y="587" width="11.2" height="12.1" fill="#8070c7"/>
<rect x="388.5" y="587" width="11.2" height="12.1" fill="#4750b8"/>
<rect x="399" y="587" width="11.2" height="12.1" fill="#8574c8"/>
<rect x="409.6" y="587" width="11.2" height="12.1" fill="#ee684c"/>
<rect x="420.2" y="587" width="11.2" height="12.1" fill="#4051b9"/>
<rect x="367.3" y="598.5" width="11.2" height="12.1" fill="#4051b9"/>
<rect x="377.9" y="598.5" width="11.2" height="12.1" fill="#4750b8"/>
<rect x="388.5" y="598.5" width="11.2" height="12.1" fill="#4651b9"/>
<rect x="399" y="598.5" width="11.2" height="12.1" fill="#3c52ba"/>
<rect x="409.6" y="598.5" width="11.2" height="12.1" fill="#4351b9"/>
<rect x="367.3" y="610.1" width="11.2" height="12.1" fill="#4850b8"/>
<rect x="377.9" y="610.1" width="11.2" height="12.1" fill="#8676c9"/>
<rect x="388.5" y="610.1" width="11.2" height="12.1" fill="#625abe"/>
<rect x="399" y="610.1" width="11.2" height="12.1" fill="#9381cd"/>
<rect x="367.3" y="621.6" width="11.2" height="12.1" fill="#f5a690"/>
<rect x="377.9" y="621.6" width="11.2" height="12.1" fill="#8a79ca"/>
<rect x="388.5" y="621.6" width="11.2" height="12.1" fill="#f6c7bb"/>
<rect x="367.3" y="633.1" width="11.2" height="12.1" fill="#ec5e44"/>
<rect x="377.9" y="633.1" width="11.2" height="12.1" fill="#e6dff1"/>
<rect x="367.3" y="644.7" width="11.2" height="12.1" fill="#f6cac0"/>
<g font-size="3.7" text-anchor="middle"><text x="372.6" y="513.1" fill="#0a0a30">0.146</text><text x="383.2" y="513.1" fill="#111">0.420</text><text x="393.8" y="513.1" fill="#0a0a30">0.190</text><text x="404.3" y="513.1" fill="#111">0.329</text><text x="414.9" y="513.1" fill="#0a0a30">0.709</text><text x="425.5" y="513.1" fill="#0a0a30">0</text><text x="436.1" y="513.1" fill="#0a0a30">0.722</text><text x="446.6" y="513.1" fill="#0a0a30">0.257</text><text x="457.2" y="513.1" fill="#0a0a30">0.081</text><text x="467.8" y="513.1" fill="#0a0a30">0</text><text x="478.4" y="513.1" fill="#0a0a30">0</text><text x="489" y="513.1" fill="#0a0a30">0.032</text><text x="499.6" y="513.1" fill="#0a0a30">0.876</text><text x="372.6" y="524.6" fill="#0a0a30">0.090</text><text x="383.2" y="524.6" fill="#111">0.348</text><text x="393.8" y="524.6" fill="#0a0a30">0.189</text><text x="404.3" y="524.6" fill="#0a0a30">0.277</text><text x="414.9" y="524.6" fill="#111">0.601</text><text x="425.5" y="524.6" fill="#0a0a30">0.004</text><text x="436.1" y="524.6" fill="#111">0.600</text><text x="446.6" y="524.6" fill="#0a0a30">0.265</text><text x="457.2" y="524.6" fill="#0a0a30">0.049</text><text x="467.8" y="524.6" fill="#0a0a30">0</text><text x="478.4" y="524.6" fill="#0a0a30">0</text><text x="489" y="524.6" fill="#0a0a30">0.032</text><text x="372.6" y="536.1" fill="#0a0a30">0.061</text><text x="383.2" y="536.1" fill="#0a0a30">0.076</text><text x="393.8" y="536.1" fill="#0a0a30">0.070</text><text x="404.3" y="536.1" fill="#0a0a30">0.054</text><text x="414.9" y="536.1" fill="#0a0a30">0.183</text><text x="425.5" y="536.1" fill="#0a0a30">0.037</text><text x="436.1" y="536.1" fill="#0a0a30">0.078</text><text x="446.6" y="536.1" fill="#0a0a30">0.082</text><text x="457.2" y="536.1" fill="#0a0a30">0.057</text><text x="467.8" y="536.1" fill="#0a0a30">0.076</text><text x="478.4" y="536.1" fill="#0a0a30">0.066</text><text x="372.6" y="547.7" fill="#0a0a30">0</text><text x="383.2" y="547.7" fill="#0a0a30">0</text><text x="393.8" y="547.7" fill="#0a0a30">0</text><text x="404.3" y="547.7" fill="#0a0a30">0</text><text x="414.9" y="547.7" fill="#0a0a30">0</text><text x="425.5" y="547.7" fill="#0a0a30">0</text><text x="436.1" y="547.7" fill="#0a0a30">0</text><text x="446.6" y="547.7" fill="#0a0a30">0</text><text x="457.2" y="547.7" fill="#0a0a30">0.012</text><text x="467.8" y="547.7" fill="#0a0a30">0.049</text><text x="372.6" y="559.2" fill="#0a0a30">0.047</text><text x="383.2" y="559.2" fill="#0a0a30">0.061</text><text x="393.8" y="559.2" fill="#0a0a30">0.056</text><text x="404.3" y="559.2" fill="#0a0a30">0.050</text><text x="414.9" y="559.2" fill="#0a0a30">0.074</text><text x="425.5" y="559.2" fill="#0a0a30">0.019</text><text x="436.1" y="559.2" fill="#0a0a30">0.063</text><text x="446.6" y="559.2" fill="#0a0a30">0.058</text><text x="457.2" y="559.2" fill="#0a0a30">0.082</text><text x="372.6" y="570.8" fill="#0a0a30">0.064</text><text x="383.2" y="570.8" fill="#0a0a30">0.059</text><text x="393.8" y="570.8" fill="#0a0a30">0.053</text><text x="404.3" y="570.8" fill="#0a0a30">0.058</text><text x="414.9" y="570.8" fill="#0a0a30">0.062</text><text x="425.5" y="570.8" fill="#0a0a30">0.017</text><text x="436.1" y="570.8" fill="#0a0a30">0.081</text><text x="446.6" y="570.8" fill="#0a0a30">0.143</text><text x="372.6" y="582.3" fill="#111">0.332</text><text x="383.2" y="582.3" fill="#0a0a30">0.185</text><text x="393.8" y="582.3" fill="#111">0.501</text><text x="404.3" y="582.3" fill="#111">0.296</text><text x="414.9" y="582.3" fill="#0a0a30">0.249</text><text x="425.5" y="582.3" fill="#0a0a30">0</text><text x="436.1" y="582.3" fill="#0a0a30">0.172</text><text x="372.6" y="593.9" fill="#0a0a30">0.080</text><text x="383.2" y="593.9" fill="#0a0a30">0.252</text><text x="393.8" y="593.9" fill="#0a0a30">0.079</text><text x="404.3" y="593.9" fill="#0a0a30">0.262</text><text x="414.9" y="593.9" fill="#0a0a30">0.824</text><text x="425.5" y="593.9" fill="#0a0a30">0.028</text><text x="372.6" y="605.4" fill="#0a0a30">0.028</text><text x="383.2" y="605.4" fill="#0a0a30">0.082</text><text x="393.8" y="605.4" fill="#0a0a30">0.067</text><text x="404.3" y="605.4" fill="#0a0a30">0</text><text x="414.9" y="605.4" fill="#0a0a30">0.046</text><text x="372.6" y="616.9" fill="#0a0a30">0.085</text><text x="383.2" y="616.9" fill="#0a0a30">0.263</text><text x="393.8" y="616.9" fill="#0a0a30">0.176</text><text x="404.3" y="616.9" fill="#0a0a30">0.291</text><text x="372.6" y="628.5" fill="#111">0.680</text><text x="383.2" y="628.5" fill="#0a0a30">0.269</text><text x="393.8" y="628.5" fill="#111">0.603</text><text x="372.6" y="640" fill="#0a0a30">0.860</text><text x="383.2" y="640" fill="#111">0.457</text><text x="372.6" y="651.6" fill="#111">0.591</text></g>
<line x1="367" y1="506.2" x2="367" y2="656.2" stroke="#999" stroke-width="0.6"/>
<line x1="367" y1="656.5" x2="506.8" y2="656.5" stroke="#999" stroke-width="0.6"/>
<text x="365.5" y="513.3" font-size="4.2" text-anchor="end" fill="#555">NK-like2</text>
<text x="365.5" y="524.8" font-size="4.2" text-anchor="end" fill="#555">NK-like1</text>
<text x="365.5" y="536.3" font-size="4.2" text-anchor="end" fill="#555">N</text>
<text x="365.5" y="547.9" font-size="4.2" text-anchor="end" fill="#555">Mem2</text>
<text x="365.5" y="559.4" font-size="4.2" text-anchor="end" fill="#555">Mem1</text>
<text x="365.5" y="571" font-size="4.2" text-anchor="end" fill="#555">MAIT</text>
<text x="365.5" y="582.5" font-size="4.2" text-anchor="end" fill="#555">INF2</text>
<text x="365.5" y="594" font-size="4.2" text-anchor="end" fill="#555">INF1</text>
<text x="365.5" y="605.6" font-size="4.2" text-anchor="end" fill="#555">Ex</text>
<text x="365.5" y="617.1" font-size="4.2" text-anchor="end" fill="#555">EM1</text>
<text x="365.5" y="628.7" font-size="4.2" text-anchor="end" fill="#555">CTL2</text>
<text x="365.5" y="640.2" font-size="4.2" text-anchor="end" fill="#555">CTL1</text>
<text x="365.5" y="651.8" font-size="4.2" text-anchor="end" fill="#555">CTL INF1</text>
<text x="373.9" y="658.7" font-size="4.2" text-anchor="end" fill="#555" transform="rotate(-90 373.9 658.7)">CTL INF1</text>
<text x="384.5" y="658.7" font-size="4.2" text-anchor="end" fill="#555" transform="rotate(-90 384.5 658.7)">CTL INF3</text>
<text x="395.1" y="658.7" font-size="4.2" text-anchor="end" fill="#555" transform="rotate(-90 395.1 658.7)">CTL1</text>
<text x="405.6" y="658.7" font-size="4.2" text-anchor="end" fill="#555" transform="rotate(-90 405.6 658.7)">CTL2</text>
<text x="416.2" y="658.7" font-size="4.2" text-anchor="end" fill="#555" transform="rotate(-90 416.2 658.7)">EM1</text>
<text x="426.8" y="658.7" font-size="4.2" text-anchor="end" fill="#555" transform="rotate(-90 426.8 658.7)">Ex</text>
<text x="437.4" y="658.7" font-size="4.2" text-anchor="end" fill="#555" transform="rotate(-90 437.4 658.7)">INF1</text>
<text x="447.9" y="658.7" font-size="4.2" text-anchor="end" fill="#555" transform="rotate(-90 447.9 658.7)">INF2</text>
<text x="458.5" y="658.7" font-size="4.2" text-anchor="end" fill="#555" transform="rotate(-90 458.5 658.7)">MAIT</text>
<text x="469.1" y="658.7" font-size="4.2" text-anchor="end" fill="#555" transform="rotate(-90 469.1 658.7)">Mem1</text>
<text x="479.7" y="658.7" font-size="4.2" text-anchor="end" fill="#555" transform="rotate(-90 479.7 658.7)">Mem2</text>
<text x="490.3" y="658.7" font-size="4.2" text-anchor="end" fill="#555" transform="rotate(-90 490.3 658.7)">N</text>
<text x="500.9" y="658.7" font-size="4.2" text-anchor="end" fill="#555" transform="rotate(-90 500.9 658.7)">NK-like1</text>
<text x="498.5" y="575.2" font-size="4.3" text-anchor="start" fill="#333">Morisita</text>
<rect x="504" y="576.7" width="4.6" height="1.1" fill="#e23424"/>
<rect x="504" y="577.7" width="4.6" height="1.1" fill="#e53f2d"/>
<rect x="504" y="578.7" width="4.6" height="1.1" fill="#e74a35"/>
<rect x="504" y="579.7" width="4.6" height="1.1" fill="#ea553e"/>
<rect x="504" y="580.7" width="4.6" height="1.1" fill="#ec6046"/>
<rect x="504" y="581.7" width="4.6" height="1.1" fill="#ef6c4f"/>
<rect x="504" y="582.7" width="4.6" height="1.1" fill="#f17a5d"/>
<rect x="504" y="583.7" width="4.6" height="1.1" fill="#f28a70"/>
<rect x="504" y="584.7" width="4.6" height="1.1" fill="#f49a83"/>
<rect x="504" y="585.7" width="4.6" height="1.1" fill="#f5ab96"/>
<rect x="504" y="586.7" width="4.6" height="1.1" fill="#f6bbaa"/>
<rect x="504" y="587.7" width="4.6" height="1.1" fill="#f6cac0"/>
<rect x="504" y="588.7" width="4.6" height="1.1" fill="#f6dad5"/>
<rect x="504" y="589.7" width="4.6" height="1.1" fill="#f6e9eb"/>
<rect x="504" y="590.7" width="4.6" height="1.1" fill="#eee8f3"/>
<rect x="504" y="591.7" width="4.6" height="1.1" fill="#dfd7ee"/>
<rect x="504" y="592.7" width="4.6" height="1.1" fill="#cfc5e9"/>
<rect x="504" y="593.7" width="4.6" height="1.1" fill="#bcb0e0"/>
<rect x="504" y="594.7" width="4.6" height="1.1" fill="#a899d7"/>
<rect x="504" y="595.7" width="4.6" height="1.1" fill="#9483cd"/>
<rect x="504" y="596.7" width="4.6" height="1.1" fill="#8575c8"/>
<rect x="504" y="597.7" width="4.6" height="1.1" fill="#7566c3"/>
<rect x="504" y="598.7" width="4.6" height="1.1" fill="#675cbf"/>
<rect x="504" y="599.7" width="4.6" height="1.1" fill="#5a57bc"/>
<rect x="504" y="600.7" width="4.6" height="1.1" fill="#4e52b9"/>
<rect x="504" y="601.7" width="4.6" height="1.1" fill="#4651b9"/>
<rect x="504" y="602.7" width="4.6" height="1.1" fill="#4151b9"/>
<rect x="504" y="603.7" width="4.6" height="1.1" fill="#3c52ba"/>
<text x="510" y="577.9" font-size="2.6" text-anchor="start" fill="#2a2a2a">1.00</text>
<text x="510" y="584.5" font-size="2.6" text-anchor="start" fill="#2a2a2a">0.75</text>
<text x="510" y="591.1" font-size="2.6" text-anchor="start" fill="#2a2a2a">0.50</text>
<text x="510" y="597.7" font-size="2.6" text-anchor="start" fill="#2a2a2a">0.25</text>
<text x="510" y="604.3" font-size="2.6" text-anchor="start" fill="#2a2a2a">0.00</text>
<text x="3.8" y="687.6" font-size="12.8" text-anchor="start" fill="#000" font-weight="bold">H</text>
<rect x="29.9" y="789" width="7.4" height="0.8" fill="#e8902a" stroke="#222" stroke-width="0.7"/>
<line x1="29.9" y1="789" x2="37.3" y2="789" stroke="#111" stroke-width="1.4"/>
<line x1="43.5" y1="786.5" x2="43.5" y2="788.8" stroke="#3a3a3a" stroke-width="0.95"/>
<rect x="39.8" y="786.5" width="7.4" height="1.8" fill="#444444" stroke="#222" stroke-width="0.7"/>
<line x1="39.8" y1="787.5" x2="47.2" y2="787.5" stroke="#111" stroke-width="1.4"/>
<rect x="49.6" y="781" width="7.4" height="0.8" fill="#c8a0c8" stroke="#222" stroke-width="0.7"/>
<line x1="49.6" y1="781" x2="57" y2="781" stroke="#111" stroke-width="1.4"/>
<line x1="63.1" y1="758" x2="63.1" y2="762" stroke="#3a3a3a" stroke-width="0.95"/>
<rect x="59.4" y="758.6" width="7.4" height="2.7" fill="#e04a58" stroke="#222" stroke-width="0.7"/>
<line x1="59.4" y1="760" x2="66.8" y2="760" stroke="#111" stroke-width="1.4"/>
<line x1="73" y1="761" x2="73" y2="769" stroke="#3a3a3a" stroke-width="0.95"/>
<rect x="69.3" y="763" width="7.4" height="4.6" fill="#f08a8a" stroke="#222" stroke-width="0.7"/>
<line x1="69.3" y1="766" x2="76.7" y2="766" stroke="#111" stroke-width="1.4"/>
<line x1="82.8" y1="754.5" x2="82.8" y2="765" stroke="#3a3a3a" stroke-width="0.95"/>
<rect x="79.1" y="758" width="7.4" height="5" fill="#d06a9a" stroke="#222" stroke-width="0.7"/>
<line x1="79.1" y1="760" x2="86.5" y2="760" stroke="#111" stroke-width="1.4"/>
<line x1="92.7" y1="741" x2="92.7" y2="767" stroke="#3a3a3a" stroke-width="0.95"/>
<rect x="89" y="751" width="7.4" height="13" fill="#f4b8d0" stroke="#222" stroke-width="0.7"/>
<line x1="89" y1="760" x2="96.4" y2="760" stroke="#111" stroke-width="1.4"/>
<line x1="102.6" y1="732" x2="102.6" y2="739" stroke="#3a3a3a" stroke-width="0.95"/>
<rect x="98.9" y="734" width="7.4" height="4" fill="#3a6ea8" stroke="#222" stroke-width="0.7"/>
<line x1="98.9" y1="736" x2="106.3" y2="736" stroke="#111" stroke-width="1.4"/>
<line x1="112.4" y1="729.5" x2="112.4" y2="749" stroke="#3a3a3a" stroke-width="0.95"/>
<rect x="108.7" y="738" width="7.4" height="10" fill="#a0ccec" stroke="#222" stroke-width="0.7"/>
<line x1="108.7" y1="747" x2="116.1" y2="747" stroke="#111" stroke-width="1.4"/>
<line x1="122.2" y1="732" x2="122.2" y2="746" stroke="#3a3a3a" stroke-width="0.95"/>
<rect x="118.5" y="737" width="7.4" height="7" fill="#80c0b0" stroke="#222" stroke-width="0.7"/>
<line x1="118.5" y1="742" x2="126" y2="742" stroke="#111" stroke-width="1.4"/>
<line x1="132.1" y1="735" x2="132.1" y2="752" stroke="#3a3a3a" stroke-width="0.95"/>
<rect x="128.4" y="739.5" width="7.4" height="8.5" fill="#4a92cc" stroke="#222" stroke-width="0.7"/>
<line x1="128.4" y1="742" x2="135.8" y2="742" stroke="#111" stroke-width="1.4"/>
<line x1="141.9" y1="704" x2="141.9" y2="761" stroke="#3a3a3a" stroke-width="0.95"/>
<rect x="138.2" y="708" width="7.4" height="29" fill="#2a8a80" stroke="#222" stroke-width="0.7"/>
<line x1="138.2" y1="713.5" x2="145.6" y2="713.5" stroke="#111" stroke-width="1.4"/>
<line x1="151.8" y1="729.5" x2="151.8" y2="756" stroke="#3a3a3a" stroke-width="0.95"/>
<rect x="148.1" y="730" width="7.4" height="14" fill="#48a048" stroke="#222" stroke-width="0.7"/>
<line x1="148.1" y1="731" x2="155.5" y2="731" stroke="#111" stroke-width="1.4"/>
<line x1="161.6" y1="735" x2="161.6" y2="764" stroke="#3a3a3a" stroke-width="0.95"/>
<rect x="157.9" y="741" width="7.4" height="14" fill="#90d07c" stroke="#222" stroke-width="0.7"/>
<line x1="157.9" y1="747.5" x2="165.3" y2="747.5" stroke="#111" stroke-width="1.4"/>
<rect x="167.8" y="789" width="7.4" height="0.8" fill="#b0b0b0" stroke="#222" stroke-width="0.7"/>
<line x1="167.8" y1="789" x2="175.2" y2="789" stroke="#111" stroke-width="1.4"/>
<line x1="181.3" y1="752" x2="181.3" y2="781.5" stroke="#3a3a3a" stroke-width="0.95"/>
<rect x="177.7" y="760" width="7.4" height="15.4" fill="#f4cc50" stroke="#222" stroke-width="0.7"/>
<line x1="177.7" y1="768.9" x2="185" y2="768.9" stroke="#111" stroke-width="1.4"/>
<rect x="28.3" y="689" width="158.3" height="105.2" fill="none" stroke="#111" stroke-width="1.2"/>
<text x="36.5" y="802.4" font-size="7.4" text-anchor="end" fill="#3a3a3a" transform="rotate(-45 36.5 802.4)">N</text>
<text x="46.4" y="802.4" font-size="7.4" text-anchor="end" fill="#3a3a3a" transform="rotate(-45 46.4 802.4)">Mem1</text>
<text x="56.2" y="802.4" font-size="7.4" text-anchor="end" fill="#3a3a3a" transform="rotate(-45 56.2 802.4)">Mem2</text>
<text x="66" y="802.4" font-size="7.4" text-anchor="end" fill="#3a3a3a" transform="rotate(-45 66 802.4)">EM1</text>
<text x="75.9" y="802.4" font-size="7.4" text-anchor="end" fill="#3a3a3a" transform="rotate(-45 75.9 802.4)">EM2</text>
<text x="85.8" y="802.4" font-size="7.4" text-anchor="end" fill="#3a3a3a" transform="rotate(-45 85.8 802.4)">INF1</text>
<text x="95.6" y="802.4" font-size="7.4" text-anchor="end" fill="#3a3a3a" transform="rotate(-45 95.6 802.4)">INF2</text>
<text x="105.5" y="802.4" font-size="7.4" text-anchor="end" fill="#3a3a3a" transform="rotate(-45 105.5 802.4)">CTL1</text>
<text x="115.3" y="802.4" font-size="7.4" text-anchor="end" fill="#3a3a3a" transform="rotate(-45 115.3 802.4)">CTL2</text>
<text x="125.2" y="802.4" font-size="7.4" text-anchor="end" fill="#3a3a3a" transform="rotate(-45 125.2 802.4)">CTL INF1</text>
<text x="135" y="802.4" font-size="7.4" text-anchor="end" fill="#3a3a3a" transform="rotate(-45 135 802.4)">CTL INF2</text>
<text x="144.8" y="802.4" font-size="7.4" text-anchor="end" fill="#3a3a3a" transform="rotate(-45 144.8 802.4)">CTL INF3</text>
<text x="154.7" y="802.4" font-size="7.4" text-anchor="end" fill="#3a3a3a" transform="rotate(-45 154.7 802.4)">NK-like1</text>
<text x="164.5" y="802.4" font-size="7.4" text-anchor="end" fill="#3a3a3a" transform="rotate(-45 164.5 802.4)">NK-like2</text>
<text x="174.4" y="802.4" font-size="7.4" text-anchor="end" fill="#3a3a3a" transform="rotate(-45 174.4 802.4)">MAIT</text>
<text x="184.2" y="802.4" font-size="7.4" text-anchor="end" fill="#3a3a3a" transform="rotate(-45 184.2 802.4)">Ex</text>
<path d="M33.6 794.6v2M43.5 794.6v2M53.3 794.6v2M63.1 794.6v2M73 794.6v2M82.8 794.6v2M92.7 794.6v2M102.6 794.6v2M112.4 794.6v2M122.2 794.6v2M132.1 794.6v2M141.9 794.6v2M151.8 794.6v2M161.6 794.6v2M171.5 794.6v2M181.3 794.6v2" stroke="#333" stroke-width="0.7"/>
<line x1="199.3" y1="779" x2="199.3" y2="790" stroke="#3a3a3a" stroke-width="0.95"/>
<rect x="195.6" y="783.8" width="7.4" height="6.2" fill="#e8902a" stroke="#222" stroke-width="0.7"/>
<line x1="195.6" y1="788.3" x2="203" y2="788.3" stroke="#111" stroke-width="1.4"/>
<rect x="205.5" y="789.4" width="7.4" height="0.8" fill="#444444" stroke="#222" stroke-width="0.7"/>
<line x1="205.5" y1="789.4" x2="212.8" y2="789.4" stroke="#111" stroke-width="1.4"/>
<line x1="219" y1="758" x2="219" y2="788" stroke="#3a3a3a" stroke-width="0.95"/>
<rect x="215.3" y="772" width="7.4" height="14" fill="#c8a0c8" stroke="#222" stroke-width="0.7"/>
<line x1="215.3" y1="776" x2="222.7" y2="776" stroke="#111" stroke-width="1.4"/>
<line x1="228.9" y1="704" x2="228.9" y2="790" stroke="#3a3a3a" stroke-width="0.95"/>
<rect x="225.2" y="740.6" width="7.4" height="38.4" fill="#e04a58" stroke="#222" stroke-width="0.7"/>
<line x1="225.2" y1="757" x2="232.6" y2="757" stroke="#111" stroke-width="1.4"/>
<line x1="238.7" y1="713" x2="238.7" y2="790" stroke="#3a3a3a" stroke-width="0.95"/>
<rect x="235" y="743" width="7.4" height="29.8" fill="#f08a8a" stroke="#222" stroke-width="0.7"/>
<line x1="235" y1="760.5" x2="242.4" y2="760.5" stroke="#111" stroke-width="1.4"/>
<line x1="248.6" y1="718.8" x2="248.6" y2="790" stroke="#3a3a3a" stroke-width="0.95"/>
<rect x="244.9" y="737" width="7.4" height="25" fill="#d06a9a" stroke="#222" stroke-width="0.7"/>
<line x1="244.9" y1="755.5" x2="252.2" y2="755.5" stroke="#111" stroke-width="1.4"/>
<line x1="258.4" y1="717.4" x2="258.4" y2="790" stroke="#3a3a3a" stroke-width="0.95"/>
<rect x="254.7" y="746.8" width="7.4" height="26.7" fill="#f4b8d0" stroke="#222" stroke-width="0.7"/>
<line x1="254.7" y1="757" x2="262.1" y2="757" stroke="#111" stroke-width="1.4"/>
<line x1="268.2" y1="709.4" x2="268.2" y2="785.6" stroke="#3a3a3a" stroke-width="0.95"/>
<rect x="264.6" y="735.4" width="7.4" height="23.6" fill="#3a6ea8" stroke="#222" stroke-width="0.7"/>
<line x1="264.6" y1="741.6" x2="271.9" y2="741.6" stroke="#111" stroke-width="1.4"/>
<line x1="278.1" y1="710.5" x2="278.1" y2="790" stroke="#3a3a3a" stroke-width="0.95"/>
<rect x="274.4" y="737" width="7.4" height="26" fill="#a0ccec" stroke="#222" stroke-width="0.7"/>
<line x1="274.4" y1="744.4" x2="281.8" y2="744.4" stroke="#111" stroke-width="1.4"/>
<line x1="287.9" y1="707.7" x2="287.9" y2="790" stroke="#3a3a3a" stroke-width="0.95"/>
<rect x="284.2" y="732.6" width="7.4" height="20.1" fill="#80c0b0" stroke="#222" stroke-width="0.7"/>
<line x1="284.2" y1="743.3" x2="291.6" y2="743.3" stroke="#111" stroke-width="1.4"/>
<line x1="297.8" y1="709.4" x2="297.8" y2="762.4" stroke="#3a3a3a" stroke-width="0.95"/>
<rect x="294.1" y="726" width="7.4" height="25.6" fill="#4a92cc" stroke="#222" stroke-width="0.7"/>
<line x1="294.1" y1="744.4" x2="301.5" y2="744.4" stroke="#111" stroke-width="1.4"/>
<line x1="307.6" y1="693.8" x2="307.6" y2="790" stroke="#3a3a3a" stroke-width="0.95"/>
<rect x="303.9" y="731" width="7.4" height="58.4" fill="#2a8a80" stroke="#222" stroke-width="0.7"/>
<line x1="303.9" y1="754.8" x2="311.3" y2="754.8" stroke="#111" stroke-width="1.4"/>
<line x1="317.5" y1="712.9" x2="317.5" y2="790" stroke="#3a3a3a" stroke-width="0.95"/>
<rect x="313.8" y="733" width="7.4" height="23.8" fill="#48a048" stroke="#222" stroke-width="0.7"/>
<line x1="313.8" y1="745" x2="321.2" y2="745" stroke="#111" stroke-width="1.4"/>
<line x1="327.4" y1="701.5" x2="327.4" y2="767.3" stroke="#3a3a3a" stroke-width="0.95"/>
<rect x="323.7" y="729.3" width="7.4" height="23.7" fill="#90d07c" stroke="#222" stroke-width="0.7"/>
<line x1="323.7" y1="738.8" x2="331.1" y2="738.8" stroke="#111" stroke-width="1.4"/>
<rect x="333.5" y="789.4" width="7.4" height="0.8" fill="#b0b0b0" stroke="#222" stroke-width="0.7"/>
<line x1="333.5" y1="789.4" x2="340.9" y2="789.4" stroke="#111" stroke-width="1.4"/>
<line x1="347.1" y1="750.9" x2="347.1" y2="790.5" stroke="#3a3a3a" stroke-width="0.95"/>
<rect x="343.4" y="773" width="7.4" height="17.5" fill="#f4cc50" stroke="#222" stroke-width="0.7"/>
<line x1="343.4" y1="789.5" x2="350.8" y2="789.5" stroke="#111" stroke-width="1.4"/>
<rect x="193.1" y="689" width="159.4" height="105.2" fill="none" stroke="#111" stroke-width="1.2"/>
<text x="202.2" y="802.4" font-size="7.4" text-anchor="end" fill="#3a3a3a" transform="rotate(-45 202.2 802.4)">N</text>
<text x="212.1" y="802.4" font-size="7.4" text-anchor="end" fill="#3a3a3a" transform="rotate(-45 212.1 802.4)">Mem1</text>
<text x="221.9" y="802.4" font-size="7.4" text-anchor="end" fill="#3a3a3a" transform="rotate(-45 221.9 802.4)">Mem2</text>
<text x="231.8" y="802.4" font-size="7.4" text-anchor="end" fill="#3a3a3a" transform="rotate(-45 231.8 802.4)">EM1</text>
<text x="241.6" y="802.4" font-size="7.4" text-anchor="end" fill="#3a3a3a" transform="rotate(-45 241.6 802.4)">EM2</text>
<text x="251.5" y="802.4" font-size="7.4" text-anchor="end" fill="#3a3a3a" transform="rotate(-45 251.5 802.4)">INF1</text>
<text x="261.3" y="802.4" font-size="7.4" text-anchor="end" fill="#3a3a3a" transform="rotate(-45 261.3 802.4)">INF2</text>
<text x="271.1" y="802.4" font-size="7.4" text-anchor="end" fill="#3a3a3a" transform="rotate(-45 271.1 802.4)">CTL1</text>
<text x="281" y="802.4" font-size="7.4" text-anchor="end" fill="#3a3a3a" transform="rotate(-45 281 802.4)">CTL2</text>
<text x="290.8" y="802.4" font-size="7.4" text-anchor="end" fill="#3a3a3a" transform="rotate(-45 290.8 802.4)">CTL INF1</text>
<text x="300.7" y="802.4" font-size="7.4" text-anchor="end" fill="#3a3a3a" transform="rotate(-45 300.7 802.4)">CTL INF2</text>
<text x="310.5" y="802.4" font-size="7.4" text-anchor="end" fill="#3a3a3a" transform="rotate(-45 310.5 802.4)">CTL INF3</text>
<text x="320.4" y="802.4" font-size="7.4" text-anchor="end" fill="#3a3a3a" transform="rotate(-45 320.4 802.4)">NK-like1</text>
<text x="330.2" y="802.4" font-size="7.4" text-anchor="end" fill="#3a3a3a" transform="rotate(-45 330.2 802.4)">NK-like2</text>
<text x="340.1" y="802.4" font-size="7.4" text-anchor="end" fill="#3a3a3a" transform="rotate(-45 340.1 802.4)">MAIT</text>
<text x="349.9" y="802.4" font-size="7.4" text-anchor="end" fill="#3a3a3a" transform="rotate(-45 349.9 802.4)">Ex</text>
<path d="M199.3 794.6v2M209.2 794.6v2M219 794.6v2M228.9 794.6v2M238.7 794.6v2M248.6 794.6v2M258.4 794.6v2M268.2 794.6v2M278.1 794.6v2M287.9 794.6v2M297.8 794.6v2M307.6 794.6v2M317.5 794.6v2M327.4 794.6v2M337.2 794.6v2M347.1 794.6v2" stroke="#333" stroke-width="0.7"/>
<line x1="364.3" y1="779" x2="364.3" y2="790.5" stroke="#3a3a3a" stroke-width="0.95"/>
<rect x="360.6" y="782.3" width="7.4" height="8.2" fill="#e8902a" stroke="#222" stroke-width="0.7"/>
<line x1="360.6" y1="789" x2="368" y2="789" stroke="#111" stroke-width="1.4"/>
<line x1="374.2" y1="787.5" x2="374.2" y2="790" stroke="#3a3a3a" stroke-width="0.95"/>
<rect x="370.5" y="788.2" width="7.4" height="1.7" fill="#444444" stroke="#222" stroke-width="0.7"/>
<line x1="370.5" y1="789.2" x2="377.9" y2="789.2" stroke="#111" stroke-width="1.4"/>
<line x1="384" y1="780" x2="384" y2="790" stroke="#3a3a3a" stroke-width="0.95"/>
<rect x="380.3" y="783.2" width="7.4" height="4.6" fill="#666" stroke="#222" stroke-width="0.7"/>
<line x1="380.3" y1="786" x2="387.7" y2="786" stroke="#111" stroke-width="1.4"/>
<line x1="393.9" y1="733.9" x2="393.9" y2="788.5" stroke="#3a3a3a" stroke-width="0.95"/>
<rect x="390.2" y="755.3" width="7.4" height="26.1" fill="#e04a58" stroke="#222" stroke-width="0.7"/>
<line x1="390.2" y1="777.2" x2="397.6" y2="777.2" stroke="#111" stroke-width="1.4"/>
<line x1="413.6" y1="738.8" x2="413.6" y2="780.4" stroke="#3a3a3a" stroke-width="0.95"/>
<rect x="409.9" y="748.5" width="7.4" height="29.5" fill="#d06a9a" stroke="#222" stroke-width="0.7"/>
<line x1="409.9" y1="762.4" x2="417.2" y2="762.4" stroke="#111" stroke-width="1.4"/>
<line x1="423.4" y1="721.5" x2="423.4" y2="771.7" stroke="#3a3a3a" stroke-width="0.95"/>
<rect x="419.7" y="741" width="7.4" height="25" fill="#f4b8d0" stroke="#222" stroke-width="0.7"/>
<line x1="419.7" y1="760.3" x2="427.1" y2="760.3" stroke="#111" stroke-width="1.4"/>
<line x1="433.2" y1="760" x2="433.2" y2="789" stroke="#3a3a3a" stroke-width="0.95"/>
<rect x="429.6" y="764" width="7.4" height="12" fill="#3a6ea8" stroke="#222" stroke-width="0.7"/>
<line x1="429.6" y1="771.7" x2="436.9" y2="771.7" stroke="#111" stroke-width="1.4"/>
<line x1="443.1" y1="754.5" x2="443.1" y2="763.7" stroke="#3a3a3a" stroke-width="0.95"/>
<rect x="439.4" y="754.5" width="7.4" height="5" fill="#a0ccec" stroke="#222" stroke-width="0.7"/>
<line x1="439.4" y1="756" x2="446.8" y2="756" stroke="#111" stroke-width="1.4"/>
<line x1="452.9" y1="740.3" x2="452.9" y2="789.6" stroke="#3a3a3a" stroke-width="0.95"/>
<rect x="449.2" y="754.5" width="7.4" height="19" fill="#80c0b0" stroke="#222" stroke-width="0.7"/>
<line x1="449.2" y1="759.8" x2="456.6" y2="759.8" stroke="#111" stroke-width="1.4"/>
<line x1="472.6" y1="740.3" x2="472.6" y2="789.6" stroke="#3a3a3a" stroke-width="0.95"/>
<rect x="468.9" y="743.9" width="7.4" height="23.1" fill="#2a8a80" stroke="#222" stroke-width="0.7"/>
<line x1="468.9" y1="745.2" x2="476.3" y2="745.2" stroke="#111" stroke-width="1.4"/>
<line x1="482.5" y1="737.5" x2="482.5" y2="767.3" stroke="#3a3a3a" stroke-width="0.95"/>
<rect x="478.8" y="747.2" width="7.4" height="18.1" fill="#48a048" stroke="#222" stroke-width="0.7"/>
<line x1="478.8" y1="757.6" x2="486.2" y2="757.6" stroke="#111" stroke-width="1.4"/>
<line x1="492.4" y1="733.3" x2="492.4" y2="781.7" stroke="#3a3a3a" stroke-width="0.95"/>
<rect x="488.7" y="739.4" width="7.4" height="25" fill="#90d07c" stroke="#222" stroke-width="0.7"/>
<line x1="488.7" y1="746.7" x2="496.1" y2="746.7" stroke="#111" stroke-width="1.4"/>
<line x1="502.2" y1="780.8" x2="502.2" y2="790" stroke="#3a3a3a" stroke-width="0.95"/>
<rect x="498.5" y="780.8" width="7.4" height="9.2" fill="#b0b0b0" stroke="#222" stroke-width="0.7"/>
<line x1="498.5" y1="789.5" x2="505.9" y2="789.5" stroke="#111" stroke-width="1.4"/>
<line x1="512" y1="785" x2="512" y2="790.2" stroke="#3a3a3a" stroke-width="0.95"/>
<rect x="508.3" y="786.3" width="7.4" height="3.9" fill="#f4cc50" stroke="#222" stroke-width="0.7"/>
<line x1="508.3" y1="789" x2="515.8" y2="789" stroke="#111" stroke-width="1.4"/>
<rect x="358.7" y="689" width="158.9" height="105.2" fill="none" stroke="#111" stroke-width="1.2"/>
<text x="367.2" y="802.4" font-size="7.4" text-anchor="end" fill="#3a3a3a" transform="rotate(-45 367.2 802.4)">N</text>
<text x="377.1" y="802.4" font-size="7.4" text-anchor="end" fill="#3a3a3a" transform="rotate(-45 377.1 802.4)">Mem1</text>
<text x="386.9" y="802.4" font-size="7.4" text-anchor="end" fill="#3a3a3a" transform="rotate(-45 386.9 802.4)">Mem2</text>
<text x="396.8" y="802.4" font-size="7.4" text-anchor="end" fill="#3a3a3a" transform="rotate(-45 396.8 802.4)">EM1</text>
<text x="406.6" y="802.4" font-size="7.4" text-anchor="end" fill="#3a3a3a" transform="rotate(-45 406.6 802.4)">EM2</text>
<text x="416.4" y="802.4" font-size="7.4" text-anchor="end" fill="#3a3a3a" transform="rotate(-45 416.4 802.4)">INF1</text>
<text x="426.3" y="802.4" font-size="7.4" text-anchor="end" fill="#3a3a3a" transform="rotate(-45 426.3 802.4)">INF2</text>
<text x="436.1" y="802.4" font-size="7.4" text-anchor="end" fill="#3a3a3a" transform="rotate(-45 436.1 802.4)">CTL1</text>
<text x="446" y="802.4" font-size="7.4" text-anchor="end" fill="#3a3a3a" transform="rotate(-45 446 802.4)">CTL2</text>
<text x="455.8" y="802.4" font-size="7.4" text-anchor="end" fill="#3a3a3a" transform="rotate(-45 455.8 802.4)">CTL INF1</text>
<text x="465.7" y="802.4" font-size="7.4" text-anchor="end" fill="#3a3a3a" transform="rotate(-45 465.7 802.4)">CTL INF2</text>
<text x="475.5" y="802.4" font-size="7.4" text-anchor="end" fill="#3a3a3a" transform="rotate(-45 475.5 802.4)">CTL INF3</text>
<text x="485.4" y="802.4" font-size="7.4" text-anchor="end" fill="#3a3a3a" transform="rotate(-45 485.4 802.4)">NK-like1</text>
<text x="495.2" y="802.4" font-size="7.4" text-anchor="end" fill="#3a3a3a" transform="rotate(-45 495.2 802.4)">NK-like2</text>
<text x="505.1" y="802.4" font-size="7.4" text-anchor="end" fill="#3a3a3a" transform="rotate(-45 505.1 802.4)">MAIT</text>
<text x="514.9" y="802.4" font-size="7.4" text-anchor="end" fill="#3a3a3a" transform="rotate(-45 514.9 802.4)">Ex</text>
<path d="M364.3 794.6v2M374.2 794.6v2M384 794.6v2M393.9 794.6v2M403.7 794.6v2M413.6 794.6v2M423.4 794.6v2M433.2 794.6v2M443.1 794.6v2M452.9 794.6v2M462.8 794.6v2M472.6 794.6v2M482.5 794.6v2M492.4 794.6v2M502.2 794.6v2M512 794.6v2" stroke="#333" stroke-width="0.7"/>
<line x1="26.3" y1="789.7" x2="28.3" y2="789.7" stroke="#333" stroke-width="0.7"/>
<text x="22.6" y="793.2" font-size="9.8" text-anchor="end" fill="#4a4a4a">0</text>
<line x1="26.3" y1="757.6" x2="28.3" y2="757.6" stroke="#333" stroke-width="0.7"/>
<text x="22.6" y="761.1" font-size="9.8" text-anchor="end" fill="#4a4a4a">1</text>
<line x1="26.3" y1="725.5" x2="28.3" y2="725.5" stroke="#333" stroke-width="0.7"/>
<text x="22.6" y="729" font-size="9.8" text-anchor="end" fill="#4a4a4a">2</text>
<line x1="26.3" y1="693.4" x2="28.3" y2="693.4" stroke="#333" stroke-width="0.7"/>
<text x="22.6" y="696.9" font-size="9.8" text-anchor="end" fill="#4a4a4a">3</text>
<text x="9" y="743.5" font-size="9.4" text-anchor="middle" fill="#222" transform="rotate(-90 9 743.5)">Transition index score</text>
</svg></body></html>
